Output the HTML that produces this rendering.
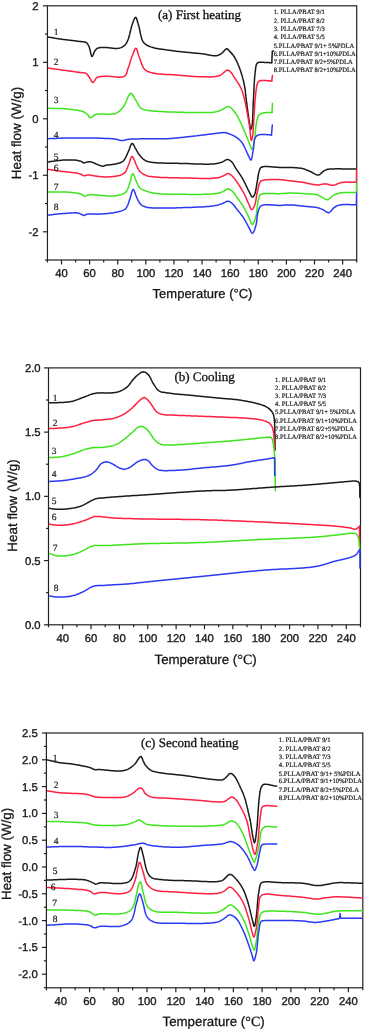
<!DOCTYPE html>
<html><head><meta charset="utf-8"><title>DSC curves</title>
<style>html,body{margin:0;padding:0;background:#fff;width:365px;height:1030px;overflow:hidden}
svg{display:block;will-change:transform;text-rendering:geometricPrecision}text{font-family:"Liberation Sans",sans-serif}.sr{font-family:"Liberation Serif",serif}</style>
</head><body><svg width="365" height="1030" viewBox="0 0 365 1030"><clipPath id="ca"><rect x="48.05" y="5.30" width="309.15" height="255.20"/></clipPath><g stroke="#222" stroke-width="1.2"><rect x="47.45" y="5.80" width="309.25" height="254.20" fill="none" stroke="#222" stroke-width="1.2"/><line x1="47.45" y1="260.00" x2="47.45" y2="262.50"/><line x1="61.51" y1="260.00" x2="61.51" y2="264.50"/><line x1="75.56" y1="260.00" x2="75.56" y2="262.50"/><line x1="89.62" y1="260.00" x2="89.62" y2="264.50"/><line x1="103.67" y1="260.00" x2="103.67" y2="262.50"/><line x1="117.73" y1="260.00" x2="117.73" y2="264.50"/><line x1="131.78" y1="260.00" x2="131.78" y2="262.50"/><line x1="145.83" y1="260.00" x2="145.83" y2="264.50"/><line x1="159.89" y1="260.00" x2="159.89" y2="262.50"/><line x1="173.94" y1="260.00" x2="173.94" y2="264.50"/><line x1="188.00" y1="260.00" x2="188.00" y2="262.50"/><line x1="202.06" y1="260.00" x2="202.06" y2="264.50"/><line x1="216.11" y1="260.00" x2="216.11" y2="262.50"/><line x1="230.17" y1="260.00" x2="230.17" y2="264.50"/><line x1="244.22" y1="260.00" x2="244.22" y2="262.50"/><line x1="258.27" y1="260.00" x2="258.27" y2="264.50"/><line x1="272.33" y1="260.00" x2="272.33" y2="262.50"/><line x1="286.38" y1="260.00" x2="286.38" y2="264.50"/><line x1="300.44" y1="260.00" x2="300.44" y2="262.50"/><line x1="314.50" y1="260.00" x2="314.50" y2="264.50"/><line x1="328.55" y1="260.00" x2="328.55" y2="262.50"/><line x1="342.60" y1="260.00" x2="342.60" y2="264.50"/><line x1="356.66" y1="260.00" x2="356.66" y2="262.50"/><line x1="42.95" y1="5.80" x2="47.45" y2="5.80"/><line x1="42.95" y1="62.30" x2="47.45" y2="62.30"/><line x1="42.95" y1="118.80" x2="47.45" y2="118.80"/><line x1="42.95" y1="175.30" x2="47.45" y2="175.30"/><line x1="42.95" y1="231.80" x2="47.45" y2="231.80"/><line x1="44.95" y1="34.05" x2="47.45" y2="34.05"/><line x1="44.95" y1="90.55" x2="47.45" y2="90.55"/><line x1="44.95" y1="147.05" x2="47.45" y2="147.05"/><line x1="44.95" y1="203.55" x2="47.45" y2="203.55"/><line x1="44.95" y1="260.05" x2="47.45" y2="260.05"/></g><g clip-path="url(#ca)" fill="none" stroke-width="1.50" stroke-linejoin="round" stroke-linecap="round"><path d="M47.7,37.0 L48.7,37.2 L49.6,37.3 L50.6,37.5 L51.6,37.6 L52.5,37.8 L53.5,38.0 L54.4,38.1 L55.4,38.3 L56.3,38.4 L57.3,38.6 L58.3,38.7 L59.3,38.9 L60.4,39.0 L61.4,39.2 L62.3,39.3 L63.3,39.5 L64.3,39.6 L65.3,39.7 L66.3,39.8 L67.4,40.0 L68.5,40.1 L69.5,40.2 L70.6,40.3 L71.7,40.5 L72.7,40.6 L73.8,40.7 L74.8,40.8 L75.8,41.0 L76.7,41.1 L77.6,41.2 L78.5,41.3 L79.3,41.4 L80.0,41.5 L81.1,41.6 L82.1,41.7 L83.0,41.8 L83.9,41.8 L84.7,42.0 L85.4,42.2 L86.1,42.5 L86.8,43.0 L87.4,43.6 L87.9,44.3 L88.3,45.1 L88.8,46.0 L89.1,46.7 L89.4,47.6 L89.7,48.7 L90.0,49.8 L90.3,51.0 L90.5,52.2 L90.8,53.3 L91.0,54.3 L91.3,55.2 L91.6,55.9 L91.8,56.3 L92.1,56.5 L92.5,56.2 L92.9,55.5 L93.3,54.5 L93.7,53.4 L94.1,52.4 L94.5,51.5 L95.0,50.7 L95.6,49.9 L96.2,49.2 L96.9,48.6 L97.6,48.2 L98.4,48.0 L99.3,47.8 L100.3,47.6 L101.4,47.5 L102.5,47.4 L103.3,47.4 L104.1,47.4 L105.0,47.4 L106.0,47.5 L107.0,47.6 L108.0,47.7 L109.1,47.8 L110.2,48.0 L111.3,48.1 L112.4,48.2 L113.5,48.3 L114.5,48.4 L115.5,48.4 L116.5,48.4 L117.4,48.4 L118.2,48.3 L119.0,48.2 L120.1,47.9 L121.1,47.6 L122.0,47.2 L122.8,46.7 L123.6,46.2 L124.3,45.6 L125.0,45.0 L125.6,44.3 L126.1,43.6 L126.6,42.9 L127.0,42.0 L127.4,41.2 L127.8,40.2 L128.2,39.2 L128.5,38.5 L128.8,37.6 L129.0,36.8 L129.3,35.8 L129.5,34.9 L129.8,33.9 L130.0,32.8 L130.3,31.8 L130.5,30.7 L130.8,29.7 L131.0,28.7 L131.2,27.7 L131.5,26.7 L131.8,25.8 L132.0,25.0 L132.3,24.2 L132.7,23.1 L133.1,21.9 L133.5,20.8 L134.0,19.7 L134.4,18.7 L134.8,18.0 L135.2,17.5 L135.6,17.3 L136.0,17.5 L136.3,18.0 L136.6,18.7 L137.0,19.7 L137.3,20.8 L137.6,22.0 L137.9,23.2 L138.3,24.4 L138.6,25.5 L138.8,26.3 L139.1,27.1 L139.3,28.0 L139.5,29.0 L139.7,30.0 L139.9,31.0 L140.1,32.0 L140.3,33.1 L140.5,34.1 L140.8,35.1 L141.0,36.2 L141.3,37.1 L141.5,38.1 L141.8,39.0 L142.2,39.9 L142.5,40.6 L142.9,41.4 L143.3,42.0 L143.9,42.8 L144.5,43.4 L145.2,44.0 L145.8,44.5 L146.6,45.0 L147.3,45.4 L148.2,45.8 L149.1,46.2 L150.1,46.6 L150.8,46.9 L151.5,47.1 L152.2,47.3 L153.0,47.5 L153.8,47.8 L154.7,48.0 L155.5,48.2 L156.5,48.4 L157.4,48.5 L158.3,48.7 L159.3,48.9 L160.3,49.0 L161.3,49.2 L162.4,49.3 L163.4,49.5 L164.5,49.6 L165.5,49.8 L166.6,49.9 L167.6,50.1 L168.7,50.2 L169.7,50.3 L170.8,50.5 L171.8,50.6 L172.8,50.7 L173.8,50.9 L174.8,51.0 L175.8,51.1 L176.7,51.3 L177.7,51.4 L178.7,51.5 L179.7,51.6 L180.7,51.7 L181.8,51.8 L182.8,51.9 L183.8,52.0 L184.8,52.1 L185.9,52.2 L186.9,52.3 L187.9,52.4 L189.0,52.5 L190.0,52.6 L191.0,52.7 L192.0,52.8 L193.0,52.9 L194.0,53.0 L195.0,53.1 L195.9,53.2 L196.9,53.2 L197.8,53.3 L198.7,53.4 L199.6,53.5 L200.5,53.6 L201.4,53.7 L202.2,53.8 L203.3,53.9 L204.4,54.1 L205.4,54.3 L206.5,54.5 L207.5,54.7 L208.5,54.9 L209.5,55.1 L210.5,55.3 L211.4,55.4 L212.4,55.6 L213.2,55.7 L214.1,55.8 L214.9,55.8 L215.7,55.8 L216.4,55.7 L217.3,55.5 L218.2,55.3 L219.0,54.9 L219.8,54.5 L220.5,54.1 L221.2,53.7 L221.9,53.2 L222.6,52.6 L223.3,51.8 L224.0,51.0 L224.7,50.2 L225.3,49.5 L226.0,49.0 L226.6,48.8 L227.3,49.0 L228.1,49.5 L228.8,50.3 L229.4,51.1 L230.1,51.8 L230.7,52.4 L231.4,53.1 L232.0,53.7 L232.6,54.5 L233.2,55.3 L233.7,56.0 L234.2,56.7 L234.7,57.5 L235.1,58.4 L235.6,59.3 L236.1,60.2 L236.6,61.1 L237.0,62.0 L237.5,63.0 L237.9,63.8 L238.2,64.7 L238.6,65.6 L239.0,66.5 L239.3,67.4 L239.7,68.4 L240.0,69.3 L240.4,70.3 L240.7,71.3 L241.0,72.2 L241.3,73.2 L241.6,74.2 L241.9,75.1 L242.2,76.0 L242.4,76.9 L242.7,77.8 L242.9,78.8 L243.1,79.7 L243.4,80.6 L243.6,81.5 L243.8,82.4 L244.0,83.4 L244.2,84.3 L244.4,85.2 L244.5,86.2 L244.7,87.1 L244.9,88.1 L245.0,89.0 L245.2,90.0 L245.3,91.0 L245.4,92.0 L245.5,93.0 L245.6,93.9 L245.7,94.9 L245.8,95.9 L245.9,96.9 L246.1,98.0 L246.2,99.0 L246.3,100.0 L246.4,100.9 L246.5,101.8 L246.7,102.8 L246.8,103.7 L246.9,104.7 L247.0,105.7 L247.2,106.6 L247.3,107.6 L247.4,108.6 L247.6,109.5 L247.7,110.5 L247.8,111.4 L247.9,112.4 L248.1,113.3 L248.2,114.1 L248.3,115.0 L248.4,116.0 L248.6,117.0 L248.7,118.0 L248.9,119.0 L249.0,119.9 L249.1,120.8 L249.3,121.8 L249.4,122.6 L249.5,123.5 L249.7,124.3 L249.8,125.0 L250.0,126.1 L250.2,127.3 L250.4,128.4 L250.6,129.1 L250.8,129.4 L251.1,129.1 L251.4,128.3 L251.7,127.3 L252.0,126.0 L252.1,125.5 L252.2,124.9 L252.3,124.2 L252.3,123.5 L252.4,122.7 L252.5,121.9 L252.5,121.0 L252.6,120.1 L252.7,119.2 L252.7,118.2 L252.7,117.2 L252.8,116.2 L252.8,115.1 L252.9,114.0 L252.9,112.9 L252.9,111.8 L253.0,110.7 L253.0,109.6 L253.0,108.5 L253.1,107.4 L253.1,106.3 L253.2,105.2 L253.2,104.1 L253.2,103.0 L253.3,102.0 L253.3,101.0 L253.4,100.0 L253.5,99.0 L253.5,98.0 L253.6,97.0 L253.6,96.0 L253.7,95.0 L253.7,94.0 L253.8,92.9 L253.8,91.9 L253.9,90.8 L253.9,89.8 L254.0,88.7 L254.0,87.6 L254.1,86.6 L254.1,85.6 L254.2,84.5 L254.3,83.5 L254.3,82.5 L254.4,81.5 L254.4,80.5 L254.5,79.6 L254.6,78.6 L254.6,77.7 L254.7,76.9 L254.8,76.0 L254.9,75.2 L254.9,74.4 L255.0,73.6 L255.1,72.9 L255.2,71.8 L255.4,70.7 L255.5,69.6 L255.6,68.6 L255.7,67.6 L255.9,66.8 L256.0,65.9 L256.2,65.2 L256.4,64.5 L256.7,64.0 L257.2,63.3 L257.7,62.8 L258.4,62.5 L259.1,62.3 L260.0,62.3 L260.9,62.3 L262.0,62.3 L262.8,62.3 L263.7,62.3 L264.6,62.4 L265.6,62.4 L266.6,62.5 L267.6,62.6 L268.7,62.6 L269.8,62.7 L270.8,62.7 L271.8,62.8" stroke="#1a1a1a"/><path d="M271.8,62.8 L272.3,51.3 L273.5,51.1" stroke="#1a1a1a"/><path d="M47.7,68.0 L48.7,68.1 L49.6,68.3 L50.6,68.4 L51.6,68.5 L52.5,68.7 L53.5,68.8 L54.4,68.9 L55.4,69.1 L56.4,69.2 L57.3,69.3 L58.3,69.5 L59.3,69.6 L60.4,69.8 L61.4,69.9 L62.3,70.0 L63.3,70.2 L64.3,70.3 L65.3,70.4 L66.4,70.6 L67.4,70.7 L68.5,70.9 L69.6,71.0 L70.6,71.2 L71.7,71.3 L72.7,71.5 L73.8,71.6 L74.8,71.8 L75.8,71.9 L76.7,72.0 L77.6,72.2 L78.5,72.3 L79.3,72.4 L80.0,72.5 L81.1,72.6 L82.1,72.7 L83.0,72.7 L83.8,72.8 L84.6,72.9 L85.4,73.1 L86.1,73.4 L86.8,73.9 L87.4,74.5 L87.9,75.2 L88.4,76.0 L88.9,76.8 L89.4,77.5 L89.9,78.3 L90.4,79.2 L90.9,80.1 L91.4,81.0 L91.9,81.8 L92.5,82.3 L93.0,82.5 L93.5,82.3 L94.0,81.7 L94.5,80.9 L95.1,79.9 L95.6,79.0 L96.3,78.1 L97.0,77.5 L97.7,77.1 L98.5,76.9 L99.3,76.7 L100.2,76.5 L101.2,76.4 L102.1,76.4 L103.1,76.3 L104.2,76.3 L105.3,76.2 L106.1,76.2 L107.0,76.2 L107.9,76.2 L108.9,76.3 L109.9,76.4 L111.0,76.5 L112.1,76.6 L113.2,76.7 L114.3,76.8 L115.4,76.9 L116.5,77.0 L117.6,77.1 L118.7,77.2 L119.7,77.2 L120.7,77.1 L121.6,77.1 L122.4,76.9 L123.2,76.8 L123.9,76.5 L124.5,76.2 L125.2,75.6 L125.8,74.9 L126.3,74.0 L126.7,73.1 L127.0,72.1 L127.3,71.1 L127.5,70.1 L127.8,69.0 L128.2,68.0 L128.5,67.1 L128.8,66.2 L129.2,65.3 L129.5,64.3 L129.8,63.3 L130.1,62.3 L130.4,61.3 L130.7,60.3 L131.0,59.3 L131.3,58.4 L131.6,57.4 L132.0,56.5 L132.3,55.7 L132.7,54.7 L133.1,53.6 L133.5,52.5 L133.9,51.4 L134.3,50.4 L134.7,49.6 L135.1,48.9 L135.5,48.4 L135.9,48.3 L136.2,48.5 L136.6,48.9 L136.9,49.6 L137.2,50.5 L137.5,51.5 L137.8,52.6 L138.1,53.7 L138.5,54.9 L138.8,56.0 L139.2,57.0 L139.5,57.8 L139.9,58.7 L140.2,59.7 L140.5,60.6 L140.8,61.6 L141.2,62.6 L141.5,63.6 L141.9,64.6 L142.3,65.5 L142.7,66.4 L143.2,67.3 L143.6,68.1 L144.1,68.8 L144.7,69.4 L145.4,70.1 L146.2,70.6 L147.0,71.1 L147.9,71.5 L148.8,71.8 L149.7,72.2 L150.7,72.4 L151.8,72.7 L152.9,73.0 L153.7,73.2 L154.5,73.3 L155.3,73.5 L156.2,73.6 L157.1,73.7 L158.0,73.9 L159.0,73.9 L159.9,74.0 L160.9,74.1 L162.0,74.2 L163.0,74.2 L164.1,74.3 L165.1,74.4 L166.2,74.4 L167.3,74.5 L168.4,74.5 L169.4,74.6 L170.5,74.6 L171.6,74.7 L172.7,74.8 L173.7,74.8 L174.8,74.9 L175.7,75.0 L176.7,75.1 L177.6,75.1 L178.6,75.2 L179.6,75.3 L180.6,75.4 L181.6,75.5 L182.6,75.6 L183.6,75.7 L184.6,75.7 L185.6,75.8 L186.7,75.9 L187.7,76.0 L188.7,76.1 L189.7,76.2 L190.8,76.3 L191.8,76.3 L192.8,76.4 L193.8,76.5 L194.8,76.5 L195.7,76.6 L196.7,76.6 L197.7,76.7 L198.6,76.7 L199.5,76.8 L200.4,76.8 L201.3,76.8 L202.2,76.8 L203.3,76.8 L204.3,76.8 L205.3,76.8 L206.4,76.8 L207.4,76.9 L208.4,76.9 L209.4,76.9 L210.4,76.9 L211.4,76.8 L212.3,76.8 L213.3,76.7 L214.2,76.7 L215.1,76.6 L216.0,76.5 L216.8,76.3 L217.6,76.1 L218.4,75.9 L219.2,75.7 L220.1,75.3 L221.0,74.8 L221.9,74.2 L222.7,73.5 L223.5,72.8 L224.2,72.1 L225.0,71.5 L225.7,70.9 L226.3,70.5 L227.0,70.2 L227.6,70.1 L228.5,70.3 L229.3,70.8 L230.1,71.5 L230.8,72.2 L231.5,73.0 L232.0,73.6 L232.5,74.3 L232.9,75.0 L233.3,75.8 L233.7,76.5 L234.2,77.3 L234.7,78.0 L235.2,78.8 L235.8,79.6 L236.4,80.5 L237.0,81.3 L237.5,82.1 L238.1,83.0 L238.6,83.8 L239.1,84.6 L239.5,85.4 L239.9,86.2 L240.4,87.0 L240.8,87.8 L241.2,88.6 L241.5,89.5 L241.9,90.4 L242.2,91.3 L242.5,92.2 L242.8,93.1 L243.1,94.0 L243.4,95.0 L243.7,96.0 L243.9,97.0 L244.2,98.0 L244.5,99.0 L244.7,100.0 L244.9,100.9 L245.1,101.8 L245.3,102.7 L245.5,103.6 L245.6,104.5 L245.8,105.4 L246.0,106.3 L246.2,107.2 L246.3,108.2 L246.5,109.1 L246.7,110.1 L246.8,111.0 L247.0,112.0 L247.2,112.9 L247.3,113.8 L247.5,114.7 L247.7,115.6 L247.9,116.6 L248.0,117.5 L248.2,118.4 L248.4,119.4 L248.5,120.3 L248.7,121.3 L248.9,122.2 L249.0,123.2 L249.2,124.1 L249.4,125.1 L249.5,126.0 L249.6,127.0 L249.8,128.1 L249.9,129.3 L250.0,130.6 L250.2,131.9 L250.3,133.2 L250.4,134.4 L250.5,135.6 L250.6,136.8 L250.8,137.8 L250.9,138.7 L251.0,139.4 L251.1,140.0 L251.3,140.4 L251.4,140.5 L251.6,140.2 L251.9,139.5 L252.1,138.5 L252.4,137.3 L252.6,136.0 L252.7,135.3 L252.8,134.6 L252.9,133.9 L253.0,133.0 L253.1,132.2 L253.1,131.2 L253.2,130.3 L253.3,129.3 L253.3,128.3 L253.4,127.3 L253.5,126.2 L253.5,125.2 L253.6,124.1 L253.6,123.0 L253.7,122.0 L253.8,120.9 L253.8,119.9 L253.9,118.9 L253.9,117.9 L254.0,117.0 L254.1,116.0 L254.1,115.1 L254.2,114.1 L254.2,113.1 L254.3,112.2 L254.4,111.2 L254.4,110.2 L254.5,109.3 L254.5,108.3 L254.6,107.4 L254.6,106.4 L254.7,105.5 L254.7,104.6 L254.8,103.6 L254.9,102.7 L254.9,101.8 L255.0,100.9 L255.1,100.0 L255.2,99.0 L255.3,97.9 L255.4,96.9 L255.5,95.8 L255.6,94.8 L255.7,93.7 L255.8,92.7 L255.9,91.7 L256.0,90.7 L256.1,89.8 L256.3,88.9 L256.4,88.1 L256.5,87.2 L256.7,86.5 L256.9,85.5 L257.1,84.5 L257.4,83.6 L257.7,82.8 L258.0,82.2 L258.4,81.6 L259.1,81.1 L259.9,80.8 L261.0,80.6 L261.7,80.5 L262.5,80.5 L263.4,80.5 L264.4,80.5 L265.4,80.6 L266.5,80.6 L267.6,80.7 L268.7,80.8 L269.7,80.9 L270.8,81.0 L271.8,81.0" stroke="#ff1f40"/><path d="M271.8,81.0 L272.4,75.5" stroke="#ff1f40"/><path d="M47.7,108.2 L48.7,108.2 L49.6,108.3 L50.6,108.3 L51.6,108.3 L52.6,108.3 L53.5,108.4 L54.5,108.4 L55.5,108.4 L56.5,108.4 L57.5,108.5 L58.4,108.5 L59.4,108.5 L60.4,108.5 L61.3,108.6 L62.3,108.6 L63.2,108.7 L64.2,108.8 L65.1,108.8 L66.1,108.9 L67.0,109.0 L68.0,109.1 L69.1,109.2 L70.1,109.3 L71.2,109.5 L72.3,109.6 L73.4,109.7 L74.4,109.9 L75.5,110.0 L76.5,110.2 L77.5,110.3 L78.5,110.5 L79.5,110.7 L80.4,110.9 L81.2,111.1 L82.0,111.3 L82.7,111.6 L83.4,111.8 L84.5,112.3 L85.3,112.8 L86.1,113.3 L86.8,113.9 L87.5,114.5 L88.1,115.2 L88.6,116.0 L89.1,116.8 L89.6,117.5 L90.2,117.8 L90.8,117.7 L91.5,117.4 L92.2,116.9 L92.9,116.2 L93.7,115.5 L94.7,114.9 L95.7,114.5 L96.4,114.3 L97.2,114.2 L98.0,114.1 L98.9,114.0 L99.9,114.0 L100.9,114.0 L101.9,114.0 L103.0,114.1 L104.1,114.1 L105.2,114.1 L106.3,114.2 L107.5,114.2 L108.6,114.2 L109.7,114.2 L110.7,114.2 L111.8,114.1 L112.8,114.0 L113.7,113.9 L114.6,113.7 L115.4,113.5 L116.2,113.2 L117.1,112.7 L118.0,112.2 L118.8,111.6 L119.6,111.0 L120.3,110.3 L121.0,109.6 L121.7,108.8 L122.3,108.0 L122.9,107.3 L123.5,106.5 L124.0,105.7 L124.5,105.0 L125.0,104.1 L125.5,103.2 L125.9,102.3 L126.3,101.3 L126.6,100.4 L126.9,99.4 L127.3,98.6 L127.6,97.7 L128.0,97.0 L128.5,96.0 L129.1,95.0 L129.6,94.2 L130.2,93.5 L130.8,93.3 L131.3,93.5 L131.9,94.0 L132.4,94.7 L133.0,95.5 L133.6,96.5 L134.2,97.6 L134.8,98.6 L135.4,99.5 L135.9,100.3 L136.4,101.1 L136.9,102.0 L137.3,102.9 L137.8,103.8 L138.3,104.7 L138.8,105.5 L139.3,106.3 L139.8,107.0 L140.4,107.7 L140.9,108.2 L141.6,108.8 L142.4,109.1 L143.1,109.4 L144.0,109.6 L145.0,109.9 L145.7,110.1 L146.4,110.2 L147.1,110.3 L147.9,110.5 L148.7,110.6 L149.6,110.7 L150.5,110.8 L151.4,110.9 L152.4,111.0 L153.4,111.0 L154.5,111.1 L155.5,111.2 L156.6,111.3 L157.7,111.3 L158.8,111.4 L160.0,111.5 L160.8,111.5 L161.5,111.6 L162.4,111.6 L163.2,111.7 L164.1,111.7 L165.0,111.8 L165.9,111.8 L166.9,111.9 L167.9,111.9 L168.8,111.9 L169.9,112.0 L170.9,112.0 L171.9,112.0 L173.0,112.1 L174.0,112.1 L175.1,112.1 L176.2,112.2 L177.3,112.2 L178.4,112.2 L179.4,112.3 L180.5,112.3 L181.6,112.3 L182.7,112.3 L183.8,112.3 L184.9,112.4 L186.0,112.4 L187.0,112.4 L188.1,112.4 L189.1,112.4 L190.1,112.4 L191.2,112.5 L192.1,112.5 L193.1,112.5 L194.1,112.5 L195.0,112.5 L195.9,112.5 L196.8,112.5 L197.6,112.5 L198.5,112.5 L199.2,112.5 L200.0,112.5 L201.1,112.5 L202.3,112.5 L203.3,112.5 L204.4,112.5 L205.4,112.5 L206.4,112.5 L207.4,112.5 L208.3,112.5 L209.3,112.5 L210.2,112.5 L211.0,112.4 L211.9,112.4 L212.7,112.3 L213.5,112.2 L214.2,112.1 L215.0,112.0 L216.1,111.8 L217.1,111.5 L218.0,111.3 L218.9,111.0 L219.8,110.6 L220.7,110.3 L221.6,109.9 L222.4,109.5 L223.3,109.0 L224.1,108.4 L224.9,107.8 L225.8,107.3 L226.6,106.9 L227.4,106.6 L228.2,106.6 L229.0,106.8 L229.7,107.1 L230.5,107.6 L231.2,108.2 L231.9,108.8 L232.6,109.6 L233.3,110.4 L234.0,111.2 L234.7,112.0 L235.2,112.7 L235.7,113.4 L236.3,114.2 L236.7,115.0 L237.2,115.8 L237.7,116.7 L238.2,117.6 L238.6,118.5 L239.1,119.4 L239.5,120.3 L240.0,121.3 L240.4,122.2 L240.9,123.2 L241.3,124.1 L241.7,125.0 L242.1,125.8 L242.5,126.7 L242.9,127.6 L243.3,128.6 L243.7,129.5 L244.1,130.5 L244.5,131.4 L244.9,132.4 L245.3,133.3 L245.7,134.2 L246.1,135.2 L246.4,136.1 L246.8,137.0 L247.2,137.8 L247.5,138.7 L247.9,139.5 L248.3,140.6 L248.8,141.7 L249.2,142.9 L249.6,144.1 L250.1,145.2 L250.5,146.3 L250.9,147.3 L251.3,148.2 L251.6,148.8 L252.0,149.2 L252.3,149.3 L252.6,149.1 L252.8,148.7 L253.1,148.1 L253.3,147.3 L253.5,146.3 L253.6,145.2 L253.8,144.1 L254.0,142.9 L254.2,141.7 L254.3,140.6 L254.5,139.5 L254.6,138.6 L254.8,137.7 L254.9,136.8 L255.0,135.8 L255.1,134.7 L255.2,133.7 L255.3,132.6 L255.4,131.6 L255.5,130.5 L255.6,129.4 L255.7,128.4 L255.8,127.3 L255.9,126.3 L256.0,125.3 L256.2,124.4 L256.3,123.5 L256.4,122.7 L256.6,121.9 L256.9,120.7 L257.1,119.6 L257.4,118.6 L257.6,117.6 L258.0,116.8 L258.3,116.0 L258.8,115.3 L259.5,114.6 L260.2,114.0 L261.1,113.6 L262.1,113.2 L262.9,113.0 L263.7,112.9 L264.7,112.8 L265.6,112.7 L266.7,112.6 L267.8,112.6 L268.9,112.6 L269.9,112.6 L271.0,112.6 L272.0,112.5" stroke="#3ee41c"/><path d="M272.0,112.5 L272.4,103.3" stroke="#3ee41c"/><path d="M47.7,138.7 L48.7,138.7 L49.7,138.6 L50.7,138.6 L51.6,138.6 L52.6,138.5 L53.6,138.5 L54.6,138.4 L55.6,138.4 L56.5,138.4 L57.5,138.3 L58.5,138.3 L59.5,138.3 L60.5,138.2 L61.4,138.2 L62.4,138.1 L63.4,138.1 L64.4,138.1 L65.4,138.0 L66.4,138.0 L67.4,138.0 L68.4,138.0 L69.4,137.9 L70.4,137.9 L71.4,137.9 L72.4,137.9 L73.4,137.9 L74.3,137.9 L75.3,137.9 L76.3,137.9 L77.3,137.9 L78.3,137.9 L79.3,137.9 L80.3,137.9 L81.3,137.9 L82.4,137.9 L83.4,137.9 L84.4,137.9 L85.4,137.9 L86.4,137.9 L87.5,137.9 L88.5,137.9 L89.5,137.9 L90.5,138.0 L91.5,138.0 L92.4,138.0 L93.4,138.0 L94.4,138.0 L95.3,138.1 L96.2,138.1 L97.2,138.1 L98.1,138.1 L98.9,138.2 L99.8,138.2 L100.9,138.2 L102.0,138.3 L103.1,138.3 L104.1,138.4 L105.2,138.4 L106.3,138.4 L107.3,138.5 L108.3,138.5 L109.3,138.6 L110.3,138.6 L111.2,138.7 L112.2,138.8 L113.0,138.8 L113.9,138.9 L114.7,139.0 L115.5,139.1 L116.2,139.2 L117.3,139.4 L118.3,139.7 L119.1,140.0 L120.0,140.3 L120.8,140.5 L121.7,140.6 L122.6,140.6 L123.4,140.4 L124.2,140.2 L125.1,139.9 L126.1,139.7 L127.2,139.5 L127.9,139.4 L128.7,139.3 L129.5,139.3 L130.4,139.2 L131.3,139.1 L132.3,139.1 L133.3,139.0 L134.3,139.0 L135.3,139.0 L136.4,138.9 L137.5,138.9 L138.5,138.9 L139.6,138.8 L140.7,138.8 L141.8,138.8 L142.9,138.7 L143.9,138.7 L145.0,138.7 L145.9,138.7 L146.8,138.7 L147.8,138.7 L148.7,138.7 L149.7,138.7 L150.6,138.7 L151.6,138.7 L152.5,138.7 L153.5,138.7 L154.4,138.8 L155.4,138.8 L156.4,138.8 L157.4,138.8 L158.4,138.8 L159.3,138.8 L160.3,138.8 L161.3,138.8 L162.3,138.8 L163.3,138.8 L164.4,138.8 L165.4,138.8 L166.4,138.7 L167.4,138.7 L168.3,138.7 L169.3,138.6 L170.3,138.5 L171.2,138.5 L172.2,138.4 L173.2,138.3 L174.2,138.2 L175.2,138.1 L176.3,138.0 L177.3,137.9 L178.3,137.8 L179.3,137.7 L180.3,137.6 L181.4,137.5 L182.4,137.4 L183.4,137.3 L184.4,137.2 L185.4,137.1 L186.4,137.0 L187.4,136.8 L188.4,136.7 L189.3,136.6 L190.3,136.5 L191.2,136.4 L192.2,136.3 L193.1,136.2 L193.9,136.1 L194.8,136.0 L195.9,135.9 L196.9,135.8 L198.0,135.6 L199.0,135.5 L200.0,135.4 L201.0,135.3 L201.9,135.1 L202.9,135.0 L203.8,134.9 L204.8,134.8 L205.7,134.7 L206.6,134.5 L207.5,134.4 L208.4,134.3 L209.4,134.2 L210.3,134.1 L211.2,134.0 L212.2,133.9 L213.3,133.7 L214.3,133.6 L215.4,133.5 L216.4,133.3 L217.5,133.2 L218.5,133.0 L219.5,132.9 L220.5,132.8 L221.5,132.7 L222.4,132.7 L223.3,132.6 L224.1,132.6 L224.9,132.7 L226.0,132.8 L226.9,133.1 L227.8,133.3 L228.6,133.6 L229.5,134.0 L230.3,134.3 L231.1,134.6 L231.9,134.9 L232.7,135.2 L233.4,135.6 L234.2,136.0 L235.0,136.5 L235.7,137.0 L236.5,137.4 L237.2,138.0 L238.0,138.5 L238.7,139.1 L239.5,139.8 L240.2,140.5 L240.9,141.2 L241.6,142.0 L242.1,142.7 L242.6,143.5 L243.1,144.3 L243.6,145.2 L244.1,146.1 L244.5,147.1 L245.0,148.0 L245.4,149.0 L245.9,150.0 L246.3,150.9 L246.7,151.9 L247.1,152.8 L247.5,153.6 L247.8,154.4 L248.2,155.1 L248.7,156.2 L249.2,157.3 L249.7,158.4 L250.1,159.3 L250.5,159.9 L250.9,160.1 L251.2,159.9 L251.4,159.4 L251.7,158.7 L251.9,157.7 L252.1,156.7 L252.3,155.5 L252.5,154.3 L252.7,153.1 L252.9,151.9 L253.1,150.8 L253.3,149.9 L253.4,148.9 L253.5,147.9 L253.6,146.9 L253.7,145.8 L253.8,144.7 L253.9,143.7 L254.1,142.6 L254.2,141.6 L254.3,140.7 L254.5,139.8 L254.7,138.9 L255.0,138.2 L255.3,137.6 L255.8,136.8 L256.4,136.2 L257.0,135.7 L257.7,135.3 L258.6,134.9 L259.3,134.7 L260.1,134.6 L261.0,134.5 L261.9,134.5 L262.9,134.5 L263.9,134.5 L265.0,134.6 L266.1,134.6 L267.2,134.7 L268.3,134.8 L269.4,134.8 L270.5,134.9 L271.5,134.9" stroke="#2a3af2"/><path d="M271.5,134.9 L272.3,125.0" stroke="#2a3af2"/><path d="M47.7,162.1 L48.6,162.0 L49.5,161.8 L50.4,161.6 L51.3,161.5 L52.2,161.3 L53.1,161.2 L54.1,161.1 L55.0,160.9 L56.0,160.8 L56.9,160.7 L57.9,160.6 L58.9,160.5 L59.9,160.4 L60.9,160.3 L61.9,160.2 L62.9,160.1 L63.9,160.0 L64.9,160.0 L65.9,159.9 L66.9,159.9 L67.9,159.9 L69.0,159.9 L70.0,159.9 L71.1,159.9 L72.1,159.9 L73.2,160.0 L74.1,160.0 L75.1,160.1 L76.0,160.2 L76.8,160.3 L77.8,160.5 L78.7,160.7 L79.6,160.9 L80.4,161.1 L81.2,161.4 L82.0,161.8 L82.7,162.3 L83.3,162.8 L84.0,163.0 L84.8,162.8 L85.7,162.4 L86.6,162.1 L87.4,162.0 L88.3,161.9 L89.2,161.8 L90.1,161.8 L91.0,161.9 L91.9,162.1 L92.8,162.5 L93.8,162.9 L94.7,163.3 L95.6,163.7 L96.5,164.1 L97.4,164.5 L98.4,164.9 L99.3,165.2 L100.1,165.5 L100.9,165.8 L101.7,166.1 L102.4,166.3 L103.1,166.3 L103.8,166.1 L104.5,165.7 L105.3,165.4 L106.1,165.2 L106.9,165.1 L107.9,165.0 L108.8,164.9 L109.8,164.8 L110.8,164.7 L111.7,164.6 L112.6,164.4 L113.6,164.3 L114.5,164.2 L115.5,164.0 L116.4,163.8 L117.3,163.6 L118.3,163.3 L119.3,163.0 L120.3,162.7 L121.2,162.3 L122.1,161.9 L122.8,161.4 L123.5,160.8 L124.0,160.2 L124.5,159.4 L125.0,158.6 L125.4,157.9 L125.8,157.2 L126.2,156.4 L126.6,155.5 L127.0,154.6 L127.4,153.7 L127.8,152.8 L128.2,151.9 L128.6,151.0 L129.0,150.1 L129.4,149.0 L129.8,147.9 L130.1,146.8 L130.5,145.8 L130.9,144.9 L131.3,144.1 L131.7,143.6 L132.1,143.4 L132.6,143.6 L133.2,144.2 L133.7,145.1 L134.3,146.2 L134.8,147.3 L135.4,148.3 L135.9,149.1 L136.4,149.9 L136.8,150.8 L137.3,151.7 L137.8,152.6 L138.3,153.5 L138.9,154.3 L139.5,155.1 L140.1,155.8 L140.7,156.5 L141.3,157.2 L141.9,157.8 L142.6,158.5 L143.3,159.1 L144.0,159.6 L144.7,160.2 L145.5,160.6 L146.3,161.0 L147.1,161.3 L147.9,161.5 L148.7,161.8 L149.6,161.9 L150.5,162.1 L151.5,162.2 L152.6,162.4 L153.7,162.5 L154.4,162.6 L155.2,162.7 L155.9,162.7 L156.7,162.8 L157.6,162.9 L158.5,162.9 L159.4,163.0 L160.3,163.0 L161.2,163.0 L162.2,163.1 L163.2,163.1 L164.2,163.1 L165.2,163.2 L166.2,163.2 L167.3,163.2 L168.3,163.2 L169.4,163.2 L170.5,163.2 L171.5,163.3 L172.6,163.3 L173.7,163.3 L174.8,163.3 L175.8,163.3 L176.9,163.3 L178.0,163.3 L179.0,163.4 L180.1,163.4 L181.1,163.4 L182.1,163.4 L183.1,163.5 L184.1,163.5 L185.1,163.5 L186.1,163.6 L187.2,163.6 L188.3,163.6 L189.4,163.7 L190.5,163.7 L191.6,163.8 L192.7,163.8 L193.8,163.9 L194.9,163.9 L196.0,163.9 L197.1,164.0 L198.2,164.0 L199.3,164.1 L200.4,164.1 L201.4,164.1 L202.5,164.1 L203.5,164.2 L204.6,164.2 L205.6,164.2 L206.5,164.2 L207.5,164.2 L208.4,164.2 L209.3,164.2 L210.2,164.1 L211.0,164.1 L211.8,164.1 L212.6,164.0 L213.3,164.0 L214.0,163.9 L215.2,163.8 L216.2,163.6 L217.2,163.4 L218.1,163.2 L219.0,163.0 L219.8,162.8 L220.6,162.5 L221.4,162.3 L222.2,162.0 L223.1,161.6 L223.9,161.2 L224.7,160.7 L225.5,160.2 L226.2,159.8 L227.0,159.6 L227.7,159.5 L228.6,159.7 L229.4,160.1 L230.2,160.6 L231.0,161.3 L231.8,162.0 L232.4,162.6 L232.9,163.4 L233.4,164.1 L233.9,165.0 L234.4,165.9 L234.9,166.8 L235.4,167.7 L236.0,168.6 L236.5,169.4 L237.0,170.1 L237.5,170.9 L238.1,171.7 L238.6,172.5 L239.2,173.3 L239.8,174.2 L240.3,175.0 L240.9,175.9 L241.4,176.7 L242.0,177.6 L242.5,178.5 L243.0,179.3 L243.4,180.2 L243.9,181.1 L244.4,182.0 L244.8,182.9 L245.3,183.9 L245.7,184.8 L246.2,185.7 L246.6,186.7 L247.1,187.6 L247.5,188.5 L247.9,189.3 L248.3,190.1 L248.7,190.9 L249.1,191.6 L249.6,192.6 L250.1,193.7 L250.6,194.7 L251.1,195.6 L251.5,196.4 L252.0,196.9 L252.4,197.1 L253.0,196.9 L253.5,196.3 L254.1,195.5 L254.6,194.5 L254.9,193.9 L255.1,193.2 L255.3,192.3 L255.6,191.4 L255.8,190.5 L255.9,189.5 L256.1,188.4 L256.3,187.3 L256.5,186.2 L256.7,185.1 L256.8,184.0 L257.0,182.9 L257.2,181.9 L257.3,180.9 L257.5,180.0 L257.7,179.0 L257.9,178.0 L258.0,177.0 L258.2,176.0 L258.3,175.0 L258.5,174.0 L258.7,173.1 L258.8,172.2 L259.0,171.4 L259.3,170.7 L259.5,170.0 L259.9,169.1 L260.2,168.4 L260.7,167.7 L261.5,167.2 L262.0,167.0 L262.6,166.8 L263.4,166.7 L264.2,166.6 L265.1,166.6 L266.0,166.6 L267.1,166.6 L268.1,166.6 L269.2,166.7 L270.4,166.8 L271.5,166.8 L272.6,166.9 L273.8,167.0 L274.9,167.1 L276.0,167.2 L277.0,167.3 L278.0,167.3 L278.9,167.4 L279.8,167.4 L280.8,167.4 L281.8,167.4 L282.8,167.4 L283.7,167.4 L284.6,167.4 L285.5,167.4 L286.3,167.4 L287.2,167.4 L288.1,167.4 L289.0,167.5 L290.0,167.5 L290.9,167.5 L291.9,167.6 L292.8,167.6 L293.8,167.6 L294.8,167.7 L295.8,167.7 L296.7,167.8 L297.7,167.9 L298.7,167.9 L299.6,168.1 L300.6,168.2 L301.4,168.3 L302.3,168.5 L303.3,168.8 L304.3,169.0 L305.2,169.4 L306.1,169.7 L307.0,170.1 L307.9,170.5 L308.7,170.8 L309.6,171.2 L310.5,171.6 L311.4,172.0 L312.3,172.5 L313.2,173.1 L314.2,173.6 L315.1,174.1 L316.0,174.6 L316.8,174.9 L317.6,175.1 L318.4,175.1 L319.2,174.8 L320.0,174.3 L320.8,173.6 L321.5,172.9 L322.2,172.2 L322.9,171.6 L323.7,171.1 L324.5,170.6 L325.3,170.2 L326.1,169.8 L327.0,169.5 L327.8,169.3 L328.5,169.2 L329.3,169.1 L330.1,169.0 L331.0,169.0 L332.0,168.9 L333.1,168.9 L333.8,168.9 L334.5,168.9 L335.3,168.8 L336.1,168.8 L336.9,168.8 L337.8,168.8 L338.8,168.8 L339.7,168.8 L340.7,168.8 L341.7,168.9 L342.7,168.9 L343.7,168.9 L344.8,168.9 L345.8,168.9 L346.9,168.9 L347.9,169.0 L349.0,169.0 L350.1,169.0 L351.1,169.0 L352.2,169.0 L353.2,169.1 L354.2,169.1 L355.2,169.1 L356.2,169.1" stroke="#1a1a1a"/><path d="M47.2,169.1 L48.1,169.3 L49.0,169.4 L49.9,169.6 L50.8,169.7 L51.7,169.9 L52.6,170.0 L53.5,170.2 L54.5,170.3 L55.4,170.5 L56.3,170.6 L57.2,170.8 L58.2,170.9 L59.1,171.0 L60.0,171.1 L61.0,171.2 L61.9,171.4 L62.9,171.5 L63.9,171.6 L64.8,171.7 L65.8,171.8 L66.8,171.9 L67.7,172.0 L68.6,172.1 L69.6,172.2 L70.4,172.3 L71.3,172.4 L72.4,172.5 L73.4,172.7 L74.5,172.8 L75.5,173.0 L76.5,173.1 L77.5,173.3 L78.4,173.5 L79.3,173.7 L80.1,173.9 L81.0,174.3 L81.8,174.7 L82.5,175.1 L83.2,175.5 L84.0,175.7 L84.9,175.7 L85.7,175.4 L86.6,175.2 L87.7,175.0 L88.4,175.0 L89.1,175.0 L90.0,175.1 L90.9,175.2 L91.8,175.4 L92.8,175.5 L93.8,175.7 L94.8,175.9 L95.9,176.0 L96.9,176.2 L98.0,176.4 L99.0,176.5 L100.1,176.6 L101.0,176.7 L102.0,176.8 L103.0,176.8 L103.9,176.9 L104.9,176.9 L105.9,176.9 L106.9,176.9 L107.9,176.9 L108.9,176.8 L109.8,176.8 L110.8,176.7 L111.7,176.7 L112.6,176.6 L113.5,176.5 L114.3,176.4 L115.1,176.3 L116.2,176.1 L117.2,175.9 L118.2,175.7 L119.2,175.5 L120.1,175.2 L120.9,174.9 L121.7,174.6 L122.6,174.2 L123.5,173.7 L124.3,173.1 L125.0,172.4 L125.5,171.8 L125.9,171.1 L126.3,170.2 L126.7,169.4 L127.1,168.4 L127.5,167.5 L127.8,166.5 L128.2,165.6 L128.6,164.7 L129.0,163.7 L129.4,162.6 L129.8,161.4 L130.1,160.2 L130.5,159.1 L130.9,158.0 L131.3,157.2 L131.7,156.7 L132.1,156.5 L132.5,156.7 L132.9,157.1 L133.3,157.8 L133.8,158.7 L134.2,159.7 L134.7,160.8 L135.1,162.0 L135.5,163.2 L136.0,164.3 L136.4,165.3 L136.8,166.1 L137.3,167.0 L137.7,167.8 L138.1,168.7 L138.5,169.5 L138.9,170.2 L139.4,170.9 L140.0,171.6 L140.7,172.2 L141.4,172.8 L142.2,173.4 L143.1,174.0 L144.0,174.5 L144.9,174.9 L145.8,175.3 L146.8,175.7 L147.7,176.0 L148.5,176.2 L149.4,176.4 L150.3,176.5 L151.2,176.6 L152.1,176.7 L153.1,176.8 L154.2,176.9 L155.2,177.0 L156.4,177.1 L157.2,177.2 L158.0,177.2 L158.8,177.3 L159.7,177.3 L160.5,177.4 L161.4,177.4 L162.4,177.5 L163.3,177.5 L164.3,177.5 L165.2,177.6 L166.2,177.6 L167.2,177.6 L168.3,177.7 L169.3,177.7 L170.3,177.7 L171.4,177.7 L172.5,177.8 L173.5,177.8 L174.6,177.8 L175.7,177.8 L176.8,177.8 L177.9,177.8 L178.9,177.9 L180.0,177.9 L181.1,177.9 L182.0,177.9 L183.0,177.9 L183.9,178.0 L184.9,178.0 L185.9,178.0 L187.0,178.0 L188.0,178.1 L189.1,178.1 L190.2,178.1 L191.3,178.2 L192.4,178.2 L193.5,178.2 L194.6,178.3 L195.8,178.3 L196.9,178.3 L198.0,178.3 L199.1,178.4 L200.2,178.4 L201.3,178.4 L202.4,178.4 L203.5,178.4 L204.6,178.4 L205.6,178.4 L206.7,178.4 L207.7,178.4 L208.7,178.4 L209.6,178.4 L210.5,178.4 L211.4,178.3 L212.3,178.3 L213.1,178.3 L213.9,178.2 L214.7,178.1 L215.4,178.1 L216.1,178.0 L216.7,177.9 L217.8,177.7 L218.9,177.5 L219.8,177.2 L220.6,176.9 L221.4,176.6 L222.1,176.3 L222.9,176.0 L223.6,175.7 L224.4,175.3 L225.2,174.8 L226.0,174.3 L226.7,173.9 L227.4,173.6 L228.2,173.5 L228.9,173.7 L229.7,174.1 L230.4,174.6 L231.2,175.2 L231.9,175.8 L232.6,176.5 L233.2,177.1 L233.8,177.8 L234.4,178.4 L234.9,179.1 L235.4,179.8 L236.0,180.7 L236.4,181.3 L236.9,181.9 L237.3,182.6 L237.8,183.4 L238.4,184.1 L238.9,185.0 L239.4,185.8 L240.0,186.6 L240.5,187.5 L241.1,188.4 L241.6,189.3 L242.2,190.2 L242.7,191.0 L243.1,191.9 L243.6,192.7 L244.1,193.6 L244.5,194.5 L244.9,195.4 L245.4,196.3 L245.8,197.2 L246.2,198.1 L246.6,199.1 L247.0,200.0 L247.3,200.9 L247.7,201.7 L248.1,202.6 L248.4,203.4 L248.8,204.1 L249.1,204.8 L249.6,205.8 L250.0,206.9 L250.4,207.9 L250.8,208.8 L251.3,209.4 L251.7,209.6 L252.2,209.4 L252.7,209.0 L253.2,208.3 L253.7,207.4 L254.2,206.5 L254.6,205.5 L254.9,204.8 L255.1,204.0 L255.3,203.1 L255.5,202.2 L255.7,201.2 L255.9,200.2 L256.1,199.2 L256.2,198.1 L256.4,197.0 L256.5,196.0 L256.7,194.9 L256.9,193.9 L257.1,192.9 L257.3,192.0 L257.6,191.0 L257.8,189.9 L258.0,188.7 L258.3,187.6 L258.5,186.5 L258.8,185.5 L259.1,184.5 L259.4,183.6 L259.7,182.8 L260.1,182.1 L260.5,181.5 L261.1,180.9 L261.8,180.6 L262.5,180.4 L263.5,180.2 L264.1,180.1 L264.8,180.0 L265.6,179.9 L266.5,179.8 L267.4,179.7 L268.4,179.7 L269.5,179.6 L270.5,179.6 L271.6,179.5 L272.7,179.5 L273.8,179.5 L274.9,179.5 L275.9,179.5 L277.0,179.5 L278.0,179.5 L278.9,179.6 L279.8,179.6 L280.8,179.7 L281.8,179.7 L282.7,179.8 L283.6,179.9 L284.5,180.0 L285.4,180.2 L286.3,180.3 L287.2,180.4 L288.1,180.6 L289.0,180.7 L290.0,180.8 L290.9,180.9 L291.9,181.0 L292.8,181.1 L293.8,181.2 L294.8,181.3 L295.7,181.5 L296.7,181.6 L297.7,181.7 L298.7,181.8 L299.6,181.9 L300.5,182.0 L301.4,182.2 L302.3,182.3 L303.3,182.5 L304.2,182.6 L305.2,182.8 L306.1,183.0 L307.0,183.2 L307.9,183.4 L308.7,183.6 L309.6,183.7 L310.5,183.9 L311.4,184.1 L312.3,184.2 L313.2,184.4 L314.1,184.5 L315.0,184.7 L315.9,184.8 L316.8,184.9 L317.7,184.9 L318.6,184.9 L319.5,184.8 L320.4,184.6 L321.4,184.5 L322.3,184.3 L323.3,184.1 L324.2,184.0 L325.1,183.9 L326.0,183.9 L326.9,184.0 L327.8,184.2 L328.7,184.4 L329.6,184.7 L330.4,185.0 L331.3,185.2 L332.2,185.3 L333.1,185.3 L334.0,185.2 L334.9,184.9 L335.7,184.6 L336.6,184.2 L337.5,183.8 L338.4,183.4 L339.4,183.1 L340.4,182.7 L341.4,182.5 L342.2,182.4 L343.1,182.3 L343.9,182.2 L344.8,182.2 L345.7,182.1 L346.7,182.1 L347.6,182.1 L348.6,182.2 L349.6,182.2 L350.6,182.2 L351.6,182.2 L352.5,182.3 L353.5,182.3 L354.5,182.3 L355.5,182.3 L356.4,182.3" stroke="#ff1f40"/><path d="M356.4,182.3 L356.6,169.5" stroke="#ff1f40"/><path d="M47.7,192.1 L48.7,192.1 L49.6,192.1 L50.6,192.1 L51.6,192.1 L52.6,192.0 L53.6,192.0 L54.6,192.0 L55.5,192.0 L56.5,192.0 L57.5,191.9 L58.5,191.9 L59.5,191.9 L60.4,191.9 L61.4,191.9 L62.3,191.9 L63.3,191.9 L64.2,192.0 L65.1,192.0 L66.0,192.0 L66.9,192.1 L68.0,192.2 L69.1,192.3 L70.1,192.3 L71.2,192.4 L72.3,192.6 L73.4,192.7 L74.4,192.8 L75.4,192.9 L76.4,193.1 L77.4,193.2 L78.3,193.4 L79.1,193.6 L79.9,193.8 L80.6,194.0 L81.6,194.4 L82.4,195.0 L83.2,195.5 L83.9,196.0 L84.7,196.2 L85.4,196.1 L86.1,195.9 L86.9,195.5 L87.7,195.2 L88.8,194.9 L89.4,194.8 L90.0,194.8 L90.8,194.8 L91.6,194.8 L92.4,194.8 L93.3,194.8 L94.3,194.9 L95.3,194.9 L96.3,195.0 L97.4,195.1 L98.5,195.2 L99.6,195.3 L100.7,195.4 L101.9,195.5 L103.0,195.5 L104.2,195.6 L105.3,195.7 L106.5,195.8 L107.6,195.9 L108.7,195.9 L109.8,195.9 L110.8,196.0 L111.9,196.0 L112.8,196.0 L113.8,195.9 L114.6,195.9 L115.4,195.8 L116.2,195.7 L117.3,195.5 L118.4,195.3 L119.4,195.1 L120.3,194.9 L121.2,194.6 L122.1,194.3 L122.9,194.0 L123.7,193.6 L124.5,193.2 L125.2,192.7 L125.8,192.1 L126.4,191.5 L126.9,190.7 L127.4,189.9 L127.8,189.0 L128.1,188.1 L128.4,187.2 L128.7,186.2 L129.0,185.3 L129.3,184.3 L129.6,183.4 L129.9,182.5 L130.2,181.5 L130.5,180.5 L130.8,179.3 L131.0,178.2 L131.3,177.1 L131.5,176.0 L131.8,175.2 L132.1,174.5 L132.4,174.0 L132.7,173.8 L133.1,174.0 L133.4,174.4 L133.8,175.2 L134.3,176.1 L134.7,177.2 L135.1,178.3 L135.5,179.5 L136.0,180.6 L136.4,181.6 L136.8,182.5 L137.2,183.4 L137.6,184.2 L138.0,185.1 L138.4,185.9 L138.9,186.6 L139.4,187.4 L140.0,188.0 L140.7,188.6 L141.4,189.1 L142.2,189.5 L143.1,189.9 L144.0,190.3 L144.9,190.6 L145.9,191.0 L146.8,191.3 L147.7,191.6 L148.5,191.9 L149.4,192.1 L150.3,192.4 L151.2,192.6 L152.1,192.8 L153.1,193.0 L154.2,193.2 L155.2,193.3 L156.4,193.5 L157.2,193.6 L158.0,193.7 L158.8,193.8 L159.6,193.8 L160.5,193.9 L161.4,193.9 L162.3,194.0 L163.3,194.0 L164.2,194.1 L165.2,194.1 L166.2,194.2 L167.2,194.2 L168.3,194.2 L169.3,194.2 L170.3,194.2 L171.4,194.2 L172.5,194.3 L173.5,194.3 L174.6,194.3 L175.7,194.3 L176.8,194.3 L177.9,194.3 L178.9,194.3 L180.0,194.3 L181.1,194.3 L182.0,194.3 L183.0,194.3 L183.9,194.3 L184.9,194.3 L185.9,194.3 L187.0,194.3 L188.0,194.4 L189.1,194.4 L190.2,194.4 L191.3,194.4 L192.4,194.4 L193.5,194.4 L194.6,194.4 L195.8,194.4 L196.9,194.4 L198.0,194.4 L199.1,194.4 L200.2,194.4 L201.3,194.4 L202.4,194.3 L203.5,194.3 L204.6,194.3 L205.6,194.3 L206.7,194.3 L207.7,194.2 L208.7,194.2 L209.6,194.1 L210.5,194.1 L211.4,194.0 L212.3,194.0 L213.1,193.9 L213.9,193.8 L214.7,193.8 L215.4,193.7 L216.1,193.6 L216.7,193.5 L217.8,193.3 L218.9,193.0 L219.8,192.8 L220.6,192.5 L221.4,192.2 L222.1,191.9 L222.9,191.6 L223.6,191.3 L224.4,190.9 L225.2,190.3 L226.0,189.7 L226.7,189.3 L227.4,188.9 L228.2,188.8 L229.1,189.0 L229.9,189.4 L230.8,190.0 L231.7,190.7 L232.5,191.4 L233.2,192.1 L233.8,192.8 L234.4,193.5 L234.9,194.3 L235.4,195.1 L236.0,196.0 L236.4,196.6 L236.9,197.3 L237.4,198.0 L238.0,198.7 L238.5,199.5 L239.1,200.3 L239.7,201.1 L240.3,202.0 L240.9,202.8 L241.5,203.7 L242.0,204.5 L242.6,205.4 L243.1,206.2 L243.6,207.0 L244.1,207.8 L244.6,208.7 L245.0,209.5 L245.5,210.4 L245.9,211.3 L246.3,212.2 L246.8,213.0 L247.2,213.9 L247.6,214.7 L248.0,215.6 L248.3,216.4 L248.7,217.1 L249.1,217.9 L249.6,218.9 L250.0,220.0 L250.4,221.1 L250.8,222.1 L251.2,223.1 L251.6,223.8 L252.0,224.3 L252.4,224.5 L252.8,224.3 L253.2,223.8 L253.6,223.1 L254.0,222.2 L254.5,221.2 L254.8,220.0 L255.2,218.8 L255.6,217.6 L255.9,216.5 L256.1,215.7 L256.3,214.8 L256.5,213.8 L256.6,212.9 L256.7,211.8 L256.9,210.8 L257.0,209.7 L257.1,208.6 L257.2,207.5 L257.3,206.5 L257.4,205.4 L257.5,204.4 L257.6,203.4 L257.8,202.4 L257.9,201.6 L258.1,200.7 L258.3,200.0 L258.6,199.0 L258.8,198.1 L259.0,197.2 L259.3,196.4 L259.6,195.7 L260.1,195.1 L260.8,194.5 L261.3,194.2 L262.0,194.0 L262.7,193.8 L263.5,193.6 L264.4,193.5 L265.3,193.4 L266.3,193.4 L267.3,193.4 L268.4,193.4 L269.5,193.4 L270.6,193.4 L271.7,193.5 L272.8,193.5 L273.9,193.6 L275.0,193.6 L276.1,193.7 L277.1,193.7 L278.1,193.7 L279.0,193.7 L279.8,193.7 L280.8,193.6 L281.8,193.6 L282.7,193.5 L283.6,193.4 L284.5,193.4 L285.4,193.3 L286.2,193.2 L287.1,193.2 L288.0,193.1 L289.0,193.1 L290.0,193.1 L290.9,193.1 L291.8,193.1 L292.7,193.1 L293.7,193.1 L294.7,193.2 L295.7,193.2 L296.7,193.2 L297.7,193.3 L298.7,193.3 L299.7,193.4 L300.7,193.4 L301.7,193.5 L302.7,193.6 L303.7,193.6 L304.6,193.7 L305.5,193.7 L306.4,193.8 L307.4,193.9 L308.5,193.9 L309.5,194.0 L310.4,194.0 L311.4,194.1 L312.4,194.1 L313.3,194.2 L314.2,194.3 L315.0,194.4 L315.9,194.6 L316.7,194.8 L317.7,195.1 L318.6,195.5 L319.5,195.9 L320.4,196.4 L321.2,196.9 L322.1,197.3 L322.9,197.7 L323.7,198.1 L324.5,198.6 L325.3,199.0 L326.1,199.4 L326.8,199.7 L327.6,199.7 L328.4,199.5 L329.1,199.0 L329.9,198.3 L330.7,197.6 L331.5,196.9 L332.3,196.2 L333.1,195.6 L333.9,195.1 L334.7,194.7 L335.5,194.3 L336.4,194.0 L337.3,193.7 L338.2,193.4 L339.3,193.1 L340.0,193.0 L340.8,192.8 L341.6,192.8 L342.5,192.7 L343.4,192.6 L344.3,192.6 L345.3,192.6 L346.3,192.5 L347.3,192.5 L348.3,192.5 L349.3,192.5 L350.4,192.5 L351.4,192.6 L352.4,192.6 L353.4,192.6 L354.5,192.5 L355.4,192.5 L356.4,192.5" stroke="#3ee41c"/><path d="M356.4,192.5 L356.6,183.0" stroke="#3ee41c"/><path d="M47.2,215.2 L48.2,215.1 L49.1,215.0 L50.1,214.9 L51.0,214.8 L52.0,214.7 L52.9,214.6 L53.9,214.4 L54.8,214.3 L55.8,214.2 L56.8,214.1 L57.7,214.0 L58.7,213.9 L59.6,213.8 L60.6,213.8 L61.5,213.7 L62.5,213.6 L63.5,213.5 L64.5,213.4 L65.5,213.4 L66.6,213.3 L67.7,213.2 L68.8,213.1 L69.9,213.0 L70.9,213.0 L72.0,212.9 L73.0,212.9 L73.9,212.8 L74.9,212.8 L75.7,212.8 L76.5,212.9 L77.3,212.9 L77.9,213.0 L78.9,213.3 L79.7,213.6 L80.5,214.0 L81.2,214.3 L81.9,214.6 L82.6,215.0 L83.3,215.3 L84.0,215.4 L84.8,215.2 L85.6,214.7 L86.6,214.3 L87.2,214.2 L87.9,214.1 L88.7,214.1 L89.6,214.1 L90.5,214.1 L91.5,214.1 L92.5,214.1 L93.5,214.1 L94.6,214.1 L95.7,214.2 L96.7,214.2 L97.8,214.2 L98.8,214.1 L99.8,214.1 L100.7,214.0 L101.7,214.0 L102.7,213.9 L103.7,213.8 L104.7,213.7 L105.7,213.7 L106.8,213.6 L107.8,213.5 L108.8,213.4 L109.8,213.2 L110.8,213.1 L111.7,213.0 L112.6,212.9 L113.5,212.8 L114.3,212.6 L115.1,212.5 L116.2,212.3 L117.2,212.1 L118.2,211.9 L119.1,211.6 L120.0,211.4 L120.9,211.1 L121.7,210.8 L122.6,210.4 L123.5,210.1 L124.3,209.7 L125.1,209.2 L125.8,208.5 L126.3,207.9 L126.7,207.2 L127.1,206.4 L127.5,205.6 L127.9,204.7 L128.2,203.7 L128.6,202.8 L128.9,201.8 L129.2,200.8 L129.6,199.9 L129.9,199.0 L130.2,198.1 L130.5,197.0 L130.8,195.9 L131.1,194.7 L131.4,193.6 L131.7,192.5 L132.0,191.5 L132.3,190.7 L132.6,190.0 L132.9,189.6 L133.2,189.4 L133.6,189.6 L134.0,190.1 L134.3,190.9 L134.7,192.0 L135.1,193.1 L135.5,194.3 L135.9,195.5 L136.4,196.6 L136.8,197.6 L137.2,198.4 L137.6,199.3 L138.0,200.1 L138.4,200.9 L138.9,201.8 L139.3,202.5 L139.8,203.3 L140.3,203.9 L140.9,204.5 L141.6,205.1 L142.4,205.6 L143.2,206.0 L144.0,206.3 L144.9,206.7 L145.8,206.9 L146.8,207.2 L147.6,207.4 L148.5,207.5 L149.3,207.7 L150.2,207.8 L151.2,207.8 L152.1,207.9 L153.1,207.9 L154.2,207.9 L155.2,208.0 L156.4,208.0 L157.2,208.0 L158.0,208.0 L158.8,208.1 L159.7,208.1 L160.5,208.1 L161.5,208.1 L162.4,208.1 L163.3,208.1 L164.3,208.1 L165.3,208.1 L166.3,208.1 L167.3,208.1 L168.3,208.0 L169.4,208.0 L170.4,208.0 L171.5,208.0 L172.5,208.0 L173.6,207.9 L174.7,207.9 L175.8,207.9 L176.8,207.8 L177.9,207.8 L179.0,207.8 L180.0,207.7 L181.1,207.7 L182.0,207.7 L183.0,207.6 L184.0,207.6 L185.0,207.6 L186.0,207.5 L187.1,207.5 L188.2,207.5 L189.2,207.4 L190.3,207.4 L191.4,207.4 L192.5,207.3 L193.7,207.3 L194.8,207.2 L195.9,207.2 L197.0,207.1 L198.1,207.1 L199.2,207.0 L200.3,207.0 L201.4,206.9 L202.4,206.9 L203.5,206.8 L204.5,206.7 L205.5,206.7 L206.5,206.6 L207.5,206.5 L208.4,206.4 L209.3,206.4 L210.2,206.3 L211.0,206.2 L211.8,206.1 L212.6,206.0 L213.3,205.9 L214.0,205.8 L215.2,205.6 L216.2,205.4 L217.2,205.2 L218.1,204.9 L219.0,204.7 L219.8,204.4 L220.6,204.1 L221.4,203.9 L222.2,203.6 L223.1,203.2 L224.0,202.8 L224.9,202.3 L225.7,201.8 L226.6,201.5 L227.4,201.2 L228.2,201.2 L229.1,201.4 L230.0,201.9 L230.9,202.5 L231.7,203.1 L232.5,203.8 L233.2,204.5 L233.8,205.1 L234.4,205.8 L234.9,206.5 L235.4,207.3 L236.0,208.1 L236.5,208.7 L237.0,209.3 L237.5,210.0 L238.1,210.7 L238.7,211.5 L239.4,212.3 L240.0,213.1 L240.6,213.9 L241.3,214.7 L241.9,215.5 L242.5,216.3 L243.1,217.1 L243.6,217.9 L244.1,218.7 L244.6,219.6 L245.1,220.4 L245.6,221.3 L246.1,222.1 L246.5,223.0 L247.0,223.9 L247.4,224.7 L247.9,225.5 L248.3,226.3 L248.7,227.1 L249.1,227.8 L249.6,228.8 L250.1,229.8 L250.6,230.9 L251.0,231.8 L251.5,232.6 L251.9,233.1 L252.4,233.3 L252.8,233.1 L253.2,232.6 L253.6,231.9 L254.1,231.0 L254.5,230.0 L254.9,228.9 L255.2,227.7 L255.6,226.6 L255.9,225.5 L256.1,224.7 L256.3,223.8 L256.5,222.8 L256.6,221.8 L256.8,220.7 L256.9,219.7 L257.0,218.6 L257.1,217.5 L257.2,216.5 L257.4,215.5 L257.5,214.5 L257.7,213.5 L257.8,212.6 L258.1,211.8 L258.3,211.0 L258.6,210.0 L259.0,209.1 L259.3,208.3 L259.7,207.5 L260.1,206.8 L260.7,206.1 L261.5,205.6 L262.1,205.3 L262.8,205.1 L263.5,204.9 L264.4,204.8 L265.3,204.7 L266.3,204.7 L267.3,204.7 L268.3,204.7 L269.4,204.8 L270.5,204.9 L271.6,204.9 L272.8,205.0 L273.9,205.1 L275.0,205.2 L276.0,205.3 L277.0,205.3 L278.0,205.4 L278.9,205.4 L279.8,205.4 L280.8,205.4 L281.8,205.3 L282.7,205.2 L283.6,205.2 L284.5,205.1 L285.4,205.0 L286.2,205.0 L287.1,204.9 L288.0,204.9 L289.0,204.9 L290.0,204.9 L290.9,204.9 L291.8,205.0 L292.7,205.0 L293.7,205.1 L294.7,205.2 L295.7,205.3 L296.7,205.4 L297.7,205.5 L298.7,205.6 L299.7,205.7 L300.7,205.9 L301.7,206.0 L302.7,206.1 L303.7,206.2 L304.6,206.3 L305.5,206.4 L306.4,206.5 L307.4,206.6 L308.5,206.7 L309.5,206.7 L310.4,206.8 L311.4,206.9 L312.3,206.9 L313.3,207.0 L314.2,207.1 L315.0,207.2 L315.9,207.3 L316.7,207.5 L317.7,207.7 L318.6,208.0 L319.5,208.3 L320.4,208.6 L321.2,208.9 L322.1,209.2 L322.9,209.6 L323.7,210.1 L324.6,210.6 L325.4,211.3 L326.2,211.8 L327.0,212.3 L327.8,212.6 L328.6,212.7 L329.3,212.5 L330.0,212.0 L330.7,211.3 L331.4,210.5 L332.1,209.7 L332.8,208.8 L333.5,208.1 L334.2,207.5 L335.0,207.0 L335.8,206.5 L336.5,206.1 L337.3,205.7 L338.2,205.4 L339.3,205.1 L340.0,205.0 L340.7,204.8 L341.5,204.8 L342.4,204.7 L343.3,204.6 L344.2,204.6 L345.2,204.6 L346.2,204.6 L347.2,204.6 L348.2,204.6 L349.3,204.6 L350.3,204.7 L351.4,204.7 L352.4,204.7 L353.4,204.7 L354.4,204.7 L355.4,204.7 L356.4,204.7" stroke="#2a3af2"/><path d="M356.4,204.7 L356.6,193.0" stroke="#2a3af2"/></g><g font-family="Liberation Sans, sans-serif" font-size="11.30" fill="#1a1a1a" stroke="#1a1a1a" stroke-width="0.35"><text x="61.51" y="276.80" text-anchor="middle">40</text><text x="89.62" y="276.80" text-anchor="middle">60</text><text x="117.73" y="276.80" text-anchor="middle">80</text><text x="145.83" y="276.80" text-anchor="middle">100</text><text x="173.94" y="276.80" text-anchor="middle">120</text><text x="202.06" y="276.80" text-anchor="middle">140</text><text x="230.17" y="276.80" text-anchor="middle">160</text><text x="258.27" y="276.80" text-anchor="middle">180</text><text x="286.38" y="276.80" text-anchor="middle">200</text><text x="314.50" y="276.80" text-anchor="middle">220</text><text x="342.60" y="276.80" text-anchor="middle">240</text><text x="38.60" y="9.87" text-anchor="end">2</text><text x="38.60" y="66.37" text-anchor="end">1</text><text x="38.60" y="122.87" text-anchor="end">0</text><text x="38.60" y="179.37" text-anchor="end">-1</text><text x="38.60" y="235.87" text-anchor="end">-2</text></g><text x="273.80" y="14.30" font-size="6.60" fill="#1a1a1a" stroke="#1a1a1a" stroke-width="0.2" textLength="51.00" lengthAdjust="spacingAndGlyphs" style="font-family:'Liberation Serif',serif">1. PLLA/PBAT 9/1</text><text x="273.80" y="22.50" font-size="6.60" fill="#1a1a1a" stroke="#1a1a1a" stroke-width="0.2" textLength="51.00" lengthAdjust="spacingAndGlyphs" style="font-family:'Liberation Serif',serif">2. PLLA/PBAT 8/2</text><text x="273.80" y="30.80" font-size="6.60" fill="#1a1a1a" stroke="#1a1a1a" stroke-width="0.2" textLength="51.00" lengthAdjust="spacingAndGlyphs" style="font-family:'Liberation Serif',serif">3. PLLA/PBAT 7/3</text><text x="273.80" y="39.00" font-size="6.60" fill="#1a1a1a" stroke="#1a1a1a" stroke-width="0.2" textLength="51.00" lengthAdjust="spacingAndGlyphs" style="font-family:'Liberation Serif',serif">4. PLLA/PBAT 5/5</text><text x="273.80" y="47.70" font-size="6.60" fill="#1a1a1a" stroke="#1a1a1a" stroke-width="0.2" textLength="80.50" lengthAdjust="spacingAndGlyphs" style="font-family:'Liberation Serif',serif">5.PLLA/PBAT 9/1+ 5%PDLA</text><text x="273.80" y="56.00" font-size="6.60" fill="#1a1a1a" stroke="#1a1a1a" stroke-width="0.2" textLength="82.00" lengthAdjust="spacingAndGlyphs" style="font-family:'Liberation Serif',serif">6.PLLA/PBAT 9/1+10%PDLA</text><text x="273.80" y="64.20" font-size="6.60" fill="#1a1a1a" stroke="#1a1a1a" stroke-width="0.2" textLength="79.00" lengthAdjust="spacingAndGlyphs" style="font-family:'Liberation Serif',serif">7.PLLA/PBAT 8/2+5%PDLA</text><text x="273.80" y="72.40" font-size="6.60" fill="#1a1a1a" stroke="#1a1a1a" stroke-width="0.2" textLength="82.00" lengthAdjust="spacingAndGlyphs" style="font-family:'Liberation Serif',serif">8.PLLA/PBAT 8/2+10%PDLA</text><text x="56.00" y="35.43" font-size="9.50" fill="#1a1a1a" stroke="#1a1a1a" stroke-width="0.2" text-anchor="middle" style="font-family:'Liberation Serif',serif">1</text><text x="56.00" y="64.73" font-size="9.50" fill="#1a1a1a" stroke="#1a1a1a" stroke-width="0.2" text-anchor="middle" style="font-family:'Liberation Serif',serif">2</text><text x="56.00" y="102.64" font-size="9.50" fill="#1a1a1a" stroke="#1a1a1a" stroke-width="0.2" text-anchor="middle" style="font-family:'Liberation Serif',serif">3</text><text x="56.00" y="137.73" font-size="9.50" fill="#1a1a1a" stroke="#1a1a1a" stroke-width="0.2" text-anchor="middle" style="font-family:'Liberation Serif',serif">4</text><text x="56.00" y="159.63" font-size="9.50" fill="#1a1a1a" stroke="#1a1a1a" stroke-width="0.2" text-anchor="middle" style="font-family:'Liberation Serif',serif">5</text><text x="56.00" y="170.63" font-size="9.50" fill="#1a1a1a" stroke="#1a1a1a" stroke-width="0.2" text-anchor="middle" style="font-family:'Liberation Serif',serif">6</text><text x="56.00" y="189.73" font-size="9.50" fill="#1a1a1a" stroke="#1a1a1a" stroke-width="0.2" text-anchor="middle" style="font-family:'Liberation Serif',serif">7</text><text x="56.00" y="209.63" font-size="9.50" fill="#1a1a1a" stroke="#1a1a1a" stroke-width="0.2" text-anchor="middle" style="font-family:'Liberation Serif',serif">8</text><text x="158.00" y="18.70" font-size="13.00" fill="#111" stroke="#111" stroke-width="0.3" style="font-family:'Liberation Serif',serif">(a) First heating</text><text x="0" y="0" font-size="13.40" fill="#111" stroke="#111" stroke-width="0.25" text-anchor="middle" transform="translate(20.90,133.00) rotate(-90)">Heat flow (W/g)</text><text x="152.60" y="298.10" font-size="13.00" fill="#111" stroke="#111" stroke-width="0.25">Temperature (&#176;C)</text><clipPath id="cb"><rect x="49.10" y="367.40" width="311.90" height="257.90"/></clipPath><g stroke="#222" stroke-width="1.2"><rect x="48.50" y="367.90" width="312.00" height="256.90" fill="none" stroke="#222" stroke-width="1.2"/><line x1="48.50" y1="624.80" x2="48.50" y2="627.30"/><line x1="62.68" y1="624.80" x2="62.68" y2="629.30"/><line x1="76.86" y1="624.80" x2="76.86" y2="627.30"/><line x1="91.04" y1="624.80" x2="91.04" y2="629.30"/><line x1="105.22" y1="624.80" x2="105.22" y2="627.30"/><line x1="119.40" y1="624.80" x2="119.40" y2="629.30"/><line x1="133.58" y1="624.80" x2="133.58" y2="627.30"/><line x1="147.76" y1="624.80" x2="147.76" y2="629.30"/><line x1="161.94" y1="624.80" x2="161.94" y2="627.30"/><line x1="176.12" y1="624.80" x2="176.12" y2="629.30"/><line x1="190.30" y1="624.80" x2="190.30" y2="627.30"/><line x1="204.48" y1="624.80" x2="204.48" y2="629.30"/><line x1="218.66" y1="624.80" x2="218.66" y2="627.30"/><line x1="232.84" y1="624.80" x2="232.84" y2="629.30"/><line x1="247.02" y1="624.80" x2="247.02" y2="627.30"/><line x1="261.20" y1="624.80" x2="261.20" y2="629.30"/><line x1="275.38" y1="624.80" x2="275.38" y2="627.30"/><line x1="289.56" y1="624.80" x2="289.56" y2="629.30"/><line x1="303.74" y1="624.80" x2="303.74" y2="627.30"/><line x1="317.92" y1="624.80" x2="317.92" y2="629.30"/><line x1="332.10" y1="624.80" x2="332.10" y2="627.30"/><line x1="346.28" y1="624.80" x2="346.28" y2="629.30"/><line x1="360.46" y1="624.80" x2="360.46" y2="627.30"/><line x1="44.00" y1="367.90" x2="48.50" y2="367.90"/><line x1="44.00" y1="432.12" x2="48.50" y2="432.12"/><line x1="44.00" y1="496.35" x2="48.50" y2="496.35"/><line x1="44.00" y1="560.57" x2="48.50" y2="560.57"/><line x1="44.00" y1="624.80" x2="48.50" y2="624.80"/><line x1="46.00" y1="400.01" x2="48.50" y2="400.01"/><line x1="46.00" y1="464.24" x2="48.50" y2="464.24"/><line x1="46.00" y1="528.46" x2="48.50" y2="528.46"/><line x1="46.00" y1="592.69" x2="48.50" y2="592.69"/></g><g clip-path="url(#cb)" fill="none" stroke-width="1.50" stroke-linejoin="round" stroke-linecap="round"><path d="M48.3,402.8 L49.2,402.8 L50.2,402.8 L51.1,402.8 L52.1,402.7 L53.0,402.7 L54.0,402.7 L54.9,402.7 L55.9,402.7 L56.8,402.7 L57.7,402.7 L58.7,402.6 L59.6,402.6 L60.5,402.6 L61.4,402.5 L62.4,402.4 L63.3,402.4 L64.2,402.3 L65.2,402.2 L66.1,402.2 L67.0,402.1 L67.9,402.0 L68.8,401.9 L69.7,401.7 L70.6,401.6 L71.5,401.4 L72.4,401.2 L73.3,401.0 L74.3,400.7 L75.2,400.4 L76.1,400.1 L77.0,399.8 L78.0,399.4 L78.9,399.0 L79.8,398.7 L80.7,398.3 L81.6,398.0 L82.5,397.6 L83.4,397.3 L84.3,397.0 L85.2,396.6 L86.1,396.3 L87.0,395.9 L87.8,395.6 L88.7,395.2 L89.6,394.9 L90.4,394.6 L91.3,394.3 L92.1,394.0 L92.9,393.8 L93.9,393.6 L94.9,393.4 L95.8,393.2 L96.8,393.1 L97.7,393.0 L98.7,393.0 L99.8,392.9 L100.6,392.9 L101.5,392.8 L102.4,392.8 L103.3,392.9 L104.3,392.9 L105.2,392.9 L106.2,392.9 L107.2,393.0 L108.1,393.0 L109.0,393.0 L109.9,393.0 L110.8,392.9 L111.8,392.8 L112.7,392.8 L113.6,392.7 L114.6,392.6 L115.5,392.5 L116.4,392.3 L117.2,392.1 L118.1,391.9 L119.0,391.6 L119.9,391.3 L120.7,390.9 L121.6,390.5 L122.4,390.1 L123.3,389.6 L124.1,389.1 L124.9,388.6 L125.7,388.0 L126.5,387.5 L127.2,386.9 L127.9,386.2 L128.6,385.5 L129.2,384.8 L129.8,384.0 L130.4,383.2 L130.9,382.4 L131.5,381.6 L132.1,380.8 L132.7,380.1 L133.4,379.4 L134.0,378.6 L134.7,377.9 L135.4,377.1 L136.1,376.4 L136.8,375.8 L137.5,375.2 L138.2,374.6 L139.0,374.0 L139.9,373.3 L140.7,372.7 L141.6,372.2 L142.5,371.9 L143.3,371.8 L144.1,371.9 L145.0,372.2 L145.8,372.6 L146.6,373.2 L147.4,373.9 L148.2,374.6 L148.7,375.2 L149.2,375.8 L149.7,376.6 L150.1,377.4 L150.6,378.2 L151.0,379.1 L151.4,380.0 L151.9,380.9 L152.3,381.8 L152.8,382.6 L153.2,383.5 L153.7,384.2 L154.3,385.1 L154.8,385.9 L155.4,386.8 L155.9,387.6 L156.5,388.4 L157.1,389.2 L157.8,389.9 L158.5,390.5 L159.2,391.0 L160.0,391.4 L160.7,391.7 L161.5,392.0 L162.4,392.2 L163.3,392.3 L164.2,392.5 L165.2,392.6 L166.3,392.7 L167.4,392.9 L168.1,393.0 L168.9,393.1 L169.6,393.2 L170.5,393.3 L171.3,393.5 L172.2,393.6 L173.1,393.7 L174.0,393.8 L175.0,393.9 L176.0,394.0 L177.0,394.1 L178.0,394.2 L179.0,394.3 L180.1,394.4 L181.1,394.5 L182.2,394.6 L183.3,394.6 L184.4,394.7 L185.4,394.8 L186.5,394.9 L187.6,395.0 L188.6,395.1 L189.7,395.2 L190.7,395.3 L191.8,395.4 L192.8,395.5 L193.8,395.6 L194.8,395.7 L195.8,395.8 L196.8,395.9 L197.8,396.0 L198.8,396.1 L199.8,396.2 L200.8,396.3 L201.8,396.4 L202.8,396.5 L203.8,396.6 L204.8,396.7 L205.8,396.8 L206.9,396.9 L207.9,397.0 L208.9,397.1 L209.9,397.2 L210.9,397.3 L211.9,397.4 L212.8,397.5 L213.8,397.6 L214.8,397.7 L215.8,397.8 L216.7,397.9 L217.7,398.0 L218.6,398.0 L219.5,398.1 L220.4,398.2 L221.3,398.3 L222.2,398.4 L223.3,398.5 L224.3,398.6 L225.4,398.7 L226.4,398.8 L227.4,398.8 L228.4,398.9 L229.4,399.0 L230.4,399.1 L231.3,399.1 L232.3,399.2 L233.2,399.3 L234.2,399.4 L235.1,399.5 L236.1,399.6 L237.1,399.7 L238.0,399.8 L239.0,400.0 L240.0,400.1 L240.9,400.2 L241.9,400.4 L242.9,400.6 L243.9,400.7 L244.9,400.9 L245.9,401.1 L246.9,401.3 L247.9,401.5 L248.9,401.7 L249.9,401.9 L250.9,402.1 L251.9,402.3 L252.8,402.5 L253.8,402.7 L254.7,402.9 L255.6,403.1 L256.4,403.4 L257.3,403.6 L258.1,403.8 L258.8,404.0 L259.8,404.3 L260.8,404.6 L261.7,404.9 L262.6,405.2 L263.4,405.5 L264.2,405.8 L264.9,406.1 L265.7,406.5 L266.4,406.9 L267.2,407.4 L268.0,407.9 L268.7,408.4 L269.4,408.9 L270.0,409.5 L270.6,410.1 L271.2,410.7 L271.7,411.4 L272.2,412.2 L272.7,413.0 L273.1,413.8 L273.4,414.6 L273.7,415.5 L273.9,416.4 L274.1,417.2 L274.2,418.1 L274.3,419.1 L274.4,420.0 L274.4,421.1 L274.5,422.2 L274.6,423.0 L274.6,423.8 L274.6,424.7 L274.7,425.6 L274.7,426.6 L274.7,427.5 L274.8,428.5 L274.8,429.6 L274.8,430.6 L274.8,431.6 L274.8,432.6 L274.8,433.6 L274.9,434.6 L274.9,435.6 L274.9,436.6 L274.9,437.5 L274.9,438.5 L274.9,439.5 L275.0,440.5 L275.0,441.4 L275.0,442.4 L275.0,443.4 L275.0,444.3 L275.0,445.2 L275.0,446.2 L275.1,447.1 L275.1,448.1 L275.1,449.0 L275.1,450.0" stroke="#1a1a1a"/><path d="M48.3,428.6 L49.2,428.6 L50.2,428.5 L51.1,428.5 L52.1,428.5 L53.0,428.4 L54.0,428.4 L54.9,428.4 L55.9,428.3 L56.8,428.3 L57.7,428.2 L58.7,428.2 L59.6,428.1 L60.5,428.1 L61.4,428.0 L62.4,427.9 L63.3,427.8 L64.2,427.8 L65.1,427.7 L66.1,427.6 L67.0,427.5 L67.9,427.4 L68.8,427.2 L69.7,427.1 L70.6,427.0 L71.5,426.8 L72.4,426.6 L73.3,426.4 L74.3,426.1 L75.2,425.9 L76.1,425.6 L77.0,425.2 L78.0,424.9 L78.9,424.6 L79.8,424.3 L80.7,424.0 L81.6,423.7 L82.5,423.4 L83.4,423.1 L84.4,422.8 L85.3,422.5 L86.3,422.2 L87.2,422.0 L88.2,421.7 L89.1,421.4 L90.1,421.2 L91.0,421.0 L91.9,420.8 L92.9,420.6 L93.8,420.5 L94.8,420.3 L95.7,420.3 L96.7,420.2 L97.6,420.1 L98.6,420.1 L99.6,420.0 L100.5,420.0 L101.5,419.9 L102.5,419.8 L103.4,419.7 L104.3,419.6 L105.2,419.6 L106.1,419.5 L107.1,419.4 L108.0,419.3 L108.9,419.2 L109.8,419.1 L110.8,419.0 L111.7,418.8 L112.6,418.6 L113.5,418.4 L114.4,418.1 L115.4,417.8 L116.3,417.5 L117.3,417.2 L118.2,416.8 L119.2,416.4 L120.1,416.0 L121.0,415.6 L121.9,415.2 L122.8,414.7 L123.7,414.3 L124.5,413.8 L125.3,413.3 L126.1,412.8 L126.9,412.2 L127.7,411.7 L128.4,411.1 L129.2,410.5 L129.9,409.9 L130.6,409.3 L131.3,408.7 L132.0,408.1 L132.7,407.5 L133.4,406.8 L134.1,406.1 L134.8,405.4 L135.5,404.6 L136.2,403.9 L136.9,403.2 L137.5,402.4 L138.2,401.8 L138.9,401.2 L139.5,400.6 L140.3,399.9 L141.1,399.2 L141.9,398.6 L142.6,398.0 L143.4,397.7 L144.2,397.6 L145.0,397.8 L145.7,398.2 L146.5,398.8 L147.3,399.5 L148.1,400.3 L148.8,401.2 L149.6,402.0 L150.2,402.7 L150.7,403.4 L151.3,404.3 L151.8,405.1 L152.4,406.0 L153.0,407.0 L153.5,407.9 L154.1,408.7 L154.6,409.6 L155.2,410.3 L155.8,411.0 L156.4,411.6 L157.1,412.2 L157.9,412.7 L158.6,413.1 L159.4,413.5 L160.1,413.8 L161.0,414.0 L161.9,414.3 L162.7,414.5 L163.4,414.6 L164.3,414.7 L165.1,414.8 L166.0,414.9 L166.9,414.9 L167.8,414.9 L168.8,415.0 L169.8,415.0 L170.8,415.0 L171.8,415.0 L172.9,415.1 L173.7,415.1 L174.6,415.2 L175.5,415.2 L176.4,415.3 L177.3,415.3 L178.3,415.4 L179.2,415.4 L180.2,415.4 L181.2,415.5 L182.2,415.5 L183.2,415.6 L184.3,415.6 L185.3,415.6 L186.3,415.7 L187.4,415.7 L188.4,415.8 L189.5,415.8 L190.6,415.8 L191.6,415.9 L192.7,415.9 L193.7,416.0 L194.8,416.0 L195.7,416.0 L196.7,416.1 L197.6,416.1 L198.6,416.2 L199.5,416.2 L200.5,416.2 L201.4,416.3 L202.4,416.3 L203.4,416.3 L204.4,416.4 L205.4,416.4 L206.3,416.5 L207.3,416.5 L208.3,416.5 L209.3,416.6 L210.3,416.6 L211.3,416.6 L212.3,416.7 L213.3,416.7 L214.3,416.8 L215.3,416.8 L216.3,416.8 L217.3,416.9 L218.3,416.9 L219.3,417.0 L220.2,417.0 L221.2,417.1 L222.2,417.1 L223.2,417.1 L224.2,417.2 L225.1,417.2 L226.2,417.3 L227.2,417.3 L228.2,417.3 L229.2,417.4 L230.2,417.4 L231.2,417.4 L232.2,417.5 L233.3,417.5 L234.3,417.6 L235.3,417.6 L236.3,417.6 L237.3,417.7 L238.3,417.7 L239.3,417.8 L240.3,417.8 L241.2,417.9 L242.2,417.9 L243.1,418.0 L244.0,418.0 L245.0,418.1 L245.8,418.1 L246.7,418.2 L247.6,418.3 L248.4,418.3 L249.2,418.4 L250.3,418.5 L251.4,418.6 L252.5,418.7 L253.5,418.8 L254.5,418.9 L255.5,419.0 L256.5,419.2 L257.5,419.3 L258.4,419.4 L259.3,419.6 L260.1,419.7 L261.0,419.9 L261.8,420.1 L262.6,420.3 L263.6,420.6 L264.5,420.9 L265.5,421.2 L266.3,421.5 L267.2,421.9 L267.9,422.3 L268.6,422.7 L269.3,423.2 L270.0,423.9 L270.7,424.5 L271.3,425.3 L271.8,426.1 L272.2,427.0 L272.5,427.8 L272.8,428.7 L273.0,429.5 L273.2,430.5 L273.4,431.5 L273.5,432.6 L273.7,433.7 L273.8,434.5 L273.9,435.3 L274.0,436.1 L274.0,437.0 L274.1,438.0 L274.1,438.9 L274.2,439.9 L274.2,440.9 L274.2,441.9 L274.3,442.9 L274.3,444.0 L274.3,445.0 L274.4,446.0 L274.4,447.0 L274.4,448.0 L274.5,449.0 L274.5,450.0" stroke="#ff1f40"/><path d="M48.3,457.6 L49.2,457.5 L50.2,457.5 L51.1,457.5 L52.1,457.4 L53.0,457.4 L54.0,457.4 L54.9,457.3 L55.9,457.3 L56.8,457.3 L57.8,457.2 L58.7,457.1 L59.6,457.0 L60.5,456.9 L61.4,456.8 L62.4,456.6 L63.3,456.5 L64.2,456.3 L65.2,456.1 L66.1,455.8 L67.0,455.6 L67.9,455.4 L68.8,455.1 L69.7,454.8 L70.6,454.6 L71.5,454.3 L72.4,454.0 L73.3,453.7 L74.3,453.4 L75.2,453.0 L76.1,452.7 L77.0,452.3 L77.9,451.9 L78.9,451.5 L79.8,451.2 L80.7,450.8 L81.6,450.5 L82.5,450.2 L83.4,449.9 L84.4,449.6 L85.3,449.3 L86.3,449.1 L87.2,448.8 L88.1,448.6 L89.1,448.4 L90.0,448.2 L91.0,448.0 L91.9,447.8 L92.9,447.7 L93.8,447.6 L94.7,447.5 L95.6,447.5 L96.5,447.5 L97.4,447.5 L98.3,447.5 L99.2,447.5 L100.2,447.4 L101.1,447.4 L102.0,447.4 L103.0,447.3 L103.9,447.2 L104.8,447.1 L105.8,446.9 L106.8,446.8 L107.7,446.7 L108.7,446.5 L109.7,446.3 L110.7,446.1 L111.7,445.9 L112.6,445.7 L113.6,445.4 L114.5,445.1 L115.4,444.8 L116.2,444.5 L117.1,444.1 L118.0,443.6 L118.9,443.1 L119.7,442.6 L120.5,442.0 L121.3,441.4 L122.1,440.8 L122.9,440.2 L123.7,439.6 L124.5,439.0 L125.3,438.4 L126.0,437.8 L126.8,437.2 L127.6,436.5 L128.3,435.9 L129.1,435.2 L129.8,434.6 L130.6,433.9 L131.3,433.3 L132.0,432.7 L132.7,432.1 L133.5,431.4 L134.2,430.7 L135.0,429.9 L135.7,429.2 L136.4,428.5 L137.1,427.9 L137.8,427.4 L138.5,427.0 L139.3,426.7 L140.1,426.5 L140.9,426.3 L141.7,426.4 L142.5,426.5 L143.2,426.7 L143.9,427.1 L144.6,427.6 L145.3,428.1 L146.1,428.7 L146.8,429.4 L147.5,430.1 L148.2,430.8 L148.8,431.5 L149.4,432.2 L149.9,433.0 L150.5,433.8 L151.0,434.7 L151.6,435.6 L152.1,436.5 L152.7,437.3 L153.3,438.2 L153.9,438.9 L154.5,439.7 L155.1,440.3 L155.9,441.0 L156.6,441.7 L157.4,442.3 L158.2,442.8 L159.0,443.3 L159.9,443.8 L160.8,444.2 L161.9,444.5 L162.6,444.7 L163.4,444.8 L164.2,444.9 L165.0,445.0 L165.9,445.1 L166.8,445.1 L167.7,445.1 L168.7,445.1 L169.6,445.1 L170.6,445.1 L171.6,445.0 L172.7,445.0 L173.7,444.9 L174.8,444.9 L175.8,444.8 L176.9,444.7 L177.9,444.7 L179.0,444.6 L180.1,444.5 L181.1,444.5 L182.0,444.5 L182.9,444.4 L183.8,444.4 L184.8,444.3 L185.7,444.3 L186.7,444.2 L187.7,444.1 L188.7,444.1 L189.7,444.0 L190.7,443.9 L191.7,443.9 L192.7,443.8 L193.7,443.7 L194.7,443.6 L195.7,443.5 L196.7,443.4 L197.7,443.4 L198.8,443.3 L199.8,443.2 L200.8,443.1 L201.8,443.0 L202.8,442.9 L203.7,442.9 L204.7,442.8 L205.7,442.7 L206.6,442.6 L207.6,442.6 L208.5,442.5 L209.5,442.4 L210.6,442.4 L211.6,442.3 L212.6,442.2 L213.6,442.2 L214.6,442.1 L215.6,442.0 L216.6,442.0 L217.5,441.9 L218.5,441.8 L219.5,441.8 L220.5,441.7 L221.4,441.6 L222.4,441.6 L223.3,441.5 L224.3,441.4 L225.2,441.4 L226.2,441.3 L227.2,441.2 L228.1,441.2 L229.1,441.1 L230.0,441.0 L231.0,440.9 L232.0,440.8 L232.9,440.7 L233.9,440.6 L234.9,440.6 L235.8,440.5 L236.8,440.4 L237.8,440.3 L238.7,440.2 L239.7,440.1 L240.6,440.0 L241.6,439.9 L242.5,439.8 L243.5,439.7 L244.4,439.6 L245.4,439.5 L246.3,439.4 L247.3,439.3 L248.2,439.2 L249.2,439.1 L250.2,439.0 L251.2,438.9 L252.2,438.8 L253.3,438.7 L254.4,438.5 L255.5,438.4 L256.6,438.3 L257.7,438.2 L258.8,438.0 L259.9,437.9 L260.9,437.8 L262.0,437.7 L263.0,437.6 L263.9,437.5 L264.8,437.4 L265.7,437.3 L266.5,437.3 L267.2,437.2 L267.8,437.2 L268.4,437.2 L269.6,437.1 L270.4,437.2 L271.2,437.5 L271.6,438.0 L272.0,438.7 L272.3,439.5 L272.6,440.4 L272.8,441.4 L273.0,442.4 L273.2,443.3 L273.4,444.2 L273.6,445.1 L273.7,446.0 L273.8,447.0 L273.9,447.9 L274.0,448.9 L274.1,450.0 L274.2,450.8 L274.3,451.6 L274.4,452.4 L274.4,453.3 L274.5,454.1 L274.6,455.0 L274.7,455.9 L274.8,456.8 L274.9,457.8 L274.9,458.8 L275.0,459.8 L275.0,460.9 L275.1,462.0 L275.1,462.8 L275.2,463.6 L275.2,464.5 L275.2,465.3 L275.2,466.2 L275.2,467.1 L275.3,468.1 L275.3,469.0 L275.3,470.0 L275.3,471.0 L275.3,472.0 L275.3,473.0 L275.3,474.1 L275.3,475.1 L275.3,476.1 L275.3,477.2 L275.3,478.3 L275.3,479.3 L275.3,480.4 L275.3,481.4 L275.3,482.5 L275.3,483.6 L275.3,484.6 L275.3,485.7 L275.3,486.7 L275.3,487.8 L275.3,488.8 L275.3,489.8 L275.3,490.8" stroke="#3ee41c"/><path d="M48.3,481.5 L49.2,481.4 L50.2,481.4 L51.1,481.3 L52.0,481.3 L53.0,481.3 L53.9,481.2 L54.8,481.2 L55.8,481.1 L56.7,481.1 L57.6,481.0 L58.6,480.9 L59.5,480.9 L60.5,480.8 L61.4,480.7 L62.4,480.6 L63.3,480.5 L64.3,480.4 L65.3,480.3 L66.3,480.2 L67.3,480.0 L68.2,479.9 L69.2,479.8 L70.2,479.6 L71.2,479.5 L72.2,479.3 L73.1,479.2 L74.1,479.0 L75.1,478.8 L76.0,478.6 L77.0,478.5 L77.9,478.3 L78.9,478.1 L79.9,477.9 L80.8,477.7 L81.8,477.6 L82.8,477.4 L83.7,477.1 L84.6,476.9 L85.5,476.7 L86.4,476.4 L87.2,476.1 L88.0,475.8 L88.8,475.5 L89.7,475.0 L90.6,474.6 L91.4,474.1 L92.2,473.5 L92.9,473.0 L93.6,472.4 L94.3,471.8 L95.0,471.1 L95.7,470.5 L96.4,469.8 L97.0,469.0 L97.6,468.2 L98.2,467.3 L98.7,466.5 L99.3,465.7 L99.9,464.9 L100.5,464.2 L101.2,463.7 L102.1,463.2 L102.9,462.7 L103.8,462.3 L104.8,462.0 L105.7,461.9 L106.6,461.8 L107.5,461.9 L108.4,462.1 L109.3,462.4 L110.2,462.8 L111.2,463.3 L112.1,463.7 L112.8,464.1 L113.6,464.5 L114.4,465.0 L115.2,465.5 L115.9,466.0 L116.7,466.6 L117.5,467.0 L118.2,467.4 L119.0,467.8 L119.9,468.2 L120.9,468.5 L121.8,468.8 L122.7,469.0 L123.6,469.2 L124.5,469.2 L125.4,469.1 L126.3,468.9 L127.2,468.6 L128.1,468.2 L129.0,467.8 L129.9,467.3 L130.6,466.9 L131.3,466.4 L132.1,465.9 L132.8,465.3 L133.6,464.7 L134.4,464.1 L135.2,463.5 L135.9,462.9 L136.7,462.4 L137.5,461.9 L138.2,461.5 L139.1,461.1 L140.1,460.6 L141.0,460.2 L141.9,459.9 L142.8,459.7 L143.7,459.5 L144.5,459.5 L145.4,459.6 L146.2,459.8 L147.0,460.1 L147.8,460.5 L148.5,461.0 L149.2,461.6 L149.8,462.3 L150.4,463.1 L151.0,463.9 L151.6,464.7 L152.3,465.4 L153.0,466.0 L153.6,466.6 L154.3,467.2 L155.0,467.8 L155.8,468.4 L156.6,468.9 L157.5,469.4 L158.5,469.8 L159.2,470.0 L160.0,470.2 L160.8,470.3 L161.6,470.5 L162.5,470.5 L163.5,470.6 L164.4,470.7 L165.4,470.7 L166.4,470.7 L167.4,470.7 L168.5,470.6 L169.5,470.6 L170.6,470.6 L171.7,470.5 L172.7,470.5 L173.8,470.4 L174.9,470.4 L175.9,470.3 L177.0,470.3 L177.9,470.3 L178.8,470.2 L179.7,470.2 L180.6,470.1 L181.5,470.1 L182.5,470.0 L183.4,469.9 L184.3,469.8 L185.3,469.7 L186.2,469.7 L187.2,469.6 L188.1,469.5 L189.1,469.4 L190.1,469.3 L191.1,469.2 L192.0,469.1 L193.0,468.9 L194.0,468.8 L195.0,468.7 L196.0,468.6 L197.0,468.5 L198.0,468.4 L199.0,468.3 L200.0,468.2 L201.0,468.1 L202.0,468.0 L202.9,467.9 L203.9,467.8 L204.9,467.7 L205.9,467.6 L206.8,467.6 L207.9,467.5 L208.9,467.4 L209.9,467.3 L210.9,467.2 L211.9,467.1 L213.0,467.0 L214.0,466.9 L215.1,466.9 L216.1,466.8 L217.1,466.7 L218.2,466.6 L219.2,466.5 L220.2,466.4 L221.2,466.3 L222.2,466.2 L223.2,466.1 L224.2,466.0 L225.2,465.9 L226.2,465.8 L227.1,465.7 L228.1,465.6 L229.0,465.5 L229.9,465.4 L230.8,465.2 L231.7,465.1 L232.5,465.0 L233.6,464.8 L234.6,464.7 L235.6,464.5 L236.5,464.3 L237.5,464.1 L238.4,463.9 L239.3,463.8 L240.2,463.6 L241.1,463.4 L242.0,463.2 L242.9,463.0 L243.7,462.8 L244.6,462.6 L245.5,462.4 L246.4,462.2 L247.3,462.0 L248.2,461.9 L249.2,461.7 L250.1,461.5 L251.1,461.4 L252.1,461.2 L253.1,461.1 L254.2,460.9 L255.2,460.7 L256.3,460.6 L257.3,460.4 L258.4,460.3 L259.4,460.1 L260.5,460.0 L261.5,459.8 L262.5,459.7 L263.4,459.5 L264.4,459.4 L265.3,459.3 L266.1,459.2 L266.9,459.0 L267.7,458.9 L268.4,458.8 L269.5,458.6 L270.6,458.4 L271.5,458.3 L272.3,458.1 L273.2,458.0 L274.1,457.8" stroke="#2a3af2"/><path d="M274.1,457.8 L274.6,457.9 L274.7,475.5" stroke="#2a3af2"/><path d="M48.3,508.1 L49.3,508.2 L50.2,508.4 L51.1,508.6 L52.1,508.7 L53.0,508.9 L54.0,509.0 L55.0,509.1 L56.0,509.2 L56.9,509.2 L57.8,509.3 L58.8,509.3 L59.8,509.3 L60.8,509.3 L61.8,509.3 L62.8,509.2 L63.8,509.2 L64.8,509.1 L65.9,509.0 L66.9,508.9 L67.8,508.8 L68.8,508.7 L69.8,508.5 L70.8,508.4 L71.8,508.2 L72.9,508.1 L73.9,507.9 L74.9,507.7 L75.9,507.5 L76.9,507.2 L77.9,507.0 L78.8,506.7 L79.7,506.5 L80.6,506.2 L81.5,505.9 L82.4,505.5 L83.3,505.1 L84.1,504.7 L84.9,504.2 L85.7,503.8 L86.5,503.3 L87.2,502.9 L88.0,502.5 L88.8,502.1 L89.7,501.7 L90.5,501.2 L91.4,500.7 L92.2,500.3 L93.0,499.9 L93.9,499.5 L94.8,499.1 L95.7,498.8 L96.6,498.6 L97.4,498.4 L98.3,498.3 L99.2,498.2 L100.1,498.1 L101.1,498.0 L102.1,497.9 L103.1,497.9 L104.2,497.8 L105.3,497.7 L106.1,497.6 L107.0,497.5 L107.9,497.5 L108.8,497.4 L109.7,497.3 L110.7,497.2 L111.7,497.1 L112.7,497.1 L113.7,497.0 L114.8,496.9 L115.8,496.8 L116.9,496.7 L118.0,496.7 L119.0,496.6 L120.1,496.5 L121.1,496.4 L122.2,496.4 L123.2,496.3 L124.3,496.2 L125.3,496.1 L126.2,496.1 L127.2,496.0 L128.2,495.9 L129.2,495.9 L130.2,495.8 L131.1,495.7 L132.0,495.7 L132.9,495.6 L133.8,495.6 L134.7,495.5 L135.6,495.5 L136.5,495.4 L137.4,495.4 L138.4,495.3 L139.4,495.3 L140.4,495.2 L141.5,495.1 L142.6,495.1 L143.8,495.0 L145.0,494.9 L145.7,494.9 L146.5,494.8 L147.3,494.7 L148.1,494.7 L148.9,494.6 L149.7,494.6 L150.6,494.5 L151.5,494.5 L152.4,494.4 L153.3,494.3 L154.2,494.3 L155.2,494.2 L156.2,494.1 L157.1,494.0 L158.1,494.0 L159.1,493.9 L160.2,493.8 L161.2,493.7 L162.3,493.7 L163.3,493.6 L164.4,493.5 L165.4,493.4 L166.5,493.3 L167.6,493.3 L168.7,493.2 L169.8,493.1 L170.9,493.0 L172.0,492.9 L173.1,492.9 L174.2,492.8 L175.3,492.7 L176.5,492.6 L177.6,492.5 L178.7,492.5 L179.8,492.4 L180.9,492.3 L182.0,492.2 L183.1,492.2 L184.1,492.1 L185.2,492.0 L186.3,491.9 L187.4,491.9 L188.4,491.8 L189.4,491.7 L190.5,491.7 L191.5,491.6 L192.5,491.5 L193.5,491.5 L194.5,491.4 L195.4,491.3 L196.4,491.3 L197.3,491.2 L198.2,491.2 L199.1,491.1 L200.0,491.1 L200.9,491.0 L201.7,491.0 L202.8,490.9 L204.0,490.9 L205.1,490.9 L206.1,490.8 L207.2,490.8 L208.3,490.7 L209.3,490.7 L210.4,490.7 L211.4,490.7 L212.4,490.6 L213.4,490.6 L214.4,490.6 L215.4,490.6 L216.3,490.6 L217.3,490.5 L218.2,490.5 L219.2,490.5 L220.1,490.5 L221.0,490.5 L222.0,490.5 L222.9,490.4 L223.8,490.4 L224.7,490.4 L225.6,490.4 L226.5,490.3 L227.4,490.3 L228.2,490.3 L229.1,490.2 L230.0,490.2 L231.0,490.1 L232.0,490.1 L233.0,490.0 L234.0,490.0 L234.9,489.9 L235.9,489.9 L236.8,489.8 L237.7,489.7 L238.6,489.7 L239.6,489.6 L240.5,489.5 L241.4,489.5 L242.3,489.4 L243.2,489.3 L244.1,489.3 L245.1,489.2 L246.0,489.1 L247.0,489.0 L248.0,489.0 L249.0,488.9 L249.9,488.8 L250.8,488.8 L251.7,488.7 L252.6,488.6 L253.6,488.6 L254.5,488.5 L255.5,488.4 L256.4,488.4 L257.4,488.3 L258.4,488.2 L259.3,488.1 L260.3,488.1 L261.3,488.0 L262.3,487.9 L263.3,487.8 L264.2,487.8 L265.2,487.7 L266.2,487.6 L267.2,487.5 L268.2,487.5 L269.2,487.4 L270.2,487.3 L271.1,487.3 L272.1,487.2 L273.1,487.1 L274.0,487.1 L275.0,487.0 L276.0,486.9 L277.0,486.9 L277.9,486.8 L278.9,486.7 L279.9,486.7 L280.9,486.6 L281.9,486.6 L282.9,486.5 L283.9,486.5 L284.9,486.4 L285.9,486.3 L286.9,486.3 L287.9,486.2 L288.9,486.2 L289.9,486.1 L290.9,486.1 L291.8,486.0 L292.8,485.9 L293.7,485.9 L294.7,485.8 L295.6,485.8 L296.5,485.7 L297.4,485.7 L298.3,485.6 L299.2,485.6 L300.0,485.5 L301.0,485.4 L302.0,485.4 L303.0,485.3 L304.0,485.2 L304.9,485.2 L305.8,485.1 L306.7,485.0 L307.6,485.0 L308.5,484.9 L309.4,484.8 L310.3,484.8 L311.2,484.7 L312.1,484.6 L313.0,484.6 L314.0,484.5 L315.0,484.4 L315.9,484.3 L316.8,484.2 L317.8,484.2 L318.7,484.1 L319.7,484.0 L320.6,483.9 L321.6,483.8 L322.6,483.7 L323.6,483.6 L324.5,483.6 L325.5,483.5 L326.5,483.4 L327.5,483.3 L328.5,483.2 L329.5,483.1 L330.5,483.0 L331.5,482.9 L332.5,482.8 L333.5,482.8 L334.5,482.7 L335.5,482.6 L336.5,482.5 L337.5,482.4 L338.6,482.3 L339.7,482.2 L340.8,482.1 L342.0,482.0 L343.1,481.9 L344.2,481.8 L345.4,481.7 L346.5,481.6 L347.6,481.5 L348.7,481.4 L349.7,481.3 L350.7,481.2 L351.7,481.2 L352.6,481.1 L353.4,481.1 L354.2,481.1 L354.9,481.1 L355.6,481.1 L356.1,481.2 L357.2,481.4 L358.0,481.6 L358.6,482.1 L359.0,482.7 L359.2,483.3 L359.4,484.1 L359.5,485.1 L359.6,485.8 L359.7,486.5 L359.7,487.4 L359.8,488.3 L359.8,489.2 L359.8,490.2 L359.8,491.2 L359.8,492.3 L359.8,493.3 L359.8,494.4 L359.9,495.4 L359.9,496.4 L359.9,497.4" stroke="#1a1a1a"/><path d="M48.3,524.0 L49.2,524.1 L50.2,524.3 L51.1,524.4 L52.0,524.6 L52.9,524.7 L53.9,524.9 L54.8,525.0 L55.8,525.1 L56.7,525.2 L57.7,525.3 L58.7,525.3 L59.6,525.3 L60.6,525.3 L61.5,525.3 L62.5,525.2 L63.5,525.2 L64.5,525.1 L65.4,525.0 L66.4,524.9 L67.4,524.8 L68.4,524.7 L69.4,524.5 L70.4,524.4 L71.4,524.2 L72.4,524.0 L73.3,523.8 L74.3,523.6 L75.2,523.4 L76.2,523.1 L77.1,522.8 L78.1,522.6 L79.0,522.3 L80.0,522.0 L80.9,521.7 L81.8,521.4 L82.7,521.1 L83.6,520.8 L84.5,520.5 L85.3,520.2 L86.1,519.9 L87.1,519.5 L88.1,519.1 L89.1,518.7 L90.0,518.2 L90.9,517.8 L91.8,517.4 L92.6,517.1 L93.5,516.8 L94.3,516.6 L95.2,516.5 L96.1,516.4 L97.0,516.4 L97.8,516.5 L98.8,516.5 L99.8,516.6 L100.6,516.6 L101.4,516.7 L102.3,516.8 L103.3,516.9 L104.2,517.0 L105.2,517.1 L106.3,517.2 L107.3,517.4 L108.4,517.5 L109.4,517.6 L110.5,517.7 L111.5,517.8 L112.5,517.9 L113.5,518.0 L114.5,518.1 L115.4,518.1 L116.4,518.2 L117.4,518.2 L118.3,518.2 L119.3,518.3 L120.2,518.3 L121.2,518.3 L122.2,518.4 L123.2,518.4 L124.1,518.4 L125.1,518.4 L126.2,518.5 L127.2,518.5 L128.1,518.5 L129.0,518.6 L129.9,518.6 L130.8,518.6 L131.7,518.6 L132.6,518.7 L133.5,518.7 L134.4,518.7 L135.3,518.8 L136.3,518.8 L137.2,518.8 L138.2,518.8 L139.3,518.9 L140.3,518.9 L141.4,518.9 L142.6,518.9 L143.8,519.0 L145.0,519.0 L145.7,519.0 L146.5,519.0 L147.2,519.0 L148.0,519.1 L148.8,519.1 L149.6,519.1 L150.4,519.1 L151.3,519.1 L152.1,519.1 L153.0,519.1 L153.9,519.1 L154.8,519.1 L155.7,519.1 L156.6,519.2 L157.6,519.2 L158.5,519.2 L159.5,519.2 L160.5,519.2 L161.4,519.2 L162.4,519.2 L163.4,519.2 L164.5,519.2 L165.5,519.2 L166.5,519.2 L167.5,519.2 L168.6,519.2 L169.6,519.3 L170.7,519.3 L171.7,519.3 L172.8,519.3 L173.9,519.3 L174.9,519.3 L176.0,519.3 L177.1,519.3 L178.2,519.3 L179.3,519.3 L180.4,519.3 L181.4,519.4 L182.5,519.4 L183.6,519.4 L184.7,519.4 L185.8,519.4 L186.9,519.4 L188.0,519.4 L189.1,519.5 L190.1,519.5 L191.2,519.5 L192.3,519.5 L193.4,519.5 L194.4,519.5 L195.5,519.6 L196.5,519.6 L197.6,519.6 L198.6,519.6 L199.7,519.6 L200.7,519.7 L201.7,519.7 L202.7,519.7 L203.7,519.8 L204.6,519.8 L205.6,519.8 L206.6,519.8 L207.6,519.9 L208.6,519.9 L209.6,519.9 L210.6,520.0 L211.6,520.0 L212.5,520.0 L213.5,520.0 L214.5,520.1 L215.5,520.1 L216.5,520.1 L217.6,520.2 L218.6,520.2 L219.6,520.3 L220.6,520.3 L221.6,520.3 L222.6,520.4 L223.6,520.4 L224.6,520.4 L225.6,520.5 L226.6,520.5 L227.6,520.6 L228.6,520.6 L229.6,520.6 L230.7,520.7 L231.7,520.7 L232.7,520.8 L233.7,520.8 L234.7,520.8 L235.7,520.9 L236.7,520.9 L237.7,521.0 L238.7,521.0 L239.7,521.1 L240.7,521.1 L241.7,521.1 L242.7,521.2 L243.7,521.2 L244.7,521.3 L245.7,521.3 L246.7,521.4 L247.7,521.4 L248.7,521.4 L249.7,521.5 L250.7,521.5 L251.7,521.6 L252.7,521.6 L253.6,521.7 L254.6,521.7 L255.6,521.8 L256.6,521.8 L257.5,521.8 L258.5,521.9 L259.5,521.9 L260.4,522.0 L261.4,522.0 L262.3,522.1 L263.3,522.1 L264.3,522.1 L265.4,522.2 L266.4,522.2 L267.5,522.3 L268.5,522.3 L269.6,522.4 L270.7,522.4 L271.7,522.5 L272.8,522.5 L273.9,522.6 L275.0,522.7 L276.0,522.7 L277.1,522.8 L278.2,522.8 L279.2,522.9 L280.3,522.9 L281.4,523.0 L282.5,523.0 L283.5,523.1 L284.6,523.1 L285.6,523.2 L286.7,523.2 L287.8,523.3 L288.8,523.3 L289.9,523.4 L290.9,523.5 L291.9,523.5 L293.0,523.6 L294.0,523.6 L295.0,523.7 L296.0,523.7 L297.0,523.8 L298.0,523.8 L299.0,523.9 L300.0,523.9 L301.0,524.0 L301.9,524.0 L302.9,524.1 L303.8,524.2 L304.8,524.2 L305.7,524.3 L306.6,524.3 L307.5,524.4 L308.4,524.4 L309.3,524.5 L310.1,524.5 L311.0,524.6 L311.8,524.6 L312.6,524.7 L313.4,524.7 L314.2,524.8 L315.0,524.8 L316.2,524.9 L317.3,524.9 L318.5,525.0 L319.5,525.1 L320.6,525.1 L321.7,525.2 L322.7,525.3 L323.7,525.3 L324.7,525.4 L325.6,525.4 L326.6,525.5 L327.5,525.6 L328.4,525.6 L329.3,525.7 L330.2,525.8 L331.1,525.8 L332.0,525.9 L332.9,526.0 L333.7,526.0 L334.6,526.1 L335.5,526.2 L336.6,526.3 L337.7,526.4 L338.7,526.5 L339.8,526.6 L340.8,526.7 L341.9,526.8 L342.9,526.9 L343.9,527.1 L344.8,527.2 L345.8,527.3 L346.7,527.4 L347.6,527.5 L348.4,527.7 L349.2,527.8 L350.2,528.0 L351.2,528.3 L352.2,528.6 L353.1,528.9 L353.9,529.1 L354.7,529.2 L355.4,529.2 L356.2,528.9 L357.0,528.5 L357.6,528.0 L358.2,527.5 L358.9,526.9 L359.5,526.2" stroke="#ff1f40"/><path d="M359.5,526.2 L359.6,546.0" stroke="#ff1f40"/><path d="M48.3,553.3 L49.2,553.6 L50.2,553.8 L51.1,554.1 L52.0,554.4 L52.9,554.7 L53.9,555.0 L54.8,555.3 L55.7,555.5 L56.7,555.7 L57.7,555.9 L58.7,556.0 L59.6,556.1 L60.6,556.1 L61.5,556.1 L62.5,556.1 L63.5,556.0 L64.5,555.9 L65.5,555.8 L66.6,555.7 L67.6,555.6 L68.6,555.5 L69.6,555.3 L70.5,555.1 L71.5,554.9 L72.4,554.7 L73.4,554.5 L74.3,554.2 L75.3,553.9 L76.2,553.5 L77.1,553.2 L78.1,552.8 L79.0,552.4 L79.9,552.1 L80.8,551.7 L81.6,551.3 L82.5,550.9 L83.4,550.5 L84.3,550.1 L85.2,549.6 L86.0,549.2 L86.8,548.7 L87.7,548.2 L88.5,547.7 L89.3,547.3 L90.2,546.9 L91.1,546.5 L92.0,546.2 L92.9,545.9 L93.8,545.7 L94.7,545.6 L95.5,545.5 L96.4,545.5 L97.4,545.5 L98.3,545.5 L99.2,545.5 L100.2,545.5 L101.2,545.6 L102.2,545.6 L103.2,545.6 L104.2,545.6 L105.3,545.6 L106.2,545.6 L107.1,545.5 L108.0,545.5 L108.9,545.4 L109.9,545.4 L110.9,545.4 L111.9,545.3 L112.9,545.2 L113.9,545.2 L115.0,545.1 L116.0,545.1 L117.1,545.0 L118.1,545.0 L119.1,544.9 L120.2,544.9 L121.2,544.8 L122.3,544.8 L123.3,544.7 L124.3,544.6 L125.3,544.6 L126.2,544.5 L127.2,544.5 L128.2,544.5 L129.2,544.4 L130.2,544.4 L131.1,544.3 L132.0,544.3 L132.9,544.2 L133.8,544.2 L134.7,544.1 L135.6,544.1 L136.5,544.0 L137.4,544.0 L138.4,544.0 L139.4,543.9 L140.4,543.9 L141.5,543.8 L142.6,543.8 L143.8,543.7 L145.0,543.7 L145.7,543.7 L146.5,543.7 L147.2,543.6 L148.0,543.6 L148.8,543.6 L149.6,543.6 L150.4,543.6 L151.3,543.5 L152.1,543.5 L153.0,543.5 L153.9,543.5 L154.8,543.5 L155.7,543.4 L156.6,543.4 L157.6,543.4 L158.5,543.4 L159.5,543.4 L160.5,543.4 L161.4,543.3 L162.4,543.3 L163.4,543.3 L164.5,543.3 L165.5,543.3 L166.5,543.3 L167.5,543.2 L168.6,543.2 L169.6,543.2 L170.7,543.2 L171.7,543.2 L172.8,543.2 L173.9,543.1 L174.9,543.1 L176.0,543.1 L177.1,543.1 L178.2,543.1 L179.3,543.1 L180.4,543.0 L181.4,543.0 L182.5,543.0 L183.6,543.0 L184.7,543.0 L185.8,542.9 L186.9,542.9 L188.0,542.9 L189.1,542.9 L190.1,542.8 L191.2,542.8 L192.3,542.8 L193.4,542.8 L194.4,542.7 L195.5,542.7 L196.5,542.7 L197.6,542.6 L198.6,542.6 L199.7,542.6 L200.7,542.5 L201.7,542.5 L202.7,542.5 L203.7,542.4 L204.6,542.4 L205.6,542.4 L206.6,542.3 L207.6,542.3 L208.6,542.2 L209.6,542.2 L210.6,542.1 L211.6,542.1 L212.5,542.1 L213.5,542.0 L214.5,542.0 L215.5,541.9 L216.5,541.9 L217.6,541.8 L218.6,541.8 L219.6,541.7 L220.6,541.7 L221.6,541.6 L222.6,541.6 L223.6,541.5 L224.6,541.5 L225.6,541.4 L226.6,541.4 L227.6,541.3 L228.6,541.2 L229.6,541.2 L230.7,541.1 L231.7,541.1 L232.7,541.0 L233.7,541.0 L234.7,540.9 L235.7,540.9 L236.7,540.8 L237.7,540.8 L238.7,540.7 L239.7,540.6 L240.7,540.6 L241.7,540.5 L242.7,540.5 L243.7,540.4 L244.7,540.4 L245.7,540.3 L246.7,540.3 L247.7,540.2 L248.7,540.1 L249.7,540.1 L250.7,540.0 L251.7,540.0 L252.7,539.9 L253.6,539.9 L254.6,539.8 L255.6,539.8 L256.6,539.7 L257.5,539.7 L258.5,539.6 L259.5,539.6 L260.4,539.5 L261.4,539.5 L262.3,539.4 L263.3,539.4 L264.3,539.4 L265.4,539.3 L266.4,539.3 L267.5,539.2 L268.5,539.2 L269.6,539.1 L270.7,539.1 L271.7,539.0 L272.8,539.0 L273.9,538.9 L274.9,538.9 L276.0,538.9 L277.1,538.8 L278.2,538.8 L279.2,538.7 L280.3,538.7 L281.4,538.6 L282.5,538.6 L283.5,538.6 L284.6,538.5 L285.6,538.5 L286.7,538.4 L287.8,538.4 L288.8,538.4 L289.9,538.3 L290.9,538.3 L291.9,538.2 L293.0,538.2 L294.0,538.2 L295.0,538.1 L296.0,538.1 L297.0,538.0 L298.0,538.0 L299.0,538.0 L300.0,537.9 L301.0,537.9 L301.9,537.8 L302.9,537.8 L303.8,537.7 L304.8,537.7 L305.7,537.6 L306.6,537.6 L307.5,537.6 L308.4,537.5 L309.3,537.5 L310.1,537.4 L311.0,537.4 L311.8,537.3 L312.6,537.3 L313.4,537.2 L314.2,537.2 L315.0,537.1 L316.2,537.0 L317.3,536.9 L318.4,536.8 L319.5,536.7 L320.5,536.7 L321.6,536.6 L322.6,536.5 L323.5,536.4 L324.5,536.3 L325.4,536.2 L326.3,536.1 L327.3,536.0 L328.2,535.9 L329.1,535.8 L330.0,535.7 L330.9,535.6 L331.8,535.5 L332.7,535.4 L333.6,535.3 L334.5,535.2 L335.5,535.1 L336.5,535.0 L337.5,534.9 L338.6,534.8 L339.7,534.6 L340.8,534.5 L341.9,534.3 L343.0,534.2 L344.2,534.0 L345.3,533.9 L346.4,533.7 L347.4,533.6 L348.5,533.5 L349.5,533.4 L350.4,533.3 L351.3,533.2 L352.1,533.2 L352.9,533.2 L353.6,533.2 L354.2,533.2 L354.7,533.3 L355.6,533.5 L356.2,533.9 L356.8,534.4 L357.3,535.0 L357.7,535.7 L358.0,536.6 L358.3,537.5 L358.6,538.5 L358.8,539.3 L358.9,540.2 L359.0,541.1 L359.1,542.1 L359.2,543.1 L359.3,544.1 L359.4,545.0 L359.4,545.9 L359.5,546.7 L359.6,547.6 L359.7,548.4 L359.7,549.2 L359.8,550.0 L359.9,550.8" stroke="#3ee41c"/><path d="M48.3,595.8 L49.2,595.9 L50.2,596.1 L51.1,596.2 L52.0,596.4 L52.9,596.5 L53.9,596.7 L54.8,596.8 L55.8,596.9 L56.7,597.0 L57.7,597.1 L58.7,597.1 L59.6,597.1 L60.6,597.1 L61.5,597.1 L62.5,597.0 L63.5,597.0 L64.5,596.9 L65.5,596.8 L66.6,596.7 L67.6,596.6 L68.6,596.5 L69.6,596.4 L70.5,596.2 L71.5,596.0 L72.4,595.8 L73.4,595.6 L74.3,595.3 L75.3,595.0 L76.2,594.7 L77.2,594.3 L78.1,594.0 L79.0,593.6 L79.9,593.2 L80.8,592.8 L81.6,592.4 L82.5,592.0 L83.4,591.6 L84.3,591.2 L85.2,590.7 L86.0,590.2 L86.8,589.6 L87.7,589.1 L88.5,588.6 L89.3,588.0 L90.2,587.6 L91.1,587.1 L92.0,586.7 L92.9,586.4 L93.8,586.2 L94.6,586.0 L95.5,585.8 L96.4,585.7 L97.3,585.6 L98.3,585.6 L99.2,585.5 L100.2,585.5 L101.1,585.5 L102.2,585.5 L103.2,585.4 L104.2,585.4 L105.3,585.3 L106.2,585.2 L107.1,585.2 L108.0,585.1 L108.9,585.1 L109.9,585.0 L110.9,585.0 L111.9,584.9 L112.9,584.8 L113.9,584.8 L115.0,584.7 L116.0,584.7 L117.1,584.6 L118.1,584.6 L119.1,584.5 L120.2,584.5 L121.2,584.4 L122.3,584.3 L123.3,584.3 L124.3,584.2 L125.3,584.1 L126.2,584.1 L127.2,584.0 L128.2,583.9 L129.2,583.8 L130.2,583.7 L131.1,583.6 L132.0,583.5 L132.9,583.5 L133.8,583.4 L134.7,583.3 L135.6,583.2 L136.5,583.0 L137.4,582.9 L138.4,582.8 L139.4,582.7 L140.4,582.6 L141.5,582.5 L142.6,582.4 L143.8,582.2 L145.0,582.1 L145.7,582.0 L146.5,581.9 L147.2,581.9 L148.0,581.8 L148.8,581.7 L149.6,581.6 L150.4,581.5 L151.3,581.5 L152.1,581.4 L153.0,581.3 L153.9,581.2 L154.8,581.1 L155.7,581.0 L156.6,580.9 L157.6,580.8 L158.5,580.7 L159.5,580.6 L160.5,580.5 L161.4,580.4 L162.4,580.3 L163.4,580.2 L164.5,580.1 L165.5,580.0 L166.5,579.9 L167.5,579.8 L168.6,579.7 L169.6,579.6 L170.7,579.5 L171.7,579.4 L172.8,579.3 L173.9,579.2 L174.9,579.1 L176.0,579.0 L177.1,578.9 L178.2,578.8 L179.3,578.6 L180.4,578.5 L181.4,578.4 L182.5,578.3 L183.6,578.2 L184.7,578.1 L185.8,578.0 L186.9,577.9 L188.0,577.8 L189.0,577.7 L190.1,577.6 L191.2,577.5 L192.3,577.3 L193.3,577.2 L194.4,577.1 L195.5,577.0 L196.5,576.9 L197.6,576.8 L198.6,576.7 L199.7,576.6 L200.7,576.5 L201.7,576.4 L202.7,576.3 L203.7,576.2 L204.6,576.1 L205.6,576.0 L206.6,575.9 L207.6,575.8 L208.6,575.7 L209.6,575.6 L210.6,575.5 L211.5,575.4 L212.5,575.3 L213.5,575.2 L214.5,575.1 L215.5,575.0 L216.5,574.9 L217.5,574.8 L218.6,574.7 L219.6,574.5 L220.6,574.4 L221.6,574.3 L222.6,574.2 L223.6,574.1 L224.6,574.0 L225.6,573.9 L226.6,573.8 L227.6,573.7 L228.6,573.6 L229.6,573.5 L230.7,573.4 L231.7,573.3 L232.7,573.2 L233.7,573.1 L234.7,573.0 L235.7,572.9 L236.7,572.7 L237.7,572.6 L238.7,572.5 L239.7,572.4 L240.7,572.3 L241.7,572.2 L242.7,572.1 L243.7,572.0 L244.7,571.9 L245.7,571.8 L246.7,571.7 L247.7,571.6 L248.7,571.5 L249.7,571.4 L250.7,571.3 L251.7,571.3 L252.7,571.2 L253.6,571.1 L254.6,571.0 L255.6,570.9 L256.6,570.8 L257.5,570.7 L258.5,570.6 L259.5,570.5 L260.4,570.4 L261.4,570.4 L262.3,570.3 L263.3,570.2 L264.3,570.1 L265.4,570.0 L266.4,570.0 L267.5,569.9 L268.5,569.8 L269.6,569.7 L270.7,569.7 L271.7,569.6 L272.8,569.5 L273.9,569.5 L275.0,569.4 L276.0,569.4 L277.1,569.3 L278.2,569.2 L279.2,569.2 L280.3,569.1 L281.4,569.1 L282.5,569.0 L283.5,569.0 L284.6,568.9 L285.7,568.9 L286.7,568.9 L287.8,568.8 L288.8,568.8 L289.9,568.7 L290.9,568.7 L292.0,568.6 L293.0,568.6 L294.0,568.5 L295.0,568.4 L296.1,568.4 L297.1,568.3 L298.1,568.3 L299.1,568.2 L300.0,568.2 L301.0,568.1 L302.0,568.0 L302.9,568.0 L303.9,567.9 L304.8,567.8 L305.7,567.7 L306.6,567.6 L307.5,567.6 L308.4,567.5 L309.3,567.4 L310.1,567.3 L311.0,567.2 L311.8,567.1 L312.6,567.0 L313.4,566.8 L314.2,566.7 L315.0,566.6 L316.1,566.4 L317.2,566.2 L318.3,566.0 L319.4,565.7 L320.4,565.5 L321.4,565.2 L322.4,565.0 L323.3,564.7 L324.3,564.5 L325.2,564.2 L326.1,563.9 L327.0,563.6 L327.9,563.4 L328.8,563.1 L329.6,562.8 L330.5,562.6 L331.3,562.3 L332.2,562.0 L333.0,561.8 L333.8,561.6 L334.7,561.3 L335.5,561.1 L336.5,560.8 L337.5,560.6 L338.5,560.4 L339.5,560.1 L340.4,559.9 L341.4,559.7 L342.4,559.5 L343.3,559.3 L344.2,559.1 L345.1,558.9 L346.0,558.6 L346.8,558.4 L347.6,558.2 L348.4,557.9 L349.2,557.7 L350.2,557.4 L351.2,557.0 L352.2,556.7 L353.1,556.4 L353.9,556.0 L354.7,555.6 L355.4,555.2 L356.1,554.7 L356.8,554.0 L357.4,553.1 L357.9,552.3 L358.4,551.5 L358.8,550.8 L359.4,550.1 L359.9,549.5" stroke="#2a3af2"/><path d="M359.9,549.5 L360.0,568.0" stroke="#2a3af2"/></g><g font-family="Liberation Sans, sans-serif" font-size="11.30" fill="#1a1a1a" stroke="#1a1a1a" stroke-width="0.35"><text x="62.68" y="641.50" text-anchor="middle">40</text><text x="91.04" y="641.50" text-anchor="middle">60</text><text x="119.40" y="641.50" text-anchor="middle">80</text><text x="147.76" y="641.50" text-anchor="middle">100</text><text x="176.12" y="641.50" text-anchor="middle">120</text><text x="204.48" y="641.50" text-anchor="middle">140</text><text x="232.84" y="641.50" text-anchor="middle">160</text><text x="261.20" y="641.50" text-anchor="middle">180</text><text x="289.56" y="641.50" text-anchor="middle">200</text><text x="317.92" y="641.50" text-anchor="middle">220</text><text x="346.28" y="641.50" text-anchor="middle">240</text><text x="40.60" y="371.97" text-anchor="end">2.0</text><text x="40.60" y="436.19" text-anchor="end">1.5</text><text x="40.60" y="500.42" text-anchor="end">1.0</text><text x="40.60" y="564.64" text-anchor="end">0.5</text><text x="40.60" y="628.87" text-anchor="end">0.0</text></g><text x="275.10" y="381.70" font-size="6.60" fill="#1a1a1a" stroke="#1a1a1a" stroke-width="0.2" textLength="51.00" lengthAdjust="spacingAndGlyphs" style="font-family:'Liberation Serif',serif">1. PLLA/PBAT 9/1</text><text x="275.10" y="389.70" font-size="6.60" fill="#1a1a1a" stroke="#1a1a1a" stroke-width="0.2" textLength="51.00" lengthAdjust="spacingAndGlyphs" style="font-family:'Liberation Serif',serif">2. PLLA/PBAT 8/2</text><text x="275.10" y="397.80" font-size="6.60" fill="#1a1a1a" stroke="#1a1a1a" stroke-width="0.2" textLength="51.00" lengthAdjust="spacingAndGlyphs" style="font-family:'Liberation Serif',serif">3. PLLA/PBAT 7/3</text><text x="275.10" y="406.00" font-size="6.60" fill="#1a1a1a" stroke="#1a1a1a" stroke-width="0.2" textLength="51.00" lengthAdjust="spacingAndGlyphs" style="font-family:'Liberation Serif',serif">4. PLLA/PBAT 5/5</text><text x="275.10" y="414.20" font-size="6.60" fill="#1a1a1a" stroke="#1a1a1a" stroke-width="0.2" textLength="80.50" lengthAdjust="spacingAndGlyphs" style="font-family:'Liberation Serif',serif">5.PLLA/PBAT 9/1+ 5%PDLA</text><text x="275.10" y="422.60" font-size="6.60" fill="#1a1a1a" stroke="#1a1a1a" stroke-width="0.2" textLength="82.00" lengthAdjust="spacingAndGlyphs" style="font-family:'Liberation Serif',serif">6.PLLA/PBAT 9/1+10%PDLA</text><text x="275.10" y="430.70" font-size="6.60" fill="#1a1a1a" stroke="#1a1a1a" stroke-width="0.2" textLength="79.00" lengthAdjust="spacingAndGlyphs" style="font-family:'Liberation Serif',serif">7.PLLA/PBAT 8/2+5%PDLA</text><text x="275.10" y="439.00" font-size="6.60" fill="#1a1a1a" stroke="#1a1a1a" stroke-width="0.2" textLength="82.00" lengthAdjust="spacingAndGlyphs" style="font-family:'Liberation Serif',serif">8.PLLA/PBAT 8/2+10%PDLA</text><text x="55.10" y="401.03" font-size="9.50" fill="#1a1a1a" stroke="#1a1a1a" stroke-width="0.2" text-anchor="middle" style="font-family:'Liberation Serif',serif">1</text><text x="55.10" y="425.63" font-size="9.50" fill="#1a1a1a" stroke="#1a1a1a" stroke-width="0.2" text-anchor="middle" style="font-family:'Liberation Serif',serif">2</text><text x="54.00" y="453.63" font-size="9.50" fill="#1a1a1a" stroke="#1a1a1a" stroke-width="0.2" text-anchor="middle" style="font-family:'Liberation Serif',serif">3</text><text x="54.00" y="477.24" font-size="9.50" fill="#1a1a1a" stroke="#1a1a1a" stroke-width="0.2" text-anchor="middle" style="font-family:'Liberation Serif',serif">4</text><text x="54.00" y="503.83" font-size="9.50" fill="#1a1a1a" stroke="#1a1a1a" stroke-width="0.2" text-anchor="middle" style="font-family:'Liberation Serif',serif">5</text><text x="54.00" y="519.74" font-size="9.50" fill="#1a1a1a" stroke="#1a1a1a" stroke-width="0.2" text-anchor="middle" style="font-family:'Liberation Serif',serif">6</text><text x="55.00" y="550.63" font-size="9.50" fill="#1a1a1a" stroke="#1a1a1a" stroke-width="0.2" text-anchor="middle" style="font-family:'Liberation Serif',serif">7</text><text x="56.00" y="591.24" font-size="9.50" fill="#1a1a1a" stroke="#1a1a1a" stroke-width="0.2" text-anchor="middle" style="font-family:'Liberation Serif',serif">8</text><text x="174.40" y="380.80" font-size="13.00" fill="#111" stroke="#111" stroke-width="0.3" style="font-family:'Liberation Serif',serif">(b) Cooling</text><text x="0" y="0" font-size="13.40" fill="#111" stroke="#111" stroke-width="0.25" text-anchor="middle" transform="translate(16.60,505.50) rotate(-90)">Heat flow (W/g)</text><text x="154.50" y="663.70" font-size="13.30" fill="#111" stroke="#111" stroke-width="0.25">Temperature (<tspan font-size="14" style="font-family:'Liberation Serif',serif">&#176;C</tspan>)</text><clipPath id="cc"><rect x="47.00" y="732.50" width="316.30" height="255.80"/></clipPath><g stroke="#222" stroke-width="1.2"><rect x="46.40" y="733.00" width="316.40" height="254.80" fill="none" stroke="#222" stroke-width="1.2"/><line x1="46.40" y1="987.80" x2="46.40" y2="990.30"/><line x1="60.78" y1="987.80" x2="60.78" y2="992.30"/><line x1="75.16" y1="987.80" x2="75.16" y2="990.30"/><line x1="89.54" y1="987.80" x2="89.54" y2="992.30"/><line x1="103.92" y1="987.80" x2="103.92" y2="990.30"/><line x1="118.30" y1="987.80" x2="118.30" y2="992.30"/><line x1="132.68" y1="987.80" x2="132.68" y2="990.30"/><line x1="147.06" y1="987.80" x2="147.06" y2="992.30"/><line x1="161.44" y1="987.80" x2="161.44" y2="990.30"/><line x1="175.82" y1="987.80" x2="175.82" y2="992.30"/><line x1="190.20" y1="987.80" x2="190.20" y2="990.30"/><line x1="204.58" y1="987.80" x2="204.58" y2="992.30"/><line x1="218.96" y1="987.80" x2="218.96" y2="990.30"/><line x1="233.34" y1="987.80" x2="233.34" y2="992.30"/><line x1="247.72" y1="987.80" x2="247.72" y2="990.30"/><line x1="262.10" y1="987.80" x2="262.10" y2="992.30"/><line x1="276.48" y1="987.80" x2="276.48" y2="990.30"/><line x1="290.86" y1="987.80" x2="290.86" y2="992.30"/><line x1="305.24" y1="987.80" x2="305.24" y2="990.30"/><line x1="319.62" y1="987.80" x2="319.62" y2="992.30"/><line x1="334.00" y1="987.80" x2="334.00" y2="990.30"/><line x1="348.38" y1="987.80" x2="348.38" y2="992.30"/><line x1="362.76" y1="987.80" x2="362.76" y2="990.30"/><line x1="41.90" y1="733.00" x2="46.40" y2="733.00"/><line x1="41.90" y1="759.80" x2="46.40" y2="759.80"/><line x1="41.90" y1="786.60" x2="46.40" y2="786.60"/><line x1="41.90" y1="813.40" x2="46.40" y2="813.40"/><line x1="41.90" y1="840.20" x2="46.40" y2="840.20"/><line x1="41.90" y1="867.00" x2="46.40" y2="867.00"/><line x1="41.90" y1="893.80" x2="46.40" y2="893.80"/><line x1="41.90" y1="920.60" x2="46.40" y2="920.60"/><line x1="41.90" y1="947.40" x2="46.40" y2="947.40"/><line x1="41.90" y1="974.20" x2="46.40" y2="974.20"/><line x1="43.90" y1="746.40" x2="46.40" y2="746.40"/><line x1="43.90" y1="773.20" x2="46.40" y2="773.20"/><line x1="43.90" y1="800.00" x2="46.40" y2="800.00"/><line x1="43.90" y1="826.80" x2="46.40" y2="826.80"/><line x1="43.90" y1="853.60" x2="46.40" y2="853.60"/><line x1="43.90" y1="880.40" x2="46.40" y2="880.40"/><line x1="43.90" y1="907.20" x2="46.40" y2="907.20"/><line x1="43.90" y1="934.00" x2="46.40" y2="934.00"/><line x1="43.90" y1="960.80" x2="46.40" y2="960.80"/><line x1="43.90" y1="987.60" x2="46.40" y2="987.60"/></g><g clip-path="url(#cc)" fill="none" stroke-width="1.50" stroke-linejoin="round" stroke-linecap="round"><path d="M46.4,759.7 L47.3,759.9 L48.3,760.1 L49.2,760.4 L50.2,760.6 L51.1,760.8 L52.0,761.1 L53.0,761.3 L53.9,761.5 L54.9,761.7 L55.8,761.9 L56.8,762.1 L57.7,762.3 L58.7,762.5 L59.7,762.7 L60.6,762.8 L61.6,762.9 L62.6,763.0 L63.5,763.1 L64.5,763.2 L65.5,763.3 L66.5,763.4 L67.5,763.5 L68.5,763.6 L69.5,763.7 L70.4,763.8 L71.4,764.0 L72.4,764.1 L73.4,764.3 L74.4,764.4 L75.5,764.6 L76.5,764.7 L77.6,764.9 L78.6,765.1 L79.6,765.3 L80.7,765.5 L81.7,765.7 L82.6,765.9 L83.6,766.0 L84.5,766.2 L85.3,766.4 L86.1,766.6 L87.2,766.9 L88.2,767.1 L89.1,767.4 L90.0,767.6 L90.8,767.9 L91.6,768.2 L92.3,768.6 L92.9,769.0 L93.6,769.3 L94.3,769.6 L95.1,769.7 L95.9,769.7 L96.7,769.7 L97.6,769.6 L98.7,769.6 L99.8,769.6 L100.5,769.6 L101.3,769.7 L102.1,769.8 L103.0,769.8 L104.0,769.9 L105.0,770.0 L106.0,770.1 L107.0,770.2 L108.1,770.3 L109.2,770.5 L110.3,770.6 L111.3,770.7 L112.4,770.8 L113.5,770.8 L114.5,770.9 L115.5,771.0 L116.4,771.0 L117.4,771.0 L118.2,771.0 L119.0,771.0 L120.1,770.9 L121.1,770.9 L122.1,770.8 L123.0,770.7 L123.9,770.5 L124.8,770.3 L125.6,770.1 L126.4,769.9 L127.2,769.6 L128.1,769.2 L129.0,768.7 L129.8,768.2 L130.6,767.7 L131.3,767.1 L132.0,766.5 L132.7,766.0 L133.5,765.3 L134.2,764.7 L134.9,764.0 L135.5,763.3 L136.1,762.5 L136.6,761.7 L137.1,760.8 L137.6,760.0 L138.2,759.2 L138.9,758.3 L139.6,757.4 L140.3,756.6 L140.9,756.4 L141.3,756.7 L141.7,757.3 L142.1,758.2 L142.5,759.1 L142.9,760.2 L143.3,761.1 L143.6,761.9 L144.0,762.7 L144.3,763.3 L144.6,764.0 L145.1,764.7 L145.6,765.3 L146.1,766.0 L146.8,766.8 L147.5,767.5 L148.2,768.3 L148.9,768.9 L149.7,769.6 L150.5,770.1 L151.3,770.5 L152.0,770.9 L152.8,771.2 L153.5,771.4 L154.4,771.6 L155.3,771.8 L156.3,772.1 L157.4,772.3 L158.1,772.4 L158.8,772.6 L159.5,772.7 L160.3,772.8 L161.2,773.0 L162.0,773.1 L162.9,773.2 L163.8,773.3 L164.8,773.4 L165.8,773.6 L166.8,773.7 L167.8,773.8 L168.8,773.9 L169.9,774.0 L170.9,774.1 L172.0,774.2 L173.1,774.3 L174.2,774.4 L175.3,774.5 L176.3,774.7 L177.4,774.8 L178.5,774.9 L179.6,775.0 L180.7,775.1 L181.7,775.2 L182.8,775.3 L183.8,775.5 L184.8,775.6 L185.8,775.7 L186.7,775.9 L187.7,776.0 L188.8,776.1 L189.8,776.3 L190.9,776.4 L191.9,776.6 L193.0,776.7 L194.1,776.9 L195.1,777.1 L196.2,777.2 L197.3,777.4 L198.4,777.6 L199.4,777.7 L200.5,777.9 L201.6,778.0 L202.6,778.2 L203.7,778.3 L204.7,778.5 L205.7,778.6 L206.7,778.8 L207.6,778.9 L208.6,779.0 L209.5,779.1 L210.4,779.2 L211.2,779.3 L212.1,779.4 L212.9,779.5 L213.6,779.6 L214.3,779.6 L215.0,779.7 L216.2,779.8 L217.4,779.9 L218.4,780.0 L219.4,780.0 L220.3,780.1 L221.1,780.0 L221.9,779.9 L222.7,779.7 L223.6,779.3 L224.4,778.8 L225.1,778.2 L225.8,777.5 L226.5,776.9 L227.1,776.3 L227.8,775.5 L228.4,774.8 L229.0,774.1 L229.6,773.6 L230.3,773.4 L231.1,773.5 L231.9,773.8 L232.6,774.4 L233.4,775.1 L234.2,775.9 L234.7,776.5 L235.2,777.2 L235.7,777.9 L236.2,778.8 L236.7,779.7 L237.2,780.6 L237.6,781.6 L238.1,782.5 L238.6,783.5 L239.0,784.5 L239.5,785.5 L239.9,786.4 L240.3,787.3 L240.7,788.1 L241.1,789.0 L241.5,789.8 L241.9,790.7 L242.3,791.5 L242.6,792.4 L243.0,793.3 L243.4,794.2 L243.7,795.1 L244.0,796.0 L244.4,796.9 L244.7,797.9 L245.0,798.8 L245.3,799.7 L245.6,800.7 L245.8,801.7 L246.1,802.7 L246.3,803.7 L246.6,804.7 L246.8,805.7 L247.1,806.7 L247.3,807.7 L247.6,808.7 L247.8,809.7 L248.0,810.6 L248.2,811.6 L248.4,812.5 L248.6,813.3 L248.9,814.4 L249.1,815.4 L249.3,816.3 L249.5,817.2 L249.7,818.1 L249.9,819.0 L250.1,820.0 L250.3,821.0 L250.5,822.0 L250.7,822.8 L250.8,823.7 L250.9,824.6 L251.1,825.6 L251.2,826.6 L251.4,827.6 L251.5,828.6 L251.7,829.6 L251.8,830.5 L251.9,831.5 L252.1,832.5 L252.2,833.4 L252.4,834.3 L252.5,835.1 L252.7,835.9 L252.9,837.0 L253.1,838.1 L253.4,839.2 L253.6,840.3 L253.8,841.3 L254.1,842.0 L254.3,842.5 L254.5,842.7 L254.7,842.6 L254.8,842.2 L255.0,841.6 L255.2,840.9 L255.4,840.0 L255.5,839.0 L255.7,837.8 L255.9,836.6 L256.0,835.4 L256.2,834.1 L256.4,832.7 L256.5,831.4 L256.7,830.2 L256.8,829.0 L256.9,828.2 L257.0,827.3 L257.1,826.4 L257.2,825.5 L257.2,824.6 L257.3,823.6 L257.4,822.6 L257.5,821.6 L257.5,820.6 L257.6,819.5 L257.7,818.5 L257.7,817.4 L257.8,816.4 L257.9,815.3 L257.9,814.2 L258.0,813.2 L258.1,812.1 L258.1,811.1 L258.2,810.0 L258.3,809.0 L258.3,808.0 L258.4,807.0 L258.5,806.0 L258.6,805.1 L258.6,804.2 L258.7,803.3 L258.8,802.4 L258.9,801.6 L259.0,800.5 L259.1,799.3 L259.3,798.2 L259.4,797.1 L259.5,796.0 L259.6,794.9 L259.7,793.9 L259.8,792.9 L260.0,792.0 L260.1,791.1 L260.3,790.2 L260.5,789.4 L260.7,788.7 L261.0,788.0 L261.4,787.1 L261.8,786.2 L262.3,785.5 L262.9,784.9 L263.7,784.5 L264.3,784.3 L265.0,784.2 L265.8,784.2 L266.6,784.3 L267.6,784.4 L268.5,784.5 L269.5,784.7 L270.6,785.0 L271.6,785.2 L272.7,785.4 L273.7,785.7 L274.8,785.9 L275.7,786.1 L276.7,786.2" stroke="#1a1a1a"/><path d="M46.4,790.7 L47.3,790.8 L48.3,791.0 L49.2,791.2 L50.2,791.3 L51.1,791.5 L52.0,791.6 L53.0,791.8 L53.9,792.0 L54.9,792.1 L55.8,792.2 L56.8,792.4 L57.7,792.5 L58.7,792.6 L59.7,792.7 L60.6,792.8 L61.6,792.9 L62.6,792.9 L63.5,793.0 L64.5,793.0 L65.5,793.1 L66.5,793.1 L67.5,793.2 L68.5,793.2 L69.4,793.3 L70.4,793.3 L71.4,793.3 L72.4,793.4 L73.4,793.5 L74.4,793.5 L75.4,793.5 L76.5,793.6 L77.5,793.6 L78.5,793.6 L79.6,793.7 L80.6,793.7 L81.6,793.7 L82.5,793.8 L83.5,793.9 L84.4,794.0 L85.3,794.1 L86.1,794.2 L87.1,794.4 L88.1,794.6 L89.0,794.9 L89.9,795.2 L90.8,795.5 L91.6,795.7 L92.3,796.0 L93.0,796.2 L93.9,796.5 L94.7,796.8 L95.7,797.0 L96.3,797.1 L97.0,797.2 L97.8,797.2 L98.7,797.3 L99.6,797.3 L100.6,797.4 L101.7,797.4 L102.8,797.4 L103.9,797.5 L105.0,797.5 L106.2,797.5 L107.3,797.5 L108.4,797.5 L109.5,797.5 L110.6,797.5 L111.6,797.5 L112.6,797.5 L113.5,797.5 L114.5,797.5 L115.5,797.5 L116.5,797.5 L117.4,797.5 L118.4,797.5 L119.3,797.5 L120.2,797.5 L121.1,797.5 L122.0,797.4 L122.8,797.3 L123.7,797.2 L124.5,797.0 L125.5,796.7 L126.5,796.4 L127.4,796.1 L128.4,795.7 L129.3,795.3 L130.2,794.8 L131.1,794.4 L131.9,793.9 L132.7,793.4 L133.5,792.9 L134.2,792.3 L135.0,791.6 L135.6,790.9 L136.3,790.3 L137.0,789.7 L137.6,789.2 L138.2,788.8 L139.2,788.3 L140.1,787.9 L141.0,787.9 L141.7,788.3 L142.4,789.0 L143.0,789.9 L143.6,790.7 L144.0,791.4 L144.3,792.1 L144.6,792.7 L145.1,793.4 L145.6,793.9 L146.2,794.4 L146.9,794.9 L147.7,795.4 L148.5,795.9 L149.5,796.3 L150.5,796.7 L151.2,796.9 L151.9,797.1 L152.7,797.2 L153.5,797.4 L154.4,797.5 L155.3,797.6 L156.2,797.7 L157.2,797.8 L158.2,797.8 L159.2,797.9 L160.3,797.9 L161.3,798.0 L162.4,798.0 L163.5,798.0 L164.6,798.1 L165.7,798.1 L166.8,798.2 L167.9,798.2 L169.0,798.3 L170.0,798.3 L171.1,798.4 L172.0,798.5 L173.0,798.5 L173.9,798.6 L174.9,798.7 L175.8,798.7 L176.8,798.8 L177.8,798.9 L178.8,798.9 L179.9,799.0 L180.9,799.1 L181.9,799.1 L182.9,799.2 L184.0,799.3 L185.0,799.4 L186.0,799.4 L187.0,799.5 L188.1,799.6 L189.1,799.6 L190.1,799.7 L191.1,799.8 L192.0,799.8 L193.0,799.9 L194.0,800.0 L194.9,800.0 L195.8,800.1 L196.7,800.2 L197.6,800.2 L198.5,800.3 L199.6,800.4 L200.7,800.5 L201.7,800.6 L202.8,800.7 L203.8,800.8 L204.8,800.9 L205.8,801.0 L206.8,801.1 L207.8,801.2 L208.7,801.3 L209.7,801.4 L210.6,801.5 L211.5,801.6 L212.4,801.7 L213.3,801.7 L214.2,801.8 L215.0,801.8 L216.1,801.8 L217.2,801.9 L218.2,801.9 L219.3,801.9 L220.3,801.9 L221.2,801.9 L222.2,801.8 L223.0,801.7 L223.8,801.6 L224.6,801.4 L225.5,801.0 L226.3,800.5 L227.0,800.0 L227.7,799.4 L228.4,798.9 L229.3,798.3 L230.1,797.7 L231.0,797.2 L231.9,797.0 L232.6,797.1 L233.3,797.5 L234.0,797.9 L234.7,798.5 L235.4,799.2 L236.1,799.9 L236.6,800.5 L237.1,801.1 L237.6,801.8 L238.1,802.6 L238.6,803.4 L239.1,804.3 L239.6,805.1 L240.1,806.0 L240.5,806.9 L241.0,807.8 L241.5,808.7 L241.9,809.5 L242.3,810.3 L242.8,811.2 L243.2,812.0 L243.6,812.8 L244.0,813.7 L244.4,814.5 L244.8,815.4 L245.2,816.3 L245.6,817.2 L245.9,818.1 L246.3,819.0 L246.6,820.0 L246.9,820.8 L247.1,821.7 L247.3,822.6 L247.6,823.5 L247.8,824.5 L248.0,825.4 L248.2,826.4 L248.4,827.4 L248.6,828.3 L248.7,829.3 L248.9,830.3 L249.1,831.3 L249.3,832.2 L249.5,833.2 L249.6,834.1 L249.8,835.0 L250.0,835.9 L250.2,836.9 L250.4,837.9 L250.6,838.9 L250.8,839.9 L251.0,840.9 L251.3,841.9 L251.5,842.9 L251.7,843.9 L251.9,844.8 L252.1,845.7 L252.3,846.6 L252.5,847.4 L252.7,848.2 L253.0,849.3 L253.3,850.5 L253.6,851.7 L253.9,852.7 L254.2,853.6 L254.5,854.2 L254.8,854.4 L255.0,854.2 L255.3,853.8 L255.6,853.2 L255.8,852.4 L256.1,851.4 L256.3,850.3 L256.6,849.1 L256.8,847.8 L257.1,846.6 L257.3,845.3 L257.5,844.1 L257.6,843.3 L257.8,842.5 L257.9,841.7 L258.0,840.8 L258.1,839.8 L258.2,838.9 L258.3,837.9 L258.4,836.8 L258.5,835.8 L258.6,834.7 L258.7,833.6 L258.8,832.5 L258.9,831.5 L259.0,830.3 L259.1,829.2 L259.2,828.2 L259.2,827.1 L259.3,826.0 L259.4,824.9 L259.5,823.9 L259.6,822.9 L259.7,821.9 L259.8,820.9 L259.9,820.0 L260.0,819.1 L260.1,818.3 L260.2,817.5 L260.3,816.7 L260.5,815.5 L260.6,814.3 L260.8,813.2 L260.9,812.0 L261.0,811.0 L261.2,810.0 L261.4,809.1 L261.7,808.3 L261.9,807.7 L262.3,807.1 L262.9,806.5 L263.5,806.2 L264.2,806.0 L265.1,805.8 L265.8,805.7 L266.6,805.6 L267.4,805.6 L268.4,805.6 L269.4,805.7 L270.4,805.8 L271.5,805.8 L272.5,805.9 L273.6,806.0 L274.7,806.1 L275.7,806.2 L276.7,806.2" stroke="#ff1f40"/><path d="M46.4,821.4 L47.3,821.4 L48.3,821.4 L49.2,821.4 L50.2,821.4 L51.1,821.5 L52.0,821.5 L53.0,821.5 L53.9,821.5 L54.9,821.5 L55.8,821.5 L56.8,821.5 L57.7,821.6 L58.7,821.6 L59.7,821.6 L60.6,821.7 L61.6,821.7 L62.6,821.7 L63.5,821.8 L64.5,821.8 L65.5,821.9 L66.5,821.9 L67.5,822.0 L68.5,822.0 L69.5,822.1 L70.4,822.1 L71.4,822.2 L72.4,822.2 L73.4,822.2 L74.4,822.3 L75.4,822.3 L76.4,822.4 L77.4,822.4 L78.5,822.4 L79.5,822.5 L80.5,822.5 L81.5,822.6 L82.4,822.6 L83.4,822.7 L84.3,822.8 L85.2,822.9 L86.1,823.0 L87.1,823.2 L88.0,823.4 L88.9,823.6 L89.7,823.8 L90.5,824.1 L91.4,824.3 L92.3,824.5 L93.2,824.7 L94.3,824.9 L95.1,825.0 L95.9,825.1 L96.8,825.2 L97.7,825.2 L98.6,825.3 L99.6,825.3 L100.5,825.4 L101.5,825.4 L102.6,825.5 L103.6,825.5 L104.6,825.5 L105.7,825.5 L106.7,825.6 L107.7,825.6 L108.7,825.6 L109.7,825.6 L110.7,825.5 L111.7,825.5 L112.6,825.5 L113.5,825.5 L114.6,825.5 L115.6,825.4 L116.7,825.4 L117.7,825.4 L118.7,825.3 L119.7,825.3 L120.7,825.2 L121.7,825.1 L122.7,825.1 L123.6,825.0 L124.6,824.8 L125.5,824.7 L126.3,824.6 L127.2,824.4 L128.2,824.2 L129.2,823.9 L130.2,823.6 L131.2,823.2 L132.1,822.9 L133.0,822.6 L133.9,822.2 L134.7,821.9 L135.4,821.6 L136.4,821.1 L137.3,820.6 L138.1,820.2 L139.0,820.0 L139.8,820.2 L140.7,820.6 L141.5,821.1 L142.3,821.6 L143.0,822.1 L143.6,822.6 L144.2,823.2 L145.0,823.6 L145.7,823.9 L146.5,824.2 L147.3,824.4 L148.2,824.6 L149.3,824.7 L150.5,824.9 L151.1,825.0 L151.7,825.0 L152.4,825.1 L153.1,825.2 L153.9,825.3 L154.7,825.3 L155.5,825.4 L156.3,825.4 L157.2,825.5 L158.2,825.6 L159.1,825.6 L160.1,825.7 L161.1,825.7 L162.1,825.8 L163.2,825.8 L164.2,825.8 L165.3,825.9 L166.4,825.9 L167.5,826.0 L168.6,826.0 L169.7,826.0 L170.8,826.1 L172.0,826.1 L173.1,826.1 L174.2,826.1 L175.3,826.2 L176.4,826.2 L177.5,826.2 L178.6,826.2 L179.7,826.2 L180.7,826.3 L181.8,826.3 L182.8,826.3 L183.8,826.3 L184.8,826.3 L185.8,826.3 L186.9,826.3 L187.9,826.3 L189.0,826.3 L190.1,826.3 L191.2,826.3 L192.3,826.3 L193.4,826.3 L194.5,826.3 L195.6,826.3 L196.7,826.3 L197.9,826.3 L199.0,826.2 L200.1,826.2 L201.2,826.2 L202.3,826.2 L203.4,826.2 L204.5,826.1 L205.5,826.1 L206.6,826.1 L207.6,826.0 L208.6,826.0 L209.6,826.0 L210.5,825.9 L211.5,825.9 L212.4,825.9 L213.2,825.8 L214.1,825.8 L214.9,825.7 L215.6,825.7 L216.4,825.6 L217.1,825.6 L217.7,825.5 L218.9,825.4 L220.0,825.3 L221.0,825.2 L221.9,825.0 L222.7,824.9 L223.6,824.7 L224.5,824.4 L225.3,824.0 L226.2,823.6 L227.0,823.0 L227.8,822.5 L228.6,821.9 L229.4,821.5 L230.2,821.1 L231.0,821.0 L231.9,821.0 L232.7,821.2 L233.6,821.5 L234.4,821.9 L235.2,822.4 L236.0,823.0 L236.6,823.5 L237.2,824.2 L237.8,824.9 L238.3,825.6 L238.9,826.4 L239.4,827.3 L239.9,828.2 L240.5,829.1 L241.0,830.1 L241.5,831.0 L242.0,832.0 L242.4,832.8 L242.8,833.6 L243.2,834.4 L243.5,835.3 L243.9,836.2 L244.3,837.1 L244.6,838.0 L245.0,838.9 L245.4,839.8 L245.7,840.8 L246.0,841.7 L246.4,842.6 L246.7,843.5 L247.0,844.4 L247.4,845.3 L247.7,846.2 L248.0,847.0 L248.4,848.0 L248.7,849.0 L249.1,850.0 L249.4,851.0 L249.8,852.0 L250.1,852.9 L250.4,853.9 L250.8,854.8 L251.1,855.7 L251.4,856.5 L251.7,857.3 L252.0,858.0 L252.5,859.1 L252.9,860.2 L253.4,861.2 L253.8,861.9 L254.2,862.2 L254.6,861.9 L254.9,861.2 L255.3,860.2 L255.6,859.1 L256.0,858.0 L256.2,857.3 L256.5,856.5 L256.7,855.6 L257.0,854.8 L257.2,853.8 L257.5,852.9 L257.7,851.9 L258.0,850.9 L258.2,849.9 L258.5,848.9 L258.7,847.8 L258.9,846.8 L259.1,845.9 L259.2,844.9 L259.4,843.9 L259.5,842.9 L259.6,841.8 L259.7,840.7 L259.8,839.6 L259.9,838.5 L260.1,837.4 L260.2,836.4 L260.3,835.3 L260.5,834.4 L260.6,833.4 L260.8,832.5 L261.1,831.7 L261.3,831.0 L261.6,830.4 L262.2,829.4 L262.7,828.6 L263.4,828.0 L264.2,827.4 L265.1,827.0 L265.8,826.8 L266.6,826.6 L267.5,826.6 L268.4,826.5 L269.4,826.5 L270.4,826.6 L271.5,826.7 L272.6,826.8 L273.6,826.9 L274.7,826.9 L275.7,827.0 L276.7,827.0" stroke="#3ee41c"/><path d="M46.4,847.0 L47.4,847.0 L48.3,847.0 L49.3,846.9 L50.3,846.9 L51.3,846.9 L52.2,846.8 L53.2,846.8 L54.2,846.8 L55.2,846.8 L56.2,846.7 L57.1,846.7 L58.1,846.7 L59.1,846.6 L60.1,846.6 L61.1,846.6 L62.0,846.5 L63.0,846.5 L64.0,846.5 L64.9,846.5 L65.9,846.5 L66.8,846.4 L67.8,846.4 L68.7,846.4 L69.6,846.4 L70.6,846.4 L71.5,846.4 L72.4,846.4 L73.4,846.4 L74.5,846.4 L75.5,846.4 L76.5,846.5 L77.5,846.5 L78.5,846.5 L79.4,846.5 L80.4,846.6 L81.4,846.6 L82.4,846.6 L83.3,846.7 L84.3,846.7 L85.3,846.7 L86.2,846.8 L87.2,846.8 L88.2,846.9 L89.1,846.9 L90.1,846.9 L91.0,847.0 L92.0,847.0 L93.0,847.0 L94.0,847.0 L95.0,847.1 L95.9,847.1 L96.9,847.1 L97.9,847.1 L98.9,847.2 L99.9,847.2 L100.8,847.3 L101.8,847.3 L102.8,847.3 L103.8,847.3 L104.8,847.4 L105.7,847.4 L106.7,847.4 L107.7,847.4 L108.7,847.4 L109.6,847.4 L110.6,847.4 L111.6,847.4 L112.5,847.3 L113.5,847.3 L114.5,847.2 L115.5,847.2 L116.5,847.1 L117.5,847.0 L118.5,846.9 L119.5,846.8 L120.5,846.7 L121.5,846.6 L122.5,846.5 L123.5,846.4 L124.5,846.3 L125.5,846.1 L126.4,846.0 L127.4,845.9 L128.3,845.7 L129.2,845.6 L130.1,845.5 L131.0,845.3 L131.9,845.2 L132.7,845.1 L133.8,844.9 L134.9,844.7 L135.9,844.5 L136.9,844.2 L137.9,844.0 L138.8,843.7 L139.8,843.5 L140.7,843.4 L141.5,843.2 L142.4,843.2 L143.2,843.2 L144.2,843.4 L145.0,843.6 L145.8,844.0 L146.6,844.4 L147.5,844.8 L148.7,845.1 L149.3,845.2 L150.0,845.3 L150.7,845.5 L151.5,845.6 L152.3,845.7 L153.2,845.8 L154.1,845.9 L155.0,846.0 L155.9,846.1 L156.9,846.2 L157.9,846.3 L159.0,846.4 L160.0,846.5 L161.1,846.6 L162.2,846.7 L163.2,846.8 L164.3,846.9 L165.4,846.9 L166.6,847.0 L167.7,847.0 L168.8,847.1 L169.8,847.1 L170.9,847.2 L172.0,847.2 L173.1,847.3 L174.1,847.3 L175.1,847.3 L176.1,847.3 L177.1,847.3 L178.1,847.3 L179.1,847.3 L180.1,847.2 L181.1,847.2 L182.1,847.2 L183.1,847.1 L184.1,847.1 L185.1,847.0 L186.1,846.9 L187.1,846.9 L188.1,846.8 L189.1,846.7 L190.1,846.6 L191.1,846.5 L192.1,846.4 L193.1,846.3 L194.1,846.2 L195.1,846.2 L196.0,846.1 L197.0,846.0 L198.0,845.9 L198.9,845.8 L199.8,845.7 L200.8,845.6 L201.7,845.5 L202.6,845.5 L203.5,845.4 L204.5,845.3 L205.6,845.2 L206.6,845.2 L207.7,845.1 L208.7,845.0 L209.8,845.0 L210.8,844.9 L211.8,844.9 L212.8,844.8 L213.8,844.7 L214.8,844.7 L215.8,844.6 L216.7,844.5 L217.7,844.4 L218.6,844.3 L219.4,844.3 L220.3,844.2 L221.1,844.0 L221.9,843.9 L222.7,843.8 L223.8,843.6 L224.8,843.3 L225.7,842.9 L226.6,842.6 L227.4,842.2 L228.3,842.0 L229.1,841.7 L229.9,841.6 L230.8,841.6 L231.7,841.7 L232.5,841.9 L233.3,842.1 L234.2,842.5 L235.0,842.9 L235.8,843.3 L236.6,843.8 L237.4,844.3 L238.2,844.9 L238.9,845.4 L239.6,846.1 L240.2,846.7 L240.9,847.4 L241.6,848.2 L242.2,848.9 L242.9,849.8 L243.5,850.6 L244.1,851.4 L244.7,852.3 L245.3,853.1 L245.9,854.0 L246.4,854.8 L246.9,855.6 L247.4,856.5 L247.9,857.5 L248.4,858.4 L248.9,859.4 L249.3,860.3 L249.7,861.3 L250.2,862.2 L250.6,863.1 L251.0,864.0 L251.4,864.8 L251.7,865.6 L252.1,866.3 L252.7,867.4 L253.2,868.5 L253.7,869.5 L254.1,870.2 L254.6,870.4 L255.0,870.2 L255.4,869.6 L255.7,868.8 L256.1,867.9 L256.4,866.8 L256.8,865.7 L257.1,864.7 L257.3,863.9 L257.6,863.0 L257.8,862.1 L258.0,861.1 L258.2,860.1 L258.3,859.1 L258.5,858.1 L258.7,857.0 L258.9,856.0 L259.1,855.1 L259.3,854.1 L259.5,853.2 L259.7,852.2 L260.0,851.1 L260.2,850.0 L260.4,848.9 L260.6,847.9 L260.9,847.0 L261.2,846.1 L261.5,845.4 L262.0,844.9 L262.7,844.5 L263.4,844.3 L264.2,844.2 L265.1,844.2 L266.1,844.1 L266.9,844.0 L267.7,844.0 L268.7,844.0 L269.6,844.0 L270.6,844.0 L271.6,844.0 L272.7,844.0 L273.7,844.1 L274.8,844.1 L275.8,844.1 L276.8,844.1" stroke="#2a3af2"/><path d="M46.4,880.1 L47.4,880.1 L48.3,880.0 L49.3,880.0 L50.3,880.0 L51.3,879.9 L52.3,879.9 L53.3,879.8 L54.4,879.8 L55.4,879.8 L56.4,879.7 L57.4,879.7 L58.4,879.6 L59.4,879.6 L60.4,879.5 L61.4,879.5 L62.4,879.5 L63.4,879.4 L64.3,879.4 L65.3,879.4 L66.2,879.4 L67.2,879.3 L68.1,879.3 L69.0,879.3 L69.9,879.3 L70.7,879.3 L71.6,879.3 L72.4,879.3 L73.5,879.3 L74.6,879.3 L75.7,879.3 L76.8,879.3 L77.8,879.4 L78.8,879.4 L79.8,879.4 L80.8,879.5 L81.8,879.5 L82.7,879.6 L83.6,879.7 L84.4,879.8 L85.3,879.9 L86.1,880.1 L87.1,880.4 L88.1,880.7 L89.0,881.1 L89.9,881.4 L90.8,881.8 L91.6,882.2 L92.3,882.6 L93.0,882.9 L94.0,883.4 L94.8,883.9 L95.7,884.2 L96.4,884.1 L97.1,883.9 L97.9,883.5 L98.7,883.2 L99.8,882.9 L100.4,882.8 L101.2,882.8 L102.0,882.8 L102.9,882.8 L103.8,882.8 L104.8,882.9 L105.8,882.9 L106.9,883.0 L108.0,883.1 L109.2,883.1 L110.3,883.2 L111.5,883.3 L112.6,883.4 L113.8,883.4 L114.9,883.5 L116.0,883.6 L117.1,883.6 L118.1,883.6 L119.1,883.6 L120.0,883.6 L120.9,883.5 L121.7,883.4 L122.8,883.2 L123.9,883.1 L124.9,882.9 L125.9,882.7 L126.8,882.5 L127.7,882.2 L128.5,881.8 L129.3,881.3 L130.0,880.7 L130.6,880.1 L131.1,879.5 L131.6,878.8 L132.0,878.0 L132.4,877.1 L132.8,876.2 L133.2,875.3 L133.5,874.4 L133.9,873.4 L134.2,872.4 L134.5,871.4 L134.8,870.4 L135.1,869.4 L135.4,868.4 L135.7,867.5 L135.9,866.5 L136.2,865.5 L136.4,864.5 L136.6,863.4 L136.8,862.4 L137.0,861.3 L137.1,860.2 L137.3,859.1 L137.5,858.1 L137.6,857.1 L137.8,856.1 L138.0,855.1 L138.2,854.2 L138.3,853.4 L138.5,852.6 L138.7,851.9 L139.1,850.6 L139.4,849.4 L139.8,848.3 L140.1,847.6 L140.5,847.3 L140.8,847.5 L141.1,848.0 L141.4,848.7 L141.7,849.7 L142.0,850.8 L142.3,851.9 L142.6,853.2 L142.9,854.4 L143.2,855.5 L143.4,856.3 L143.6,857.1 L143.8,858.0 L144.0,859.0 L144.2,859.9 L144.4,860.9 L144.6,861.9 L144.8,863.0 L145.0,864.0 L145.3,865.0 L145.5,866.0 L145.7,867.0 L145.9,867.9 L146.2,868.9 L146.4,869.7 L146.7,870.6 L147.0,871.3 L147.3,872.0 L147.8,873.0 L148.3,874.0 L148.8,874.8 L149.3,875.6 L149.9,876.3 L150.6,876.9 L151.4,877.5 L152.1,877.9 L152.8,878.2 L153.6,878.5 L154.4,878.7 L155.3,878.9 L156.2,879.0 L157.1,879.1 L158.1,879.3 L159.1,879.4 L160.2,879.5 L161.3,879.6 L162.4,879.7 L163.2,879.8 L164.0,879.9 L164.8,879.9 L165.7,880.0 L166.5,880.1 L167.4,880.1 L168.4,880.2 L169.3,880.2 L170.3,880.3 L171.3,880.3 L172.3,880.4 L173.3,880.4 L174.3,880.4 L175.3,880.4 L176.4,880.5 L177.4,880.5 L178.5,880.5 L179.5,880.5 L180.6,880.6 L181.6,880.6 L182.7,880.6 L183.7,880.6 L184.7,880.7 L185.8,880.7 L186.8,880.7 L187.8,880.7 L188.8,880.8 L189.8,880.8 L190.8,880.8 L191.8,880.9 L192.8,880.9 L193.9,881.0 L195.0,881.0 L196.1,881.1 L197.1,881.1 L198.2,881.2 L199.3,881.3 L200.4,881.3 L201.6,881.4 L202.6,881.4 L203.7,881.5 L204.8,881.6 L205.9,881.6 L206.9,881.6 L208.0,881.7 L209.0,881.7 L210.0,881.7 L210.9,881.8 L211.8,881.8 L212.7,881.8 L213.6,881.8 L214.4,881.8 L215.2,881.7 L215.9,881.7 L216.6,881.7 L217.2,881.6 L218.4,881.5 L219.3,881.3 L220.2,881.1 L221.0,880.9 L221.8,880.6 L222.7,880.2 L223.4,879.8 L224.1,879.1 L224.9,878.4 L225.6,877.6 L226.4,876.9 L227.1,876.1 L227.8,875.4 L228.6,874.9 L229.3,874.5 L230.0,874.4 L230.7,874.5 L231.5,874.8 L232.2,875.2 L233.0,875.8 L233.7,876.5 L234.4,877.2 L235.1,878.0 L235.8,878.8 L236.5,879.5 L237.1,880.2 L237.7,880.9 L238.3,881.6 L238.9,882.4 L239.4,883.2 L240.0,884.0 L240.6,884.9 L241.1,885.7 L241.6,886.6 L242.1,887.5 L242.6,888.4 L243.1,889.3 L243.5,890.1 L243.9,890.9 L244.3,891.7 L244.6,892.6 L245.0,893.4 L245.3,894.3 L245.6,895.2 L245.9,896.1 L246.2,897.0 L246.5,897.9 L246.8,898.8 L247.1,899.7 L247.4,900.6 L247.7,901.6 L248.0,902.5 L248.3,903.4 L248.5,904.4 L248.8,905.4 L249.1,906.4 L249.3,907.4 L249.6,908.4 L249.8,909.4 L250.1,910.5 L250.3,911.5 L250.5,912.5 L250.8,913.5 L251.0,914.5 L251.2,915.4 L251.5,916.4 L251.7,917.3 L251.9,918.1 L252.1,918.9 L252.4,920.1 L252.7,921.3 L253.0,922.5 L253.3,923.7 L253.5,924.8 L253.8,925.6 L254.0,926.1 L254.3,926.3 L254.5,926.1 L254.7,925.7 L254.9,925.1 L255.1,924.2 L255.3,923.2 L255.5,922.1 L255.7,920.9 L255.8,919.7 L256.0,918.5 L256.2,917.3 L256.3,916.5 L256.4,915.7 L256.5,914.8 L256.6,913.9 L256.7,913.0 L256.8,912.0 L256.9,910.9 L257.0,909.9 L257.1,908.8 L257.2,907.7 L257.3,906.6 L257.3,905.5 L257.4,904.4 L257.5,903.3 L257.6,902.2 L257.7,901.1 L257.8,900.1 L257.9,899.0 L258.0,898.0 L258.1,897.0 L258.2,896.0 L258.3,895.1 L258.4,894.2 L258.6,893.4 L258.7,892.6 L258.9,891.4 L259.1,890.3 L259.3,889.1 L259.5,888.0 L259.7,887.0 L259.9,886.0 L260.1,885.1 L260.4,884.3 L260.8,883.6 L261.2,883.1 L261.9,882.5 L262.6,882.2 L263.5,882.1 L264.5,881.9 L265.1,881.8 L265.9,881.8 L266.6,881.8 L267.5,881.8 L268.4,881.8 L269.3,881.8 L270.3,881.9 L271.3,882.0 L272.4,882.1 L273.4,882.2 L274.5,882.2 L275.6,882.3 L276.7,882.4 L277.8,882.5 L278.9,882.6 L280.0,882.6 L280.9,882.6 L281.8,882.7 L282.7,882.7 L283.7,882.7 L284.6,882.7 L285.6,882.7 L286.6,882.7 L287.6,882.8 L288.7,882.8 L289.7,882.8 L290.7,882.8 L291.7,882.8 L292.8,882.8 L293.8,882.8 L294.8,882.9 L295.8,882.9 L296.8,882.9 L297.8,883.0 L298.8,883.0 L299.7,883.0 L300.6,883.1 L301.6,883.2 L302.4,883.2 L303.3,883.3 L304.3,883.4 L305.4,883.6 L306.4,883.7 L307.4,883.9 L308.3,884.1 L309.3,884.3 L310.2,884.5 L311.2,884.7 L312.1,884.9 L313.0,885.1 L313.9,885.2 L314.7,885.4 L315.6,885.5 L316.5,885.6 L317.3,885.6 L318.3,885.6 L319.3,885.6 L320.2,885.5 L321.2,885.4 L322.1,885.3 L323.0,885.1 L323.9,885.0 L324.8,884.8 L325.7,884.6 L326.6,884.5 L327.5,884.3 L328.4,884.2 L329.2,884.0 L330.1,883.8 L330.9,883.6 L331.8,883.4 L332.7,883.2 L333.7,883.1 L334.8,882.9 L335.9,882.8 L336.7,882.7 L337.4,882.7 L338.3,882.7 L339.1,882.6 L340.0,882.6 L340.9,882.6 L341.9,882.6 L342.8,882.6 L343.8,882.7 L344.8,882.7 L345.8,882.7 L346.9,882.7 L347.9,882.8 L349.0,882.8 L350.0,882.8 L351.1,882.9 L352.2,882.9 L353.2,883.0 L354.3,883.0 L355.4,883.1 L356.5,883.1 L357.5,883.1 L358.6,883.2 L359.6,883.2 L360.7,883.3 L361.7,883.3 L362.7,883.3" stroke="#1a1a1a"/><path d="M46.4,887.5 L47.4,887.6 L48.3,887.6 L49.3,887.6 L50.3,887.7 L51.3,887.7 L52.3,887.8 L53.3,887.8 L54.3,887.9 L55.3,887.9 L56.3,888.0 L57.3,888.0 L58.3,888.1 L59.3,888.1 L60.3,888.2 L61.3,888.2 L62.2,888.3 L63.2,888.3 L64.2,888.4 L65.1,888.4 L66.1,888.5 L67.0,888.5 L68.0,888.6 L68.9,888.6 L69.8,888.7 L70.7,888.8 L71.5,888.8 L72.4,888.9 L73.5,889.0 L74.6,889.1 L75.6,889.1 L76.7,889.2 L77.8,889.3 L78.8,889.4 L79.9,889.4 L80.9,889.5 L81.9,889.6 L82.9,889.7 L83.8,889.8 L84.8,890.0 L85.7,890.1 L86.5,890.2 L87.3,890.4 L88.1,890.6 L88.8,890.8 L89.8,891.2 L90.6,891.7 L91.4,892.2 L92.1,892.8 L92.8,893.2 L93.5,893.6 L94.3,893.8 L95.2,893.8 L96.0,893.6 L96.8,893.3 L97.7,893.0 L98.7,892.7 L99.8,892.5 L100.5,892.5 L101.3,892.4 L102.1,892.5 L103.0,892.5 L104.0,892.6 L105.0,892.6 L106.1,892.7 L107.1,892.8 L108.2,892.9 L109.4,893.1 L110.5,893.2 L111.6,893.3 L112.8,893.4 L113.9,893.5 L115.0,893.6 L116.1,893.7 L117.2,893.7 L118.2,893.7 L119.1,893.8 L120.1,893.7 L120.9,893.7 L121.7,893.6 L122.8,893.4 L123.9,893.3 L124.9,893.1 L125.9,892.9 L126.8,892.6 L127.6,892.3 L128.5,891.9 L129.3,891.4 L130.0,890.8 L130.6,890.2 L131.1,889.5 L131.7,888.7 L132.1,887.9 L132.6,887.0 L133.0,886.0 L133.4,885.0 L133.8,884.0 L134.2,883.0 L134.5,882.1 L134.8,881.1 L135.1,880.2 L135.4,879.3 L135.7,878.3 L136.0,877.3 L136.2,876.3 L136.3,875.4 L136.5,874.4 L136.6,873.4 L136.8,872.5 L137.0,871.5 L137.2,870.6 L137.4,869.6 L137.7,868.4 L137.9,867.2 L138.2,866.0 L138.5,864.8 L138.7,863.8 L139.0,863.0 L139.3,862.5 L139.6,862.3 L139.9,862.5 L140.2,863.0 L140.6,863.7 L140.9,864.7 L141.3,865.8 L141.6,867.1 L142.0,868.3 L142.3,869.5 L142.7,870.6 L143.0,871.4 L143.2,872.3 L143.5,873.2 L143.8,874.2 L144.0,875.2 L144.3,876.2 L144.5,877.2 L144.8,878.2 L145.1,879.2 L145.4,880.2 L145.7,881.1 L146.1,882.0 L146.4,882.8 L146.9,883.6 L147.3,884.3 L147.9,885.1 L148.5,885.9 L149.2,886.6 L149.9,887.2 L150.6,887.8 L151.4,888.4 L152.2,888.9 L153.2,889.4 L154.2,889.8 L154.9,890.1 L155.6,890.3 L156.3,890.5 L157.1,890.7 L157.9,890.8 L158.8,891.0 L159.7,891.1 L160.5,891.2 L161.5,891.3 L162.4,891.4 L163.4,891.4 L164.4,891.5 L165.4,891.5 L166.4,891.6 L167.4,891.6 L168.5,891.7 L169.6,891.7 L170.6,891.7 L171.7,891.8 L172.8,891.8 L173.9,891.9 L175.0,891.9 L176.1,892.0 L176.9,892.1 L177.8,892.1 L178.7,892.2 L179.7,892.2 L180.6,892.3 L181.6,892.4 L182.6,892.4 L183.6,892.5 L184.7,892.6 L185.8,892.7 L186.8,892.7 L187.9,892.8 L189.0,892.9 L190.1,893.0 L191.3,893.0 L192.4,893.1 L193.5,893.2 L194.6,893.2 L195.8,893.3 L196.9,893.3 L198.0,893.4 L199.1,893.5 L200.3,893.5 L201.4,893.6 L202.4,893.6 L203.5,893.6 L204.6,893.7 L205.6,893.7 L206.6,893.7 L207.6,893.7 L208.6,893.8 L209.6,893.8 L210.5,893.8 L211.4,893.7 L212.2,893.7 L213.1,893.7 L213.8,893.7 L214.6,893.6 L215.3,893.6 L216.0,893.5 L216.6,893.5 L217.2,893.4 L218.3,893.2 L219.3,893.0 L220.2,892.8 L221.0,892.5 L221.8,892.2 L222.5,891.9 L223.2,891.6 L224.0,891.2 L224.8,890.7 L225.6,890.1 L226.3,889.5 L227.1,888.8 L227.8,888.1 L228.5,887.6 L229.3,887.3 L230.0,887.2 L230.7,887.3 L231.5,887.7 L232.2,888.2 L232.9,888.8 L233.7,889.5 L234.4,890.2 L235.1,891.0 L235.8,891.8 L236.5,892.6 L237.1,893.3 L237.7,894.0 L238.3,894.7 L238.9,895.5 L239.4,896.3 L240.0,897.1 L240.5,897.9 L241.1,898.8 L241.6,899.7 L242.1,900.6 L242.6,901.5 L243.1,902.5 L243.5,903.3 L243.9,904.1 L244.2,905.0 L244.6,905.8 L244.9,906.7 L245.3,907.7 L245.6,908.6 L245.9,909.5 L246.2,910.5 L246.5,911.5 L246.9,912.4 L247.1,913.4 L247.4,914.3 L247.7,915.3 L248.0,916.2 L248.3,917.1 L248.5,918.0 L248.8,918.9 L249.1,919.9 L249.4,920.9 L249.6,921.9 L249.9,923.0 L250.1,924.0 L250.4,925.0 L250.6,926.0 L250.8,927.0 L251.0,927.9 L251.3,928.8 L251.5,929.7 L251.7,930.6 L251.9,931.4 L252.1,932.1 L252.4,933.2 L252.7,934.3 L253.0,935.3 L253.2,936.2 L253.5,936.8 L253.8,937.0 L254.1,936.8 L254.3,936.4 L254.6,935.6 L254.9,934.7 L255.2,933.6 L255.4,932.5 L255.7,931.2 L256.0,930.0 L256.2,928.8 L256.3,928.1 L256.5,927.3 L256.6,926.4 L256.7,925.5 L256.8,924.6 L257.0,923.6 L257.1,922.6 L257.2,921.6 L257.3,920.6 L257.4,919.5 L257.5,918.5 L257.6,917.4 L257.7,916.3 L257.7,915.2 L257.8,914.2 L257.9,913.1 L258.0,912.1 L258.1,911.1 L258.2,910.1 L258.3,909.2 L258.4,908.3 L258.5,907.4 L258.6,906.6 L258.7,905.8 L258.8,904.7 L258.9,903.6 L259.0,902.5 L259.1,901.5 L259.2,900.6 L259.3,899.7 L259.5,898.8 L259.7,898.0 L259.9,897.3 L260.3,896.7 L260.9,896.0 L261.6,895.4 L262.5,894.9 L263.4,894.6 L264.5,894.3 L265.2,894.2 L265.9,894.1 L266.7,894.1 L267.6,894.1 L268.5,894.1 L269.4,894.2 L270.4,894.3 L271.4,894.4 L272.5,894.5 L273.5,894.7 L274.6,894.8 L275.7,894.9 L276.8,895.1 L277.8,895.2 L278.9,895.3 L280.0,895.4 L280.9,895.5 L281.8,895.5 L282.7,895.6 L283.7,895.7 L284.7,895.7 L285.7,895.8 L286.7,895.9 L287.7,896.0 L288.7,896.0 L289.7,896.1 L290.8,896.2 L291.8,896.3 L292.8,896.4 L293.8,896.4 L294.9,896.5 L295.9,896.6 L296.9,896.7 L297.9,896.8 L298.8,896.9 L299.8,896.9 L300.7,897.0 L301.6,897.1 L302.5,897.2 L303.3,897.3 L304.4,897.4 L305.5,897.6 L306.5,897.8 L307.6,897.9 L308.6,898.1 L309.5,898.3 L310.5,898.5 L311.4,898.6 L312.4,898.8 L313.3,898.9 L314.2,899.0 L315.2,899.1 L316.1,899.1 L317.1,899.1 L318.1,899.0 L319.1,898.9 L320.0,898.8 L321.0,898.6 L321.9,898.5 L322.9,898.3 L323.8,898.1 L324.7,898.0 L325.7,897.8 L326.6,897.7 L327.5,897.6 L328.4,897.5 L329.3,897.4 L330.1,897.3 L331.0,897.2 L331.9,897.1 L332.8,897.0 L333.7,896.9 L334.8,896.8 L335.9,896.8 L336.7,896.8 L337.4,896.8 L338.3,896.8 L339.1,896.8 L340.0,896.8 L340.9,896.8 L341.9,896.9 L342.8,896.9 L343.8,896.9 L344.8,897.0 L345.8,897.0 L346.9,897.1 L347.9,897.2 L349.0,897.2 L350.0,897.3 L351.1,897.3 L352.2,897.4 L353.3,897.5 L354.3,897.5 L355.4,897.6 L356.5,897.7 L357.5,897.7 L358.6,897.8 L359.6,897.8 L360.7,897.9 L361.7,898.0 L362.7,898.0" stroke="#ff1f40"/><path d="M46.4,910.0 L47.4,910.0 L48.3,910.0 L49.3,910.0 L50.3,910.0 L51.3,910.0 L52.3,910.0 L53.3,910.0 L54.3,910.0 L55.3,910.0 L56.3,910.0 L57.3,910.0 L58.3,910.1 L59.3,910.1 L60.3,910.1 L61.3,910.1 L62.2,910.1 L63.2,910.1 L64.2,910.1 L65.1,910.1 L66.1,910.1 L67.0,910.1 L68.0,910.2 L68.9,910.2 L69.8,910.2 L70.7,910.2 L71.5,910.3 L72.4,910.3 L73.5,910.3 L74.6,910.4 L75.6,910.4 L76.7,910.4 L77.8,910.5 L78.8,910.5 L79.8,910.5 L80.9,910.6 L81.9,910.6 L82.8,910.7 L83.8,910.8 L84.7,910.9 L85.6,911.0 L86.5,911.1 L87.3,911.2 L88.1,911.4 L88.8,911.6 L89.9,912.0 L90.8,912.5 L91.7,913.1 L92.5,913.7 L93.3,914.3 L94.1,914.7 L94.9,914.9 L95.7,914.9 L96.4,914.8 L97.1,914.5 L97.9,914.3 L98.8,914.0 L99.8,913.8 L100.5,913.7 L101.2,913.7 L102.1,913.7 L102.9,913.7 L103.9,913.7 L104.9,913.7 L105.9,913.8 L107.0,913.8 L108.1,913.9 L109.2,913.9 L110.4,913.9 L111.5,914.0 L112.6,914.0 L113.8,914.1 L114.9,914.1 L116.0,914.1 L117.0,914.0 L118.1,914.0 L119.1,913.9 L120.0,913.9 L120.9,913.7 L121.7,913.6 L122.8,913.4 L123.8,913.2 L124.8,912.9 L125.7,912.7 L126.6,912.4 L127.5,912.1 L128.3,911.7 L129.1,911.3 L129.9,910.8 L130.6,910.2 L131.3,909.5 L131.8,908.9 L132.3,908.2 L132.7,907.4 L133.1,906.6 L133.5,905.7 L133.8,904.7 L134.2,903.7 L134.5,902.7 L134.8,901.7 L135.0,900.6 L135.3,899.6 L135.5,898.5 L135.7,897.5 L136.0,896.5 L136.2,895.6 L136.4,894.7 L136.6,893.8 L136.8,893.0 L137.1,892.0 L137.3,891.0 L137.4,890.0 L137.6,889.0 L137.7,888.1 L137.9,887.3 L138.1,886.5 L138.3,885.7 L138.5,885.0 L138.9,883.9 L139.4,882.9 L139.9,882.1 L140.4,881.8 L140.7,882.0 L140.9,882.4 L141.1,883.0 L141.3,883.8 L141.6,884.7 L141.8,885.8 L142.0,886.9 L142.2,888.1 L142.5,889.3 L142.7,890.4 L142.9,891.5 L143.2,892.5 L143.4,893.4 L143.7,894.3 L143.9,895.3 L144.1,896.2 L144.3,897.2 L144.5,898.3 L144.7,899.3 L145.0,900.3 L145.2,901.2 L145.5,902.2 L145.8,903.1 L146.1,904.0 L146.5,904.8 L146.9,905.5 L147.3,906.2 L147.9,907.0 L148.5,907.7 L149.2,908.3 L149.9,908.9 L150.6,909.5 L151.4,910.0 L152.3,910.4 L153.2,910.8 L154.2,911.2 L154.9,911.4 L155.7,911.6 L156.5,911.8 L157.3,911.9 L158.1,912.0 L159.0,912.1 L159.9,912.2 L160.9,912.3 L161.9,912.3 L162.9,912.3 L163.9,912.3 L164.9,912.3 L166.0,912.3 L167.1,912.3 L168.2,912.3 L169.3,912.3 L170.4,912.3 L171.5,912.3 L172.7,912.3 L173.8,912.3 L174.9,912.3 L176.1,912.3 L176.9,912.3 L177.8,912.3 L178.7,912.4 L179.7,912.4 L180.6,912.4 L181.6,912.5 L182.6,912.5 L183.6,912.6 L184.7,912.6 L185.8,912.7 L186.8,912.7 L187.9,912.7 L189.0,912.8 L190.2,912.8 L191.3,912.9 L192.4,912.9 L193.5,913.0 L194.7,913.0 L195.8,913.0 L196.9,913.1 L198.1,913.1 L199.2,913.1 L200.3,913.1 L201.4,913.1 L202.5,913.2 L203.5,913.2 L204.6,913.2 L205.6,913.2 L206.7,913.2 L207.7,913.1 L208.6,913.1 L209.6,913.1 L210.5,913.0 L211.4,913.0 L212.2,912.9 L213.1,912.9 L213.9,912.8 L214.6,912.7 L215.3,912.6 L216.0,912.5 L216.6,912.4 L217.2,912.3 L218.4,912.0 L219.4,911.6 L220.2,911.2 L221.0,910.8 L221.8,910.4 L222.5,909.9 L223.2,909.5 L224.0,909.0 L224.8,908.5 L225.7,907.9 L226.5,907.2 L227.3,906.5 L228.1,905.9 L228.9,905.4 L229.7,905.1 L230.5,905.0 L231.3,905.1 L232.0,905.4 L232.8,905.8 L233.6,906.3 L234.3,906.9 L235.1,907.6 L235.8,908.3 L236.5,909.0 L237.1,909.6 L237.7,910.3 L238.3,911.0 L238.8,911.8 L239.4,912.6 L240.0,913.4 L240.5,914.3 L241.1,915.2 L241.6,916.1 L242.1,917.0 L242.6,918.0 L243.1,918.9 L243.5,919.7 L243.9,920.6 L244.3,921.5 L244.7,922.4 L245.1,923.3 L245.5,924.3 L245.8,925.2 L246.2,926.2 L246.6,927.1 L246.9,928.1 L247.2,929.1 L247.6,930.0 L247.9,931.0 L248.2,931.9 L248.5,932.8 L248.8,933.7 L249.1,934.7 L249.4,935.7 L249.7,936.8 L250.0,937.8 L250.3,938.8 L250.5,939.8 L250.8,940.8 L251.1,941.8 L251.3,942.7 L251.6,943.6 L251.8,944.4 L252.1,945.2 L252.5,946.3 L252.9,947.4 L253.2,948.4 L253.6,949.3 L254.0,949.9 L254.3,950.1 L254.6,949.9 L254.8,949.4 L255.0,948.7 L255.2,947.7 L255.4,946.7 L255.6,945.5 L255.8,944.3 L256.0,943.1 L256.2,941.9 L256.3,941.1 L256.5,940.2 L256.6,939.3 L256.7,938.4 L256.8,937.4 L256.9,936.4 L257.1,935.3 L257.2,934.3 L257.3,933.2 L257.4,932.1 L257.5,931.0 L257.6,929.9 L257.7,928.9 L257.9,927.8 L258.0,926.8 L258.1,925.8 L258.3,924.8 L258.4,923.9 L258.5,923.0 L258.7,922.2 L258.9,921.1 L259.1,920.0 L259.3,919.0 L259.5,918.0 L259.7,917.0 L259.9,916.1 L260.2,915.2 L260.5,914.4 L260.8,913.8 L261.2,913.2 L261.9,912.5 L262.6,912.1 L263.4,911.8 L264.5,911.5 L265.1,911.4 L265.9,911.3 L266.6,911.2 L267.5,911.1 L268.4,911.1 L269.3,911.0 L270.3,911.0 L271.3,911.0 L272.4,911.0 L273.4,911.0 L274.5,911.1 L275.6,911.1 L276.7,911.1 L277.8,911.2 L278.9,911.2 L280.0,911.2 L280.9,911.2 L281.8,911.2 L282.7,911.3 L283.7,911.3 L284.6,911.3 L285.6,911.3 L286.6,911.4 L287.6,911.4 L288.6,911.5 L289.6,911.5 L290.7,911.6 L291.7,911.6 L292.7,911.7 L293.7,911.7 L294.7,911.8 L295.7,911.8 L296.7,911.9 L297.7,912.0 L298.7,912.0 L299.7,912.1 L300.6,912.2 L301.5,912.2 L302.4,912.3 L303.3,912.4 L304.3,912.5 L305.4,912.6 L306.4,912.8 L307.4,912.9 L308.4,913.1 L309.4,913.2 L310.4,913.4 L311.3,913.6 L312.3,913.7 L313.2,913.8 L314.1,914.0 L315.0,914.1 L315.9,914.2 L316.8,914.3 L317.6,914.3 L318.4,914.3 L319.4,914.3 L320.4,914.2 L321.3,914.1 L322.2,913.9 L323.1,913.8 L323.9,913.6 L324.8,913.4 L325.7,913.3 L326.6,913.1 L327.5,912.9 L328.3,912.7 L329.2,912.5 L330.0,912.3 L330.9,912.1 L331.8,911.9 L332.7,911.7 L333.7,911.5 L334.8,911.3 L335.9,911.2 L336.7,911.1 L337.4,911.1 L338.3,911.0 L339.1,911.0 L340.0,910.9 L340.9,910.9 L341.9,910.8 L342.8,910.8 L343.8,910.8 L344.8,910.8 L345.8,910.8 L346.9,910.8 L347.9,910.8 L349.0,910.8 L350.0,910.8 L351.1,910.8 L352.2,910.8 L353.2,910.8 L354.3,910.8 L355.4,910.8 L356.5,910.8 L357.5,910.8 L358.6,910.8 L359.6,910.8 L360.7,910.8 L361.7,910.8 L362.7,910.8" stroke="#3ee41c"/><path d="M46.4,925.3 L47.4,925.2 L48.3,925.2 L49.3,925.1 L50.3,925.1 L51.3,925.0 L52.3,924.9 L53.3,924.9 L54.3,924.8 L55.3,924.7 L56.3,924.7 L57.3,924.6 L58.3,924.5 L59.3,924.5 L60.3,924.4 L61.3,924.4 L62.2,924.3 L63.2,924.2 L64.2,924.2 L65.1,924.1 L66.1,924.1 L67.0,924.1 L68.0,924.0 L68.9,924.0 L69.8,924.0 L70.7,924.0 L71.5,924.0 L72.4,924.0 L73.5,924.0 L74.6,924.0 L75.6,924.1 L76.7,924.1 L77.8,924.1 L78.8,924.2 L79.8,924.2 L80.9,924.3 L81.9,924.4 L82.8,924.4 L83.8,924.5 L84.7,924.6 L85.6,924.7 L86.5,924.8 L87.3,925.0 L88.1,925.1 L88.8,925.3 L89.9,925.6 L90.8,926.0 L91.7,926.5 L92.5,927.0 L93.3,927.4 L94.1,927.7 L94.9,927.8 L95.7,927.8 L96.4,927.6 L97.1,927.3 L97.9,926.9 L98.8,926.6 L99.8,926.4 L100.5,926.3 L101.2,926.3 L102.1,926.2 L103.0,926.2 L103.9,926.2 L104.9,926.3 L105.9,926.3 L107.0,926.3 L108.1,926.4 L109.2,926.4 L110.4,926.5 L111.5,926.5 L112.7,926.5 L113.8,926.6 L114.9,926.6 L116.0,926.6 L117.1,926.5 L118.1,926.5 L119.1,926.4 L120.0,926.3 L120.9,926.1 L121.7,925.9 L122.7,925.6 L123.6,925.3 L124.6,925.0 L125.5,924.6 L126.3,924.3 L127.1,923.8 L127.9,923.4 L128.7,922.9 L129.4,922.4 L130.0,921.8 L130.7,921.1 L131.3,920.4 L131.8,919.7 L132.2,919.0 L132.6,918.2 L132.9,917.4 L133.2,916.5 L133.5,915.6 L133.8,914.6 L134.0,913.6 L134.3,912.6 L134.5,911.6 L134.7,910.6 L134.9,909.6 L135.1,908.6 L135.3,907.6 L135.5,906.6 L135.7,905.7 L136.0,904.8 L136.2,904.0 L136.5,902.9 L136.9,901.7 L137.2,900.5 L137.5,899.3 L137.8,898.1 L138.1,896.9 L138.5,895.9 L138.8,895.1 L139.1,894.4 L139.4,894.0 L139.7,893.8 L140.0,894.0 L140.3,894.4 L140.7,895.1 L141.0,896.0 L141.3,897.0 L141.6,898.1 L141.9,899.3 L142.3,900.4 L142.6,901.5 L142.8,902.3 L143.1,903.2 L143.3,904.1 L143.5,905.0 L143.8,906.0 L144.0,907.0 L144.2,908.1 L144.4,909.1 L144.7,910.2 L144.9,911.2 L145.2,912.2 L145.5,913.2 L145.8,914.1 L146.1,915.0 L146.5,915.8 L146.9,916.5 L147.3,917.2 L147.9,918.0 L148.5,918.7 L149.2,919.3 L149.9,919.9 L150.6,920.4 L151.4,920.9 L152.3,921.3 L153.2,921.7 L154.2,922.1 L154.9,922.3 L155.7,922.5 L156.5,922.7 L157.3,922.8 L158.1,923.0 L159.0,923.0 L159.9,923.1 L160.9,923.2 L161.9,923.2 L162.9,923.3 L163.9,923.3 L164.9,923.3 L166.0,923.3 L167.1,923.3 L168.2,923.3 L169.3,923.2 L170.4,923.2 L171.5,923.2 L172.7,923.2 L173.8,923.2 L174.9,923.2 L176.1,923.2 L176.9,923.2 L177.8,923.2 L178.7,923.2 L179.7,923.3 L180.6,923.3 L181.6,923.3 L182.6,923.3 L183.6,923.3 L184.7,923.3 L185.8,923.4 L186.8,923.4 L187.9,923.4 L189.0,923.4 L190.2,923.4 L191.3,923.4 L192.4,923.4 L193.5,923.4 L194.7,923.5 L195.8,923.5 L196.9,923.5 L198.1,923.5 L199.2,923.4 L200.3,923.4 L201.4,923.4 L202.5,923.4 L203.5,923.4 L204.6,923.3 L205.6,923.3 L206.7,923.3 L207.7,923.2 L208.6,923.2 L209.6,923.1 L210.5,923.0 L211.4,923.0 L212.2,922.9 L213.1,922.8 L213.9,922.7 L214.6,922.6 L215.3,922.5 L216.0,922.4 L216.6,922.2 L217.2,922.1 L218.4,921.8 L219.4,921.4 L220.3,920.9 L221.1,920.5 L221.8,920.0 L222.5,919.5 L223.2,919.1 L224.0,918.6 L224.8,918.0 L225.7,917.4 L226.5,916.7 L227.3,916.0 L228.0,915.4 L228.9,915.1 L229.7,914.9 L230.5,915.0 L231.4,915.2 L232.3,915.6 L233.2,916.1 L234.0,916.7 L234.9,917.4 L235.7,918.1 L236.5,918.9 L237.1,919.5 L237.6,920.2 L238.1,920.9 L238.6,921.6 L239.1,922.4 L239.6,923.2 L240.0,924.1 L240.5,925.0 L240.9,925.9 L241.4,926.8 L241.8,927.7 L242.2,928.6 L242.7,929.5 L243.1,930.4 L243.5,931.3 L243.9,932.2 L244.3,933.1 L244.7,934.0 L245.1,934.9 L245.4,935.9 L245.8,936.9 L246.2,937.8 L246.5,938.8 L246.9,939.8 L247.2,940.7 L247.5,941.6 L247.9,942.6 L248.2,943.5 L248.5,944.3 L248.8,945.2 L249.1,946.2 L249.5,947.2 L249.8,948.1 L250.1,949.1 L250.4,950.0 L250.7,950.9 L251.0,951.8 L251.3,952.6 L251.6,953.5 L251.8,954.3 L252.1,955.1 L252.4,956.3 L252.7,957.5 L253.0,958.8 L253.2,959.8 L253.5,960.5 L253.8,960.8 L254.1,960.6 L254.4,960.1 L254.7,959.3 L255.0,958.3 L255.3,957.1 L255.6,955.9 L255.9,954.6 L256.2,953.4 L256.4,952.7 L256.5,951.9 L256.6,951.0 L256.8,950.1 L256.9,949.2 L257.0,948.2 L257.1,947.2 L257.2,946.2 L257.3,945.1 L257.4,944.1 L257.5,943.0 L257.6,941.9 L257.7,940.8 L257.8,939.8 L257.9,938.7 L258.0,937.7 L258.1,936.7 L258.2,935.7 L258.3,934.7 L258.4,933.8 L258.6,932.9 L258.7,932.1 L258.9,930.9 L259.1,929.8 L259.2,928.6 L259.4,927.4 L259.5,926.3 L259.7,925.2 L259.9,924.3 L260.2,923.4 L260.5,922.6 L260.8,921.9 L261.2,921.4 L261.9,920.9 L262.6,920.7 L263.5,920.7 L264.5,920.6 L265.1,920.5 L265.9,920.5 L266.6,920.4 L267.5,920.4 L268.4,920.4 L269.3,920.4 L270.3,920.4 L271.3,920.4 L272.4,920.4 L273.5,920.4 L274.5,920.4 L275.6,920.4 L276.7,920.5 L277.8,920.5 L278.9,920.5 L280.0,920.5 L280.9,920.5 L281.8,920.5 L282.7,920.5 L283.7,920.5 L284.7,920.5 L285.7,920.5 L286.7,920.5 L287.7,920.6 L288.7,920.6 L289.8,920.6 L290.8,920.6 L291.9,920.6 L292.9,920.6 L293.9,920.6 L294.9,920.7 L296.0,920.7 L297.0,920.7 L297.9,920.7 L298.9,920.8 L299.8,920.8 L300.7,920.9 L301.6,920.9 L302.5,920.9 L303.3,921.0 L304.4,921.1 L305.5,921.2 L306.5,921.4 L307.5,921.5 L308.4,921.7 L309.4,921.8 L310.3,922.0 L311.2,922.1 L312.1,922.2 L313.0,922.3 L313.9,922.4 L314.9,922.4 L315.9,922.4 L316.8,922.3 L317.8,922.3 L318.8,922.2 L319.8,922.1 L320.8,921.9 L321.7,921.8 L322.7,921.6 L323.7,921.5 L324.7,921.3 L325.6,921.2 L326.6,921.0 L327.6,920.8 L328.5,920.7 L329.5,920.5 L330.5,920.3 L331.4,920.1 L332.4,919.9 L333.4,919.7 L334.3,919.5 L335.3,919.3 L336.3,919.1 L337.2,918.9 L338.2,918.7" stroke="#2a3af2"/><path d="M338.2,918.7 L339.6,918.2 L340.1,913.6 L340.6,917.8 L341.5,918.2 L362.7,918.2" stroke="#2a3af2"/></g><g font-family="Liberation Sans, sans-serif" font-size="11.30" fill="#1a1a1a" stroke="#1a1a1a" stroke-width="0.35"><text x="60.78" y="1004.80" text-anchor="middle">40</text><text x="89.54" y="1004.80" text-anchor="middle">60</text><text x="118.30" y="1004.80" text-anchor="middle">80</text><text x="147.06" y="1004.80" text-anchor="middle">100</text><text x="175.82" y="1004.80" text-anchor="middle">120</text><text x="204.58" y="1004.80" text-anchor="middle">140</text><text x="233.34" y="1004.80" text-anchor="middle">160</text><text x="262.10" y="1004.80" text-anchor="middle">180</text><text x="290.86" y="1004.80" text-anchor="middle">200</text><text x="319.62" y="1004.80" text-anchor="middle">220</text><text x="348.38" y="1004.80" text-anchor="middle">240</text><text x="37.80" y="737.07" text-anchor="end">2.5</text><text x="37.80" y="763.87" text-anchor="end">2.0</text><text x="37.80" y="790.67" text-anchor="end">1.5</text><text x="37.80" y="817.47" text-anchor="end">1.0</text><text x="37.80" y="844.27" text-anchor="end">0.5</text><text x="37.80" y="871.07" text-anchor="end">0.0</text><text x="37.80" y="897.87" text-anchor="end">-0.5</text><text x="37.80" y="924.67" text-anchor="end">-1.0</text><text x="37.80" y="951.47" text-anchor="end">-1.5</text><text x="37.80" y="978.27" text-anchor="end">-2.0</text></g><text x="278.80" y="742.30" font-size="6.60" fill="#1a1a1a" stroke="#1a1a1a" stroke-width="0.2" textLength="51.76" lengthAdjust="spacingAndGlyphs" style="font-family:'Liberation Serif',serif">1. PLLA/PBAT 9/1</text><text x="278.80" y="750.50" font-size="6.60" fill="#1a1a1a" stroke="#1a1a1a" stroke-width="0.2" textLength="51.76" lengthAdjust="spacingAndGlyphs" style="font-family:'Liberation Serif',serif">2. PLLA/PBAT 8/2</text><text x="278.80" y="758.80" font-size="6.60" fill="#1a1a1a" stroke="#1a1a1a" stroke-width="0.2" textLength="51.76" lengthAdjust="spacingAndGlyphs" style="font-family:'Liberation Serif',serif">3. PLLA/PBAT 7/3</text><text x="278.80" y="767.00" font-size="6.60" fill="#1a1a1a" stroke="#1a1a1a" stroke-width="0.2" textLength="51.76" lengthAdjust="spacingAndGlyphs" style="font-family:'Liberation Serif',serif">4. PLLA/PBAT 5/5</text><text x="278.80" y="775.50" font-size="6.60" fill="#1a1a1a" stroke="#1a1a1a" stroke-width="0.2" textLength="81.71" lengthAdjust="spacingAndGlyphs" style="font-family:'Liberation Serif',serif">5.PLLA/PBAT 9/1+ 5%PDLA</text><text x="278.80" y="783.40" font-size="6.60" fill="#1a1a1a" stroke="#1a1a1a" stroke-width="0.2" textLength="83.23" lengthAdjust="spacingAndGlyphs" style="font-family:'Liberation Serif',serif">6.PLLA/PBAT 9/1+10%PDLA</text><text x="278.80" y="791.60" font-size="6.60" fill="#1a1a1a" stroke="#1a1a1a" stroke-width="0.2" textLength="80.18" lengthAdjust="spacingAndGlyphs" style="font-family:'Liberation Serif',serif">7.PLLA/PBAT 8/2+5%PDLA</text><text x="278.80" y="799.80" font-size="6.60" fill="#1a1a1a" stroke="#1a1a1a" stroke-width="0.2" textLength="83.23" lengthAdjust="spacingAndGlyphs" style="font-family:'Liberation Serif',serif">8.PLLA/PBAT 8/2+10%PDLA</text><text x="55.10" y="760.93" font-size="9.50" fill="#1a1a1a" stroke="#1a1a1a" stroke-width="0.2" text-anchor="middle" style="font-family:'Liberation Serif',serif">1</text><text x="56.00" y="788.34" font-size="9.50" fill="#1a1a1a" stroke="#1a1a1a" stroke-width="0.2" text-anchor="middle" style="font-family:'Liberation Serif',serif">2</text><text x="56.00" y="817.63" font-size="9.50" fill="#1a1a1a" stroke="#1a1a1a" stroke-width="0.2" text-anchor="middle" style="font-family:'Liberation Serif',serif">3</text><text x="56.00" y="843.53" font-size="9.50" fill="#1a1a1a" stroke="#1a1a1a" stroke-width="0.2" text-anchor="middle" style="font-family:'Liberation Serif',serif">4</text><text x="55.10" y="874.24" font-size="9.50" fill="#1a1a1a" stroke="#1a1a1a" stroke-width="0.2" text-anchor="middle" style="font-family:'Liberation Serif',serif">5</text><text x="53.20" y="890.13" font-size="9.50" fill="#1a1a1a" stroke="#1a1a1a" stroke-width="0.2" text-anchor="middle" style="font-family:'Liberation Serif',serif">6</text><text x="54.60" y="905.74" font-size="9.50" fill="#1a1a1a" stroke="#1a1a1a" stroke-width="0.2" text-anchor="middle" style="font-family:'Liberation Serif',serif">7</text><text x="55.10" y="922.13" font-size="9.50" fill="#1a1a1a" stroke="#1a1a1a" stroke-width="0.2" text-anchor="middle" style="font-family:'Liberation Serif',serif">8</text><text x="141.00" y="746.60" font-size="13.00" fill="#111" stroke="#111" stroke-width="0.3" style="font-family:'Liberation Serif',serif">(c) Second heating</text><text x="0" y="0" font-size="13.40" fill="#111" stroke="#111" stroke-width="0.25" text-anchor="middle" transform="translate(10.80,853.90) rotate(-90)">Heat flow (W/g)</text><text x="162.50" y="1026.10" font-size="13.30" fill="#111" stroke="#111" stroke-width="0.25">Temperature (<tspan font-size="14" style="font-family:'Liberation Serif',serif">&#176;C</tspan>)</text></svg></body></html>
